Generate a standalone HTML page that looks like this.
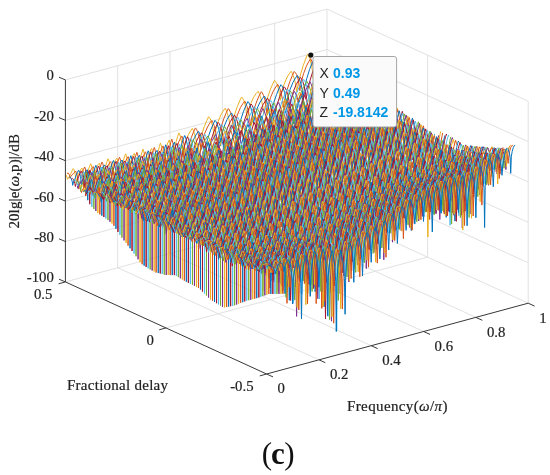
<!DOCTYPE html>
<html><head><meta charset="utf-8"><style>
html,body{margin:0;padding:0;background:#fff;width:550px;height:475px;overflow:hidden}
svg{display:block;filter:blur(0.35px)}
</style></head><body>
<svg width="550" height="475" viewBox="0 0 550 475">
<rect width="550" height="475" fill="#fff"/>
<path d="M65.4 79.9L327.0 9.1M65.4 120.3L327.0 49.5M65.4 160.7L327.0 89.9M65.4 201.1L327.0 130.3M65.4 241.5L327.0 170.7M65.4 281.9L327.0 211.1M117.7 267.7L117.7 65.7M170.0 253.6L170.0 51.6M222.4 239.4L222.4 37.4M274.7 225.3L274.7 23.3M327.0 211.1L327.0 9.1M327.0 9.1L528.2 101.2M327.0 49.5L528.2 141.6M327.0 89.9L528.2 182.0M327.0 130.3L528.2 222.4M327.0 170.7L528.2 262.8M427.6 257.1L427.6 55.1M528.2 303.2L528.2 101.2M117.7 267.7L318.9 359.8M170.0 253.6L371.2 345.7M222.4 239.4L423.6 331.5M274.7 225.3L475.9 317.4M327.0 211.1L528.2 303.2M166.0 327.9L427.6 257.1" stroke="#dedede" stroke-width="0.9" fill="none"/>
<g transform="scale(0.1)" fill="none" stroke-width="10" stroke-linejoin="round">
<path stroke="#EDB120" d="M654 1747l3-3 8 16 6 17 4 16 8-10 11-19 15-31 13-27 10-20 6 7 6 16 8 34 6 41 4 44 8-37 12-38 15-39 12-22 11-11 5 17 6 28 8 46 6 48 4 59 8-63 12-56 15-58 12-39 11-26 5 11 7 22 7 40 6 46 4 66 9-69 11-48 15-40 13-22 10-11 5 17 7 28 8 46 6 48 4 48 8-52 11-56 15-58 13-39 10-26 6 11 6 23 8 42 6 49 4 51 8-53 11-50 15-43 13-23 10-12 6 19 6 30 8 51 6 54 4 58 8-61 12-61 15-64 12-42 11-28 5 13 6 26 8 48 6 55 4 59 8-60 12-57 15-48 12-27 11-14 5 20 7 34 7 56 6 61 4 73 9-76 11-68 15-68 13-46 10-30 5 15 7 29 8 53 6 62 4 68 8-69 11-64 15-53 13-30 10-16 6 22 6 37 8 61 6 68 4 77 8-80 11-75 15-77 13-53 10-34 6 15 6 29 8 54 6 64 4 106 8-112 12-72 15-60 12-34 11-20 5 21 7 36 7 58 7 67 4 74 9-83 13-80 17-78 16-52 13-35 7 15 9 28 11 53 8 63 6 84 12-92 17-72 24-62 21-37 18-24 10 19 11 31 15 54 11 63 8 73 15-88 22-85 28-86 24-59 19-40 11 12 12 24 14 48 12 59 8 87 15-101 22-77 28-69 24-41 19-26 10 18 13 32 14 53 11 62 8 76 16-90 21-83 29-84 24-58 19-39 10 12 13 25 14 49 11 61 8 81 15-91 22-73 28-62 24-37 20-22 10 19 12 31 15 53 11 61 8 68 15-82 22-82 28-82 24-57 20-39 10 11 12 23 15 45 11 57 8 65 15-80 22-76 28-68 24-41 20-26 10 16 12 29 15 47 11 55 8 61 15-83 22-89 28-93 24-65 19-45 10 7 13 31 14 56 12 64 7 80 8-59M837 1760V1921M838 1760V1921"/>
<path stroke="#D95319" d="M674 1737l3-8 6 2 8 12 6 15 4 25 8-19 12-15 15-17 12-12 11-7 5 14 7 24 7 41 6 45 4 54 8-49 12-49 15-59 12-39 11-25 5 10 7 22 7 40 6 46 5 51 8-54 11-47 15-41 13-21 10-11 5 17 7 28 8 46 6 48 4 51 8-55 11-56 15-58 13-40 10-25 6 11 6 21 8 41 6 46 4 50 8-53 11-48 15-40 13-22 10-11 6 18 6 29 8 48 6 51 4 55 8-58 12-58 15-61 12-41 11-27 5 12 7 25 7 45 6 53 4 53 8-55 12-54 15-45 12-25 11-14 5 20 7 33 7 53 6 58 5 80 8-83 11-65 15-66 13-45 10-29 5 15 7 27 8 51 6 59 4 77 8-78 11-61 15-51 13-28 10-16 6 22 6 36 8 58 6 65 4 69 8-72 11-72 15-71 13-47 10-31 6 16 6 31 8 55 6 66 4 88 8-90 12-68 15-60 12-34 11-20 5 22 7 35 7 59 6 67 4 104 8-111 12-79 15-78 12-52 11-34 5 15 7 29 8 53 6 64 5 74 9-80 13-72 18-60 16-34 14-20 7 21 9 36 11 58 8 65 6 79 12-87 18-81 24-79 22-55 18-39 10 13 12 25 14 49 12 60 7 70 16-82 21-77 29-67 24-40 19-25 10 18 13 31 14 54 11 61 8 80 15-95 22-84 28-85 24-59 20-40 10 12 12 25 15 48 11 59 8 88 15-100 22-75 28-67 24-39 20-25 10 19 12 32 15 55 11 62 8 76 15-87 22-80 28-80 24-55 20-37 10 12 12 25 15 47 11 59 8 78 15-91 22-74 28-64 24-39 19-26 10 17 13 30 14 51 12 58 7 75 16-91 21-84 29-85 24-60 19-40 10 10 13 19 14 42 11 53 8 68 15-89 22-80 28-75 24-46 20-31 10 24 12 38 15 61 11 66 4 42M857 1700V1961M858 1700V1961"/>
<path stroke="#0072BD" d="M694 1773l4-5 5 5 7 9 7 17 6 19 4 35 8-33 12-26 15-39 13-32 10-21 5 7 7 19 7 37 6 44 5 48 8-41 11-46 15-41 13-21 10-11 5 17 7 28 8 46 6 48 4 66 8-70 11-56 15-58 13-39 10-26 6 11 6 22 8 40 6 46 4 90 8-93 11-48 15-40 13-21 10-11 6 17 6 28 8 46 6 48 4 47 8-51 12-55 15-58 12-40 11-26 5 11 7 23 7 43 6 49 4 73 8-74 12-51 15-43 13-23 10-13 5 19 7 31 7 51 6 55 5 61 8-64 11-62 15-63 13-43 10-28 5 13 7 26 8 48 6 57 4 63 8-65 11-58 15-48 13-26 10-15 6 21 6 34 8 56 6 62 4 66 8-69 11-69 15-69 13-46 10-30 6 16 6 29 8 53 6 63 4 100 8-101 12-65 15-53 12-30 11-16 5 22 7 38 7 61 6 68 4 75 8-78 12-78 15-78 13-52 10-34 5 16 7 29 7 54 6 65 5 87 8-93 11-71 15-60 13-33 10-20 6 22 6 35 9 59 6 66 5 78 9-86 13-79 19-76 16-52 14-34 7 15 9 29 11 52 9 64 6 96 13-103 18-72 25-61 22-38 18-24 10 19 12 32 15 55 11 63 8 80 15-94 22-83 28-84 24-57 20-40 10 12 12 25 15 49 11 59 8 110 15-123 22-76 28-66 24-40 20-25 10 18 12 31 15 54 11 61 8 69 15-83 22-83 28-84 24-58 19-38 11 13 12 26 14 49 12 60 7 69 16-79 21-72 29-62 24-36 19-24 10 18 13 31 14 53 11 60 8 84 15-97 22-82 29-83 23-57 20-40 10 10 12 23 15 45 11 57 8 67 15-82 22-76 28-68 24-41 20-27 10 15 12 26 15 47 11 55 8 89 15-110 22-89 28-91 24-65 20-34 10 17 12 31 15 55 3 47M877 1714V2002M878 1714V2002"/>
<path stroke="#A2142F" d="M714 1787l10-2 5 4 7 9 7 18 6 20 5 29 8-29 11-30 15-43 13-32 10-22 5 9 7 19 8 39 6 46 4 51 8-48 11-47 15-41 13-21 10-11 6 17 6 28 8 46 6 48 4 79 8-83 12-56 14-58 13-39 11-26 5 11 6 22 8 40 6 46 4 46 8-48 12-48 15-41 12-21 11-11 5 17 7 28 7 46 6 48 4 57 8-60 12-55 15-59 13-40 10-26 5 12 7 23 7 43 6 50 5 57 8-59 11-51 15-43 13-23 10-13 5 19 7 31 8 51 6 56 4 55 8-58 11-63 15-63 13-43 10-29 6 14 6 26 8 49 6 57 4 60 8-62 12-58 14-49 13-26 11-15 5 21 6 34 8 57 6 62 4 66 8-69 12-69 15-69 12-46 11-30 5 15 7 30 7 53 6 63 4 72 8-73 12-65 15-54 13-29 10-17 5 23 7 37 7 61 6 69 5 77 8-81 11-79 15-77 13-52 10-34 5 16 7 30 8 54 6 64 4 76 8-81 11-71 15-59 13-33 10-20 6 22 7 36 8 58 7 67 5 77 9-85 14-78 19-77 16-51 14-34 8 15 9 29 12 53 9 64 6 72 12-79 19-72 25-61 23-38 19-23 10 19 12 32 15 55 11 64 8 93 15-106 22-82 28-83 24-57 19-39 11 12 12 25 14 49 12 60 7 77 16-90 21-75 29-66 24-40 19-24 10 18 13 31 14 53 11 62 8 83 16-97 21-83 29-84 24-58 19-37 10 13 12 26 15 50 11 59 8 87 15-97 22-72 28-62 24-37 20-24 10 18 12 31 15 53 11 60 8 66 15-80 22-81 28-83 24-58 20-41 10 11 12 23 15 45 11 56 8 72 15-87 22-75 28-68 24-41 20-30 10 15 12 26 14 47 12 56 8 70 15-92 22-87 28-92 24-61 19-27 10 17 13 30 7 60M897 1706V2042M898 1706V2042"/>
<path stroke="#4DBEEE" d="M734 1803l6 2 10-6 5 4 7 9 8 18 6 21 4 19 8-20 11-34 15-46 13-31 10-22 6 9 6 20 8 40 6 48 4 81 8-82 12-48 15-40 12-21 11-11 5 17 6 28 8 46 6 48 4 47 8-51 12-55 15-59 12-39 11-25 5 10 7 22 7 41 6 46 4 54 8-57 12-48 15-40 13-22 10-11 5 17 7 29 7 46 6 48 5 77 8-80 11-56 15-58 13-40 10-26 5 12 7 23 8 43 6 50 4 54 8-55 11-52 15-43 13-24 10-12 6 19 6 31 8 52 6 55 4 61 8-63 12-63 15-64 12-43 11-29 5 14 6 27 8 48 6 57 4 76 8-77 12-59 15-48 12-27 11-15 5 21 7 35 7 56 6 63 4 67 8-70 12-69 15-70 13-46 10-30 5 16 7 29 7 54 6 63 5 77 8-78 11-65 15-54 13-30 10-17 5 24 7 37 8 61 6 69 4 79 8-85 11-78 15-77 13-51 10-34 6 16 6 29 8 54 6 65 4 87 8-92 12-70 15-59 12-33 11-20 6 22 7 36 8 59 7 66 5 83 9-90 15-77 19-76 17-51 14-34 8 15 9 29 12 53 9 64 6 79 13-85 19-72 26-62 23-37 19-23 10 20 13 33 14 55 12 63 7 79 16-90 21-82 29-82 24-57 19-38 10 12 13 26 14 49 11 60 8 67 15-79 22-75 28-65 24-40 20-25 10 19 12 31 15 53 11 61 8 88 15-102 22-83 28-83 24-57 20-36 10 13 12 25 15 50 11 59 8 72 15-82 22-71 28-63 24-38 20-24 10 18 12 31 15 53 11 60 8 93 15-107 22-81 28-83 24-59 19-41 10 10 13 23 14 45 12 57 7 74 16-89 21-76 29-67 24-43 19-30 10 14 13 27 14 47 11 55 8 86 15-107 22-87 28-91 24-51 20-28 10 17 8 58M918 1720V2069M919 1720V2069"/>
<path stroke="#77AC30" d="M755 1823l11-3 10-8 6 4 6 9 8 19 6 22 4 49 8-52 12-37 15-45 12-32 11-24 5 11 6 22 8 42 6 46 4 55 8-58 12-47 15-40 12-23 11-12 5 18 7 30 7 46 6 47 4 48 8-52 12-55 15-58 13-40 10-27 5 12 7 23 8 41 5 45 5 47 8-50 11-47 15-40 13-23 10-12 5 18 7 30 8 46 6 48 4 50 8-53 11-55 15-59 13-41 10-27 6 13 6 25 8 43 6 50 4 49 8-51 12-50 15-44 12-25 11-15 5 21 6 33 8 52 6 55 4 74 8-77 12-61 15-65 12-45 11-30 5 16 7 28 7 49 6 57 4 99 8-101 12-57 15-50 13-28 10-17 5 23 7 37 8 57 5 62 5 64 8-67 11-68 15-70 13-49 10-32 5 18 7 31 8 55 6 63 4 112 8-114 11-64 15-55 13-31 10-19 6 25 6 40 8 62 6 66 4 82 8-88 12-77 15-77 12-53 11-35 5 18 6 31 8 55 6 64 4 78 8-83 12-69 15-59 13-35 11-21 5 24 8 38 8 59 7 65 5 86 10-92 14-76 20-76 17-52 15-36 8 18 10 31 11 53 10 63 6 109 13-115 20-70 26-63 23-38 20-25 10 22 12 35 15 57 11 62 8 78 15-89 22-79 28-82 24-58 20-41 10 15 12 28 15 49 11 59 8 69 15-80 22-72 28-67 24-41 20-27 10 21 12 33 15 53 11 60 8 71 15-85 22-81 28-85 24-56 19-39 10 15 13 27 14 50 12 58 7 75 16-85 21-70 29-63 24-41 19-26 10 20 13 33 14 53 11 58 8 77 15-90 22-80 29-85 23-61 20-42 10 12 12 25 15 45 11 55 8 61 15-76 22-74 28-68 24-46 20-32 10 16 12 29 15 47 11 54 8 61 15-81 22-86 28-89 24-46 20-31 6 54M938 1738V2090M939 1738V2090"/>
<path stroke="#7E2F8E" d="M775 1861l3 23 7-29 12-15 14-21 13-18 10-15 5 9 7 16 8 29 6 36 5 38 8-31 11-38 14-48 13-41 10-29 6 15 6 24 8 41 7 43 4 43 8-46 11-45 15-41 12-24 10-15 6 21 7 32 8 46 6 46 4 44 8-48 11-53 15-58 12-42 10-30 6 15 7 25 8 40 6 44 4 49 8-52 11-45 15-42 12-24 11-15 5 21 7 33 8 48 6 48 5 59 7-62 12-54 14-60 13-44 10-30 5 16 7 27 8 46 6 48 5 49 8-50 11-50 14-46 13-28 10-18 6 24 6 37 8 54 7 54 4 54 8-56 11-61 15-66 12-48 10-33 6 19 7 31 8 51 6 56 4 95 8-97 11-57 15-51 12-32 10-21 6 27 7 41 8 59 6 61 4 67 8-69 11-68 15-72 12-51 11-36 5 22 7 34 8 56 6 62 5 76 7-78 12-63 14-56 13-37 10-25 5 29 7 41 8 62 6 63 5 72 8-78 11-74 14-78 13-55 10-39 6 21 6 35 8 55 7 61 4 68 8-73 12-67 16-61 14-38 12-24 7 28 8 41 10 61 8 63 6 90 10-96 16-74 21-78 18-55 16-40 9 21 11 32 13 54 10 58 8 64 13-73 21-69 26-64 22-41 18-28 10 26 13 38 14 58 11 60 8 64 14-76 21-77 26-83 22-60 18-43 10 18 13 30 14 50 11 56 8 63 14-75 21-70 26-67 22-43 18-30 10 24 13 36 14 55 11 58 8 73 14-87 21-77 26-80 22-59 18-41 11 18 12 30 14 50 12 55 7 68 15-77 20-69 26-65 22-42 19-29 10 24 12 36 14 54 12 56 7 74 15-86 20-78 26-85 22-62 19-45 10 16 12 26 14 46 12 53 7 65 15-80 20-70 26-69 22-49 19-34 10 21 12 31 14 49 12 52 8 54 14-73 20-82 26-82 22-49 19-34 3 49M958 1859V2110M959 1859V2110"/>
<path stroke="#EDB120" d="M795 1870l12-7 9-13 6 4 7 9 9 17 6 19 5 17 8-23 10-38 15-44 12-34 10-27 5 14 8 26 8 43 7 41 4 55 8-58 11-43 14-42 12-26 10-18 6 24 7 34 8 47 7 44 4 42 8-46 11-50 14-59 12-43 10-32 6 17 7 26 8 41 7 41 4 50 8-53 11-43 14-42 12-26 10-18 6 24 7 34 9 47 6 45 5 49 7-52 11-50 15-59 12-45 9-32 6 18 7 28 9 44 6 46 5 44 8-45 10-47 15-46 12-29 10-21 5 27 8 39 8 53 7 52 4 58 8-61 11-57 14-65 12-49 10-36 6 22 7 32 8 51 7 51 4 52 8-53 11-53 14-52 12-34 10-23 6 30 7 43 8 59 7 58 4 74 8-76 11-64 14-71 12-53 10-39 6 24 7 37 9 56 6 58 5 86 7-88 11-59 15-57 12-38 9-26 6 33 7 46 9 64 6 62 5 71 8-78 10-71 15-78 12-58 10-42 5 24 8 37 8 56 7 59 4 58 8-63 11-64 14-62 12-41 10-28 7 32 8 44 9 62 7 60 5 59 9-65 14-71 17-77 16-58 13-43 8 24 10 36 12 55 9 57 7 65 11-71 17-65 22-63 20-43 16-31 10 30 13 42 14 59 11 58 8 66 13-76 19-73 24-81 21-60 17-46 10 21 12 33 14 51 11 54 8 60 13-71 19-67 24-66 21-45 17-32 10 28 12 40 15 56 11 56 7 67 14-80 18-74 25-83 20-63 17-46 10 21 12 31 15 51 11 53 8 74 13-83 19-65 24-64 21-44 17-30 10 28 12 40 14 57 11 55 8 57 13-69 19-73 24-82 21-61 17-45 10 20 12 31 14 49 12 51 7 63 13-76 19-68 25-68 20-47 17-33 10 26 12 37 15 53 11 53 8 53 13-68 19-77 24-88 21-66 16-50 10 16 13 27 14 44 11 48 8 58 13-76 19-66 24-52 21-34 2-19M978 1766V2131M979 1766V2131"/>
<path stroke="#D95319" d="M815 1911l0 14 8-24 10-16 14-23 12-21 10-20 6 9 7 15 9 25 7 31 4 37 8-30 11-33 13-46 12-42 10-33 6 18 7 28 9 41 7 39 5 39 7-42 11-42 14-42 11-28 10-20 6 26 7 36 9 48 7 42 5 42 7-46 11-48 14-58 12-46 9-33 6 19 8 27 8 41 7 40 5 35 7-38 11-42 14-43 12-28 9-20 6 27 8 37 9 49 6 44 5 55 8-57 10-50 14-60 12-47 10-35 6 21 7 31 9 45 7 45 4 57 8-58 11-47 13-47 12-33 10-23 6 30 7 42 9 56 7 50 5 51 7-53 11-56 14-66 11-52 10-39 6 24 7 36 9 52 7 51 5 59 7-61 11-52 14-54 12-37 9-28 6 35 8 46 8 62 7 57 5 50 7-53 11-62 14-73 12-56 9-42 6 27 8 40 9 58 6 56 5 57 8-58 10-59 14-59 12-41 10-32 6 36 7 47 9 64 7 59 4 76 8-82 11-69 13-78 12-60 10-46 6 28 7 39 9 57 7 55 5 60 7-65 11-61 15-63 13-44 11-32 7 35 8 48 11 63 8 58 6 60 9-67 13-68 19-79 15-61 14-46 8 27 11 38 13 55 10 54 7 70 11-77 17-64 23-65 19-46 15-33 10 33 12 45 14 61 11 55 8 89 12-98 18-70 22-82 19-64 16-49 10 25 12 35 14 52 11 51 8 73 12-83 17-64 23-67 19-48 15-35 10 32 12 43 14 58 11 53 8 62 12-74 18-71 22-82 19-64 16-48 10 23 12 36 14 51 11 51 8 50 12-60 17-62 23-64 19-46 15-34 10 32 12 43 14 58 11 52 8 58 12-69 18-69 22-81 19-63 16-47 10 23 12 34 14 50 11 48 8 50 12-63 17-65 23-67 19-49 15-35 10 29 12 40 15 54 11 51 7 80 12-94 18-72 22-86 19-68 16-52 10 20 12 30 14 44 11 46 8 52 12-68 17-67 23-60 19-37 15-26 5 54M998 1873V2144M999 1873V2144"/>
<path stroke="#0072BD" d="M835 1918l8-12 9-1 7 6 5 29 7-38 11-25 13-33 12-29 9-21 6 20 8 31 9 43 7 42 5 49 7-42 11-42 13-58 12-44 9-34 6 19 8 27 9 40 7 39 5 35 8-37 10-42 13-43 12-29 9-20 7 27 7 36 10 48 7 43 4 53 8-57 10-49 14-57 11-45 9-34 7 19 8 27 9 41 7 39 5 52 7-54 10-42 14-43 11-29 10-20 6 28 8 37 9 51 7 46 5 60 7-63 11-50 13-61 12-47 9-36 6 21 8 31 9 47 7 46 5 52 7-54 11-47 13-49 12-34 9-24 6 32 8 42 9 57 7 52 5 66 8-68 10-57 13-67 12-52 9-40 7 25 7 36 10 53 7 52 4 56 8-58 10-53 14-55 11-39 9-28 7 35 8 48 9 63 7 57 5 59 7-61 10-63 14-73 11-57 10-43 6 29 8 40 9 58 7 57 5 55 7-57 11-60 13-63 12-44 9-32 6 36 8 48 9 64 7 59 5 67 7-73 11-68 13-78 12-60 9-45 6 27 8 39 10 56 7 55 5 73 8-78 11-62 15-63 13-44 11-32 8 36 9 47 11 63 9 57 6 71 10-77 13-69 18-78 16-61 13-46 9 26 11 37 14 54 10 53 7 54 12-61 16-63 20-65 18-45 14-33 10 34 12 45 14 61 11 55 7 51 11-60 16-70 21-82 18-63 14-48 10 25 12 34 14 52 10 51 8 79 11-89 16-64 21-66 17-47 15-34 9 32 12 43 14 58 11 54 8 59 11-70 16-70 21-81 17-62 14-48 10 24 12 35 14 51 11 50 7 59 12-68 16-62 20-64 18-45 14-33 10 32 12 43 14 58 11 53 7 58 11-68 16-69 21-79 18-61 14-47 10 24 12 34 14 49 10 50 8 54 11-66 16-64 21-67 17-48 15-35 9 30 12 41 14 54 11 51 8 46 11-59 16-70 21-82 17-66 15-50 9 20 12 29 14 45 11 45 8 62 11-76 16-66 20-68 18-49 14-26 10 35 12 47 14 61 1 23M1018 1809V2157M1019 1809V2157"/>
<path stroke="#A2142F" d="M855 1949l8-11 13-24 11-22 9-20 7 5 8 10 10 19 7 20 5 33 7-34 10-30 13-43 12-38 9-32 6 18 8 27 10 40 7 39 5 84 7-87 10-42 14-43 11-28 9-21 6 28 8 36 10 48 7 42 5 35 8-38 10-48 13-58 11-44 9-33 7 18 8 27 9 40 8 39 5 48 7-50 10-43 13-43 11-29 9-20 7 27 8 37 9 50 8 44 5 39 7-41 10-49 13-59 11-46 9-35 7 21 8 30 10 44 7 45 5 44 7-46 10-46 13-48 12-33 9-23 6 31 8 42 10 56 7 50 5 51 7-53 10-55 14-65 11-51 9-39 6 24 8 35 10 51 7 50 5 51 8-52 10-53 13-53 11-38 9-27 7 34 8 47 9 62 8 57 5 71 7-73 10-62 13-72 11-55 9-42 7 27 8 39 9 57 8 55 5 62 7-63 10-59 13-59 11-41 9-31 7 37 8 48 10 64 7 59 5 64 7-70 10-68 13-77 12-59 9-45 6 27 8 38 10 56 7 55 5 55 7-60 11-61 13-63 12-44 9-32 7 36 9 47 11 64 8 58 6 61 8-68 12-68 15-77 14-60 11-46 8 27 11 37 12 54 10 54 6 88 10-95 13-62 19-64 15-45 13-33 10 35 11 46 14 61 11 56 7 74 10-82 15-68 19-78 16-61 13-45 10 24 11 35 14 51 11 51 7 52 10-61 15-63 19-66 16-47 13-33 10 32 11 44 14 59 11 54 7 54 10-64 15-69 19-80 16-61 13-47 10 23 11 34 14 51 11 50 7 68 10-77 15-63 19-65 16-45 13-33 10 33 11 44 14 58 11 54 7 51 10-60 15-68 19-78 16-60 13-46 10 23 11 34 14 50 11 50 7 52 10-60 15-61 19-64 16-44 13-33 10 33 11 43 14 56 11 52 7 53 10-66 15-69 19-80 16-62 13-48 10 22 11 31 14 47 11 48 7 50 10-62 15-62 19-67 16-49 13-35 10 29 11 39 14 52 11 49 7 47 10-61 15-70 19-82 16-64 13-43 10 27 11 37 14 55 9 53M1038 1858V2170M1039 1858V2170"/>
<path stroke="#4DBEEE" d="M875 1939l4-2 11-17 9-15 6 3 9 7 10 16 7 17 6 39 7-49 9-39 13-38 11-35 9-29 7 16 8 27 10 41 8 39 5 39 7-42 10-42 12-43 11-29 9-20 7 27 8 36 10 49 8 42 5 47 7-50 10-48 13-57 10-44 9-33 7 18 8 26 10 40 8 39 5 36 7-39 10-42 13-43 11-29 8-21 7 28 9 36 10 49 7 44 5 63 7-65 10-48 13-58 11-45 9-35 6 20 9 29 10 44 7 43 6 69 7-70 9-46 13-47 11-33 9-23 7 31 8 41 10 56 8 50 5 62 7-64 10-55 12-64 11-50 9-38 7 23 8 34 10 50 8 50 5 53 7-54 10-53 13-53 10-38 9-27 7 35 8 46 10 62 8 56 5 56 7-58 10-61 13-70 11-55 8-42 7 27 9 38 10 56 7 55 5 77 7-79 10-58 13-59 11-42 9-30 6 38 9 50 10 65 7 59 6 56 7-62 9-68 13-76 11-60 9-45 7 27 8 39 10 55 8 55 5 53 7-58 10-62 12-63 11-44 9-32 8 36 8 48 11 63 8 59 6 52 7-58 11-68 14-76 13-60 10-45 8 26 10 38 12 54 9 54 6 81 9-88 12-61 16-64 14-44 12-33 9 35 11 46 13 62 10 57 8 87 9-95 13-67 18-78 14-59 12-46 10 26 11 36 13 52 11 53 7 51 9-60 14-63 17-65 15-46 12-33 9 33 11 44 14 60 10 54 7 52 9-61 14-69 17-78 15-61 12-46 9 24 11 34 14 50 10 51 7 48 10-57 13-62 17-65 15-45 12-33 9 32 12 44 13 59 10 54 8 62 9-71 13-67 18-77 14-59 12-45 10 23 11 34 13 50 11 50 7 57 9-65 14-61 17-63 15-44 12-32 9 33 11 43 14 59 10 53 7 77 9-86 14-66 17-76 15-59 12-46 9 22 11 31 14 47 10 48 7 48 10-58 13-63 17-64 15-46 12-34 9 31 12 41 13 56 10 51 8 48 9-60 13-69 18-81 14-62 12-48 10 20 11 30 13 45 11 45 7 50 9-62 13-63 18-67 14-40 12-26 10 36 11 47 10 55M1058 1818V2184M1059 1818V2184"/>
<path stroke="#77AC30" d="M895 1936l9-9 9-13 7 3 8 8 11 15 7 17 6 27 7-35 9-36 13-43 10-33 9-28 7 15 8 25 11 43 8 39 5 36 7-39 9-42 13-44 10-29 9-20 7 27 9 37 10 49 8 42 5 68 7-71 10-48 12-56 11-44 8-33 7 18 9 26 10 39 8 39 6 39 6-42 10-42 12-44 11-29 8-21 7 28 9 37 10 49 8 43 6 49 6-51 10-48 12-57 11-45 9-34 7 19 8 29 11 43 7 44 6 45 7-47 9-46 13-47 10-33 9-23 7 30 8 42 11 56 8 50 5 48 7-50 9-54 13-64 10-50 9-37 7 22 9 34 10 50 8 49 5 63 7-64 10-53 12-53 11-38 8-27 7 34 9 47 10 62 8 56 6 61 6-63 10-60 12-70 11-55 8-41 7 26 9 38 10 55 8 55 6 83 6-85 10-58 12-60 11-42 9-30 7 38 8 50 11 66 7 59 6 54 7-60 9-67 13-76 10-59 9-45 7 27 8 38 11 55 8 54 5 66 7-71 9-62 13-63 10-44 9-32 7 36 9 48 11 64 8 58 6 59 7-65 10-67 14-76 11-58 10-45 8 26 10 37 11 54 9 54 7 52 7-58 12-62 14-63 13-45 10-32 9 35 11 47 12 63 10 56 7 55 9-61 12-68 16-76 13-59 11-44 9 25 11 36 13 52 10 53 7 65 8-72 12-61 16-64 13-46 11-33 9 33 11 45 13 60 10 55 7 62 9-70 12-68 16-77 13-60 11-46 9 24 11 34 13 50 10 51 7 52 8-60 12-62 16-64 13-45 11-33 9 33 11 45 13 59 10 54 7 57 9-65 12-67 16-77 13-58 11-45 9 24 11 33 13 51 10 50 7 60 8-68 12-60 16-63 13-44 11-32 9 33 11 45 13 59 10 53 7 52 9-60 12-65 16-75 13-58 11-45 9 23 11 34 13 49 10 50 7 84 8-92 12-61 16-64 13-45 11-33 9 31 11 42 13 56 10 52 7 46 9-57 12-66 15-77 14-60 11-45 9 21 11 32 13 45 10 46 7 48 8-59 12-63 16-65 13-47 11-33 9 29 11 40 13 54 10 50 7 56 9-68 12-68 15-67 14-52 11-39 9 26 4 26M1079 1813V2201M1080 1813V2201"/>
<path stroke="#7E2F8E" d="M916 1942l6-7 12-18 10-16 9-14 7 7 9 13 10 22 9 24 5 30 7-30 9-29 12-42 10-37 9-30 7 17 9 26 11 39 8 38 6 42 6-45 9-42 12-44 11-29 8-21 7 28 9 37 11 49 8 42 6 83 6-86 9-48 13-56 10-43 8-33 7 18 9 25 11 40 8 38 6 47 6-50 10-42 12-44 10-30 8-21 8 28 9 38 10 50 8 45 6 72 7-74 9-49 12-57 10-45 9-35 7 20 9 29 10 43 9 44 5 53 7-55 9-46 12-49 10-33 9-24 7 31 9 43 11 56 8 51 6 49 6-50 9-56 12-64 11-49 8-38 7 23 9 33 11 50 8 51 6 47 6-49 9-53 13-55 10-39 8-27 7 35 9 47 11 63 8 58 6 83 6-85 10-62 12-71 10-54 8-42 8 26 9 38 10 55 8 56 6 60 7-63 9-58 12-61 10-42 9-31 7 38 9 48 10 65 9 59 5 62 7-68 9-67 12-76 10-58 9-44 7 26 9 37 11 54 8 55 6 55 6-61 9-61 12-63 11-45 8-32 8 36 9 48 11 64 9 58 6 54 7-59 10-67 12-75 11-58 10-44 8 25 9 37 12 53 9 54 7 57 7-63 10-62 14-63 12-44 9-32 9 35 10 48 13 62 9 57 7 59 8-65 11-66 14-76 12-58 10-44 8 25 11 36 12 52 10 53 7 54 7-60 11-62 15-64 12-45 9-33 9 34 11 46 12 60 10 56 6 50 8-58 11-67 14-76 12-59 10-45 9 24 10 34 13 50 9 51 7 61 8-69 11-61 14-64 12-44 10-33 9 34 10 45 13 60 9 54 7 52 8-60 11-66 14-75 12-58 10-44 8 23 11 34 12 50 10 50 7 70 7-77 11-60 14-62 12-44 10-31 9 33 11 45 12 60 10 54 6 49 8-57 11-65 14-74 12-57 10-43 9 23 10 33 13 49 9 50 7 60 8-67 11-60 14-61 12-43 10-32 8 32 11 43 12 57 10 52 7 48 7-57 11-66 15-76 12-58 9-44 9 21 11 31 12 47 10 48 7 68 7-77 11-61 14-63 12-46 10-33 9 31 10 41 13 54 10 51 6 44 8-56 11-66 14-76 12-60 10-45 9 20 10 30 13 46 9 52 7 51 8-53 11-54 14-54 1-11M1099 1881V2218M1100 1881V2218"/>
<path stroke="#EDB120" d="M936 1931l2-2 8-9 8 4 9 10 11 17 9 18 6 27 6-31 9-31 12-44 9-31 9-27 7 14 9 23 11 41 9 41 6 38 6-41 9-42 12-44 10-30 8-21 7 28 10 38 11 49 8 42 6 51 6-54 9-48 12-55 10-43 8-33 8 18 9 25 11 39 8 38 6 35 6-38 9-43 12-44 10-30 8-20 8 28 9 37 11 49 8 44 6 41 7-43 9-48 11-56 10-44 8-33 8 18 9 28 11 42 9 43 6 52 6-54 9-46 12-47 9-34 9-23 7 31 9 42 11 56 9 50 6 43 6-45 9-54 12-62 10-49 8-37 7 22 10 32 11 49 8 49 6 51 6-52 9-53 12-54 10-38 8-27 8 35 9 46 11 63 8 57 6 52 6-54 9-61 12-69 10-53 8-42 8 26 9 37 11 54 8 55 6 54 7-57 9-58 11-60 10-43 8-30 8 37 9 51 11 66 9 60 6 59 6-64 9-67 12-76 9-58 9-44 7 26 9 37 11 54 9 54 6 90 6-95 9-62 12-63 10-45 8-32 7 36 10 49 11 64 8 58 6 53 7-59 9-66 12-75 10-57 9-44 7 26 10 36 12 53 8 54 7 56 6-62 10-61 12-63 10-44 9-32 8 36 10 48 12 63 9 58 6 57 7-63 10-66 13-75 10-57 9-43 9 25 10 35 12 53 9 52 6 54 7-59 10-61 13-62 10-44 9-32 9 36 10 46 12 62 9 55 6 76 7-83 10-66 13-75 10-58 9-44 8 23 11 34 12 51 9 51 6 55 7-62 10-61 13-63 10-45 9-32 8 34 11 46 11 60 10 56 6 57 7-65 10-65 13-75 10-57 9-44 8 23 11 34 11 50 10 50 6 55 7-62 10-60 12-62 11-44 9-31 8 34 10 45 12 61 10 54 6 54 7-60 10-65 12-73 11-57 9-43 8 23 10 34 12 50 10 50 6 54 7-61 10-59 12-62 11-43 9-31 8 34 10 45 12 60 10 54 6 48 7-55 10-64 12-72 11-56 9-43 8 22 10 31 12 48 9 48 7 51 7-60 10-60 12-62 11-44 9-32 8 32 10 44 12 57 9 52 7 52 7-61 10-64 12-74 11-57 9-44 8 21 10 29 12 46 9 46 7 45 7-55 10-60 12-64 11-44 9-33 8 31 10 42 12 55 9 50 7 52 7-62 9-61 13-67 11-50 9-39 8 25 6 25M1119 1816V2235M1120 1816V2235"/>
<path stroke="#D95319" d="M956 1929l7-7 8-9 8 6 10 12 11 21 9 21 6 19 6-21 9-31 11-39 10-32 8-27 7 13 10 25 11 41 9 38 6 70 6-73 9-42 11-44 10-30 8-21 8 28 9 37 11 49 9 43 6 43 6-46 9-47 11-55 10-43 8-32 8 17 9 25 12 38 8 38 7 35 6-38 8-43 12-44 9-30 8-21 8 28 10 38 11 49 9 44 6 38 6-39 9-48 11-56 9-44 8-33 8 18 10 28 11 42 9 43 6 43 6-45 9-46 11-49 10-33 8-24 7 31 10 43 11 56 9 51 6 52 6-54 9-54 11-63 10-48 8-37 8 22 9 32 11 49 9 49 6 83 6-85 9-53 11-54 10-39 8-28 8 36 9 47 12 63 8 57 7 76 6-78 8-60 12-69 9-54 8-41 8 25 10 37 11 54 9 54 6 65 6-67 9-59 11-61 9-42 8-31 8 37 10 51 11 67 9 59 6 54 6-60 9-67 11-75 10-57 8-44 7 26 10 36 11 54 9 53 6 59 6-64 9-62 11-63 10-45 8-32 8 36 9 49 11 64 9 58 6 62 6-67 9-66 11-74 10-57 8-43 8 25 9 36 12 53 8 53 7 58 6-63 8-61 12-63 9-44 8-32 8 36 10 49 11 63 9 58 6 65 6-70 9-66 11-73 9-57 8-42 8 24 10 36 11 52 9 53 6 56 6-61 9-61 11-62 10-43 8-32 7 36 10 48 11 63 9 56 6 73 6-80 9-65 11-74 10-57 8-43 8 23 9 34 11 51 9 51 6 58 6-65 9-60 11-63 10-44 8-32 8 35 9 46 12 61 8 56 7 56 6-63 8-65 12-73 9-57 8-42 8 23 10 33 11 50 9 51 6 64 6-71 9-60 11-62 9-44 8-31 8 34 10 46 11 61 9 55 6 54 6-60 9-64 11-72 10-56 8-42 7 23 10 34 11 49 9 51 6 85 6-92 9-59 11-61 10-43 8-30 8 34 9 46 11 60 9 55 6 50 6-56 9-64 11-72 10-55 8-42 8 23 9 33 12 49 8 50 7 48 6-54 8-59 12-60 9-43 8-32 8 33 10 44 11 58 9 53 6 55 6-63 9-64 11-72 9-56 8-43 8 22 10 31 11 47 9 48 6 59 6-67 9-59 11-61 10-43 8-32 7 31 10 43 11 56 9 52 6 49 6-59 9-64 11-73 10-57 8-43 8 20 9 30 11 45 9 46 6 48 6-57 9-59 11-58 10-38 8-26 8 36 9 48 11 58M1139 1837V2258M1140 1837V2258"/>
<path stroke="#0072BD" d="M976 1937l0 0 10 9 11 15 9 17 6 39 6-39 9-24 11-36 10-33 8-28 8 11 9 20 12 35 8 40 6 37 6-29 9-42 12-44 9-30 8-21 8 28 9 38 12 49 8 43 7 36 6-39 8-48 12-55 9-43 8-32 8 17 10 25 11 38 9 39 6 61 6-64 9-43 11-45 10-30 7-21 8 28 10 38 11 49 9 44 6 57 6-61 9-47 11-55 10-43 8-33 7 18 10 27 11 41 9 42 6 45 6-46 9-46 11-47 10-34 8-23 8 31 9 42 12 56 8 49 6 45 6-46 9-54 12-62 9-48 8-36 8 21 9 32 12 48 8 49 7 55 6-57 8-52 12-54 9-38 8-27 8 34 10 47 11 62 9 57 6 63 6-65 9-60 11-68 10-53 7-41 8 26 10 36 11 53 9 54 6 55 6-58 9-58 11-60 10-43 8-30 7 37 10 50 11 67 9 60 6 68 6-71 9-66 11-75 10-58 8-43 8 25 9 36 12 54 8 54 6 59 6-65 9-62 12-63 9-45 8-32 8 36 9 49 12 64 8 58 7 80 6-85 8-66 12-75 9-57 8-43 8 25 10 36 11 53 9 54 6 55 6-61 9-61 11-62 10-45 7-31 8 36 10 48 11 64 9 58 6 51 6-57 9-65 11-74 10-56 8-43 7 25 10 35 11 53 9 52 6 52 6-57 9-60 11-63 10-43 8-32 8 36 9 48 12 63 8 57 6 54 6-59 9-66 12-74 9-57 8-43 8 24 9 34 12 50 8 52 7 56 6-63 8-61 12-62 9-45 8-31 8 34 10 47 11 61 9 56 6 55 6-62 9-65 11-73 10-57 7-43 8 23 10 34 11 50 9 51 6 54 6-61 9-60 11-62 10-44 8-31 7 34 10 46 11 61 9 55 6 51 6-58 9-64 11-72 10-56 8-42 8 23 9 34 12 49 8 51 6 48 6-55 9-59 12-61 9-43 8-30 8 34 9 46 12 60 8 55 7 51 6-58 8-63 12-72 9-55 8-42 8 23 10 33 11 49 9 50 6 57 6-63 9-59 11-60 10-43 7-30 8 34 10 44 11 58 9 53 6 49 6-57 9-63 11-73 10-56 8-42 7 21 10 31 11 47 9 48 6 51 6-58 9-59 11-61 10-44 8-31 8 33 9 43 12 57 8 51 6 49 6-58 9-64 12-73 9-57 8-43 8 21 9 29 12 46 8 46 7 47 6-56 8-59 12-62 9-44 8-31 8 36 10 48 11 63 9 56 6 57 6-59 1-9M1159 1894V2288M1160 1894V2288"/>
<path stroke="#A2142F" d="M996 1931l3 3 10 10 11 18 9 19 6 19 6-17 9-23 11-35 10-33 7-26 8 11 10 20 11 37 9 40 6 45 6-38 9-43 11-44 10-30 8-21 7 28 10 38 11 49 9 43 6 49 6-52 9-48 11-55 10-43 8-32 8 17 9 25 12 38 8 39 6 46 7-49 8-43 12-45 9-30 8-21 8 28 9 38 12 49 9 43 6 38 6-41 8-47 12-55 9-43 8-33 8 18 10 27 11 41 9 42 6 44 6-45 9-46 11-48 10-33 7-24 8 32 10 42 11 55 9 51 6 49 6-51 9-54 11-62 10-48 8-37 7 22 10 32 11 48 9 49 6 65 6-67 9-52 11-55 10-38 8-27 8 35 9 47 12 62 8 56 6 61 7-62 8-60 12-69 9-53 8-40 8 25 9 36 12 54 9 54 6 68 6-71 8-59 12-60 9-43 8-30 8 37 10 50 11 66 9 61 6 67 6-70 9-67 11-75 10-58 7-43 8 25 10 36 11 54 9 54 6 79 6-85 9-62 11-63 10-45 8-32 7 36 10 49 11 64 9 58 6 59 6-65 9-66 11-74 10-57 8-43 8 25 9 36 12 53 8 53 6 58 7-63 8-61 12-63 9-44 8-32 8 36 9 49 12 63 9 58 6 52 6-58 8-65 12-73 9-57 8-43 8 25 10 36 11 52 9 53 6 51 6-57 9-60 11-62 10-44 7-31 8 35 10 48 11 63 9 57 6 51 6-56 9-66 11-74 10-57 8-43 7 23 10 35 11 50 9 51 6 50 6-56 9-61 11-62 10-45 8-31 8 34 9 47 12 61 8 55 6 63 7-69 8-65 12-74 9-56 8-43 8 23 9 34 12 50 9 51 6 49 6-56 8-60 12-62 9-44 8-31 8 34 10 46 11 61 9 54 6 54 6-60 9-64 11-72 10-56 7-42 8 23 10 34 11 49 9 51 6 55 6-62 9-59 11-61 10-42 8-31 7 34 10 46 11 60 9 55 6 51 6-58 9-63 11-72 10-55 8-42 8 23 9 33 12 49 8 50 6 47 7-53 8-59 12-60 9-43 8-30 8 34 9 44 12 58 9 53 6 52 6-60 8-63 12-73 9-56 8-42 8 21 10 32 11 47 9 48 6 60 6-68 9-59 11-61 10-43 7-31 8 33 10 43 11 56 9 52 6 51 6-60 9-64 11-73 10-56 8-43 7 20 10 30 11 45 9 46 6 50 6-59 9-59 11-61 10-44 8-29 8 36 9 48 12 62 8 56 6 59 5-52M1179 1894V2319M1180 1894V2319"/>
<path stroke="#4DBEEE" d="M1016 1922l5-3 8 8 10 14 11 23 9 23 6 32 6-28 9-25 11-36 10-31 8-26 8 13 9 22 11 39 9 43 6 58 6-60 9-43 11-44 10-30 8-21 8 28 9 38 12 49 8 43 6 36 7-39 8-48 12-55 9-43 8-32 8 17 10 25 11 38 9 39 6 39 6-43 8-43 12-44 9-30 8-22 8 29 10 38 11 49 9 43 6 43 6-44 9-48 11-56 10-43 7-34 8 18 10 28 11 42 9 43 6 45 6-47 9-46 11-49 10-33 8-24 8 31 9 43 11 56 9 50 6 57 6-58 9-54 11-63 10-48 8-37 8 22 9 32 12 48 8 50 6 60 7-62 8-53 12-55 9-38 8-28 8 35 10 48 11 62 9 57 6 66 6-67 8-61 12-69 9-53 8-41 8 25 10 36 11 54 9 54 6 99 6-102 9-59 11-60 10-43 7-31 8 37 10 51 11 66 9 61 6 53 6-59 9-67 11-75 10-57 8-44 8 26 9 36 11 53 9 54 6 56 6-62 9-61 11-64 10-45 8-32 8 36 9 49 12 64 8 58 6 53 7-58 8-66 12-75 9-56 8-44 8 25 10 36 11 53 9 54 6 57 6-63 8-61 12-63 9-44 8-32 8 37 10 48 11 63 9 58 6 86 6-92 9-65 11-73 10-57 7-43 8 25 10 36 11 52 9 52 6 57 6-62 9-60 11-63 10-43 8-32 8 36 9 48 11 63 9 57 6 52 6-59 9-65 11-74 10-57 8-43 8 23 9 34 12 51 8 51 6 50 7-57 8-60 12-63 9-44 8-32 8 35 10 46 11 62 9 55 6 64 6-71 8-64 12-74 9-56 8-43 8 23 10 34 11 50 9 50 6 57 6-63 9-60 11-62 10-44 7-31 8 34 10 46 11 61 9 55 6 72 6-79 9-64 11-72 10-55 8-42 8 23 9 33 11 50 9 50 6 74 6-81 9-58 11-61 10-43 8-31 8 34 9 46 12 60 8 55 6 49 7-56 8-63 12-71 9-55 8-42 8 23 10 32 11 49 9 50 6 48 6-54 8-59 12-60 9-42 8-31 8 33 10 44 11 58 9 53 6 80 6-88 9-63 11-72 10-56 7-42 8 21 10 31 11 47 9 48 6 45 6-52 9-59 11-61 10-43 8-31 8 32 9 43 11 57 9 51 6 50 6-59 9-64 11-73 10-56 8-42 8 20 9 30 12 45 8 46 6 52 7-61 8-59 12-61 9-40 8-27 8 36 10 48 11 62 9 55 0 6M1199 1862V2349M1200 1862V2349"/>
<path stroke="#77AC30" d="M1036 1940l3 4 11 18 9 19 6 29 6-23 9-18 11-29 10-27 8-24 7 9 10 18 11 34 9 38 6 58 6-51 9-35 11-44 10-30 8-21 8 28 9 38 12 49 8 43 6 35 7-39 8-47 12-55 9-43 8-32 8 17 9 25 12 38 9 38 6 39 6-42 8-43 12-44 9-31 8-21 8 29 10 37 11 50 9 43 6 38 6-41 9-48 11-55 10-43 7-33 8 18 10 27 11 41 9 42 6 41 6-43 9-45 11-48 10-33 8-23 7 31 10 41 11 56 9 50 6 46 6-48 9-53 11-62 10-48 8-37 8 22 9 32 12 47 8 49 6 45 7-47 8-52 12-54 9-38 8-27 8 35 9 46 12 62 9 57 6 51 6-53 8-60 12-68 9-53 8-41 8 26 10 36 11 53 9 54 6 62 6-65 9-59 11-60 10-43 7-30 8 37 10 50 11 66 9 60 6 55 6-58 9-65 11-75 10-58 8-44 7 26 10 36 11 54 9 53 6 70 6-75 9-62 11-64 10-45 8-32 8 37 9 48 12 64 8 58 6 84 7-89 8-66 12-75 9-57 8-43 8 25 9 36 12 53 9 53 6 56 6-61 8-61 12-63 9-44 8-32 8 36 10 48 11 64 9 57 6 55 6-60 9-65 11-74 10-56 7-43 8 24 10 36 11 52 9 53 6 74 6-80 9-60 11-62 10-44 8-31 7 35 10 48 11 63 9 57 6 54 6-60 9-64 11-74 10-57 8-43 8 23 9 34 12 51 8 51 6 59 7-66 8-60 12-63 9-44 8-32 8 35 9 46 12 62 9 55 6 53 6-59 8-65 12-74 9-56 8-43 8 23 10 34 11 50 9 50 6 59 6-65 9-60 11-62 10-44 7-31 8 34 10 46 11 61 9 55 6 71 6-78 9-64 11-72 10-56 8-42 7 23 10 34 11 49 9 50 6 74 6-80 9-59 11-61 10-43 8-30 8 34 9 45 12 61 8 54 6 65 7-71 8-63 12-72 9-55 8-42 8 23 9 33 12 49 9 49 6 60 6-66 8-58 12-60 9-43 8-30 8 34 10 45 11 58 9 53 6 56 6-64 9-63 11-72 10-56 7-42 8 21 10 32 11 47 9 48 6 48 6-56 9-58 11-61 10-43 8-31 7 33 10 43 11 58 9 51 6 49 6-58 9-64 11-72 10-56 8-43 8 20 9 30 12 46 8 46 6 48 7-57 8-59 12-61 9-43 8-31 8 32 9 47 12 63 9 55 6 52 6-54 8-58 0-1M1219 1957V2377M1220 1957V2377"/>
<path stroke="#7E2F8E" d="M1056 1920l7 7 9 16 11 24 9 23 6 40 6-32 9-20 11-30 10-29 8-25 8 12 9 21 12 37 8 41 7 41 6-37 8-43 12-44 9-30 8-21 8 28 10 38 11 49 9 43 6 63 6-66 9-48 11-55 9-43 8-32 8 16 10 26 11 38 9 39 6 36 6-40 9-43 11-44 10-31 8-21 7 28 10 38 11 50 9 43 6 43 6-45 9-48 11-55 10-44 8-33 8 18 9 27 11 42 9 42 6 56 6-57 9-46 11-48 10-34 8-24 8 32 9 42 12 56 8 50 7 58 6-59 8-54 12-63 9-48 8-37 8 22 10 32 11 48 9 49 6 49 6-50 9-53 11-55 9-38 8-28 8 35 10 47 11 63 9 57 6 59 6-61 9-60 11-69 10-53 8-41 7 25 10 36 11 54 9 54 6 66 6-69 9-59 11-61 10-43 8-31 8 37 9 50 11 67 9 60 6 61 6-65 9-67 11-75 10-58 8-43 8 25 9 36 12 54 8 53 7 66 6-71 8-62 12-64 9-45 8-32 8 37 10 48 11 64 9 58 6 53 6-59 9-66 11-74 9-57 8-43 8 25 10 36 11 53 9 53 6 52 6-58 9-60 11-63 10-45 8-31 7 36 10 48 11 63 9 58 6 52 6-58 9-65 11-73 10-57 8-43 8 25 9 35 11 53 9 52 6 51 6-56 9-61 11-62 10-44 8-31 8 36 9 47 12 63 8 57 7 64 6-70 8-65 12-74 9-57 8-43 8 23 10 34 11 51 9 51 6 77 6-84 9-60 11-62 9-45 8-31 8 34 10 47 11 61 9 55 6 64 6-70 9-65 11-73 10-57 8-42 7 23 10 33 11 50 9 51 6 49 6-56 9-60 11-62 10-43 8-31 8 34 9 45 11 61 9 55 6 52 6-58 9-64 11-72 10-56 8-42 8 23 9 33 12 50 8 50 7 64 6-70 8-59 12-61 9-43 8-30 8 34 10 45 11 60 9 55 6 58 6-64 9-64 11-71 9-55 8-42 8 23 10 33 11 49 9 49 6 47 6-53 9-59 11-60 10-42 8-30 7 33 10 44 11 58 9 53 6 55 6-62 9-64 11-72 10-55 8-42 8 21 9 32 11 47 9 47 6 62 6-69 9-58 11-61 10-43 8-30 8 32 9 43 12 57 8 51 7 46 6-55 8-63 12-73 9-56 8-42 8 20 10 30 11 45 9 47 6 51 6-60 9-58 11-61 9-44 8-27 8 36 10 47 11 62 9 55 6 52 2-20M1240 1909V2404M1241 1909V2404"/>
<path stroke="#EDB120" d="M1077 1942l6 10 12 21 8 21 6 20 7-12 8-17 12-29 9-26 8-23 8 9 9 19 12 36 9 39 6 50 6-43 8-39 12-44 9-30 8-21 8 28 10 38 11 49 9 43 6 40 6-44 9-47 11-55 10-43 7-33 8 17 10 26 11 38 9 38 6 39 6-42 9-43 11-44 10-31 8-21 7 28 10 38 11 50 9 43 6 37 6-40 9-48 11-55 10-43 8-34 8 18 9 27 12 42 8 42 6 42 7-44 8-45 12-48 9-33 8-24 8 31 9 42 12 56 9 50 6 43 6-45 8-53 12-62 9-49 8-37 8 22 10 32 11 48 9 49 6 50 6-52 9-52 11-54 10-39 7-27 8 35 10 47 11 62 9 57 6 54 6-56 9-60 11-69 10-53 8-41 7 26 10 36 11 53 9 54 6 51 6-54 9-59 11-61 10-43 8-30 8 37 9 49 12 66 8 60 6 66 7-69 8-66 12-75 9-57 8-44 8 25 9 36 12 54 9 53 6 55 6-60 8-62 12-64 9-45 8-32 8 37 10 48 11 64 9 58 6 52 6-58 9-66 11-74 10-57 7-43 8 25 10 36 11 53 9 53 6 70 6-76 9-61 11-63 10-44 8-32 7 36 10 49 11 63 9 57 6 62 6-67 9-65 11-74 10-56 8-43 8 24 9 36 12 52 8 52 6 75 7-80 8-60 12-63 9-43 8-32 8 36 9 48 12 62 9 57 6 69 6-74 8-65 12-74 9-57 8-43 8 23 10 34 11 51 9 51 6 54 6-61 9-60 11-62 10-45 7-31 8 34 10 47 11 61 9 55 6 50 6-56 9-65 11-73 10-56 8-43 7 23 10 33 11 50 9 51 6 79 6-86 9-60 11-61 10-44 8-31 8 34 9 46 12 60 8 55 6 50 7-57 8-63 12-72 9-56 8-42 8 23 9 33 12 50 9 50 6 47 6-54 8-58 12-61 9-43 8-30 8 34 10 45 11 60 9 55 6 60 6-67 9-63 11-71 10-55 7-42 8 23 10 33 11 48 9 50 6 48 6-55 9-58 11-60 10-42 8-30 7 33 10 45 11 58 9 53 6 61 6-68 9-64 11-71 10-56 8-42 8 22 9 31 12 47 8 48 6 52 7-60 8-58 12-60 9-43 8-31 8 33 9 43 12 57 9 52 6 53 6-62 8-63 12-73 9-55 8-43 8 21 10 30 11 45 9 46 6 66 6-74 9-59 11-61 10-43 7-31 8 35 10 47 11 62 9 55 6 64 6-66 5-32M1260 1957V2430M1261 1957V2430"/>
<path stroke="#D95319" d="M1097 1961l0 0 11 20 9 19 6 23 6-15 9-16 11-26 10-26 8-22 7 9 10 18 11 33 9 37 6 63 6-55 9-35 11-43 10-30 8-21 8 28 9 38 12 49 8 43 6 53 7-56 8-48 12-55 9-43 8-32 8 17 9 25 12 38 9 39 6 37 6-40 8-44 12-44 9-31 8-21 8 28 10 38 11 50 9 43 6 38 6-41 9-48 11-55 10-43 7-33 8 17 10 27 11 42 9 42 6 43 6-45 9-46 11-47 10-33 8-24 7 31 10 42 11 56 9 49 6 51 6-52 9-54 11-62 10-48 8-37 8 22 9 32 12 48 8 48 6 46 7-47 8-53 12-54 9-38 8-27 8 34 9 47 12 63 9 56 6 56 6-58 8-60 12-68 9-53 8-41 8 25 10 37 11 53 9 54 6 57 6-60 9-59 11-61 10-43 7-31 8 37 10 50 11 66 9 59 6 61 6-64 9-65 11-75 10-57 8-44 7 25 10 36 11 54 9 54 6 54 6-60 9-62 11-64 10-45 8-32 8 37 9 48 12 64 8 58 6 53 7-59 8-66 12-74 9-57 8-43 8 25 9 35 12 53 9 53 6 75 6-80 8-61 12-63 9-44 8-32 8 36 10 48 11 64 9 57 6 66 6-72 9-65 11-73 10-57 7-43 8 25 10 35 11 52 9 53 6 59 6-65 9-60 11-62 10-44 8-32 7 36 10 48 11 62 9 57 6 66 6-71 9-65 11-74 10-56 8-43 8 23 9 34 12 51 8 51 6 53 7-60 8-60 12-63 9-44 8-31 8 34 9 46 12 62 9 55 6 50 6-57 8-64 12-73 9-57 8-42 8 23 10 33 11 50 9 50 6 61 6-67 9-60 11-62 10-43 7-31 8 34 10 46 11 60 9 55 6 50 6-57 9-64 11-72 10-55 8-42 7 23 10 33 11 49 9 50 6 51 6-57 9-59 11-60 10-43 8-31 8 34 9 46 12 60 8 54 6 55 7-61 8-63 12-72 9-54 8-42 8 22 9 33 12 49 9 49 6 104 6-110 8-58 12-60 9-42 8-31 8 34 10 45 11 58 9 53 6 50 6-57 9-63 11-72 10-55 7-42 8 21 10 32 11 47 9 47 6 53 6-60 9-58 11-60 10-43 8-30 7 32 10 44 11 57 9 52 6 67 6-76 9-63 11-72 10-56 8-42 8 20 9 30 12 46 8 46 6 57 7-66 8-58 12-60 9-43 8-31 8 31 9 47 12 62 9 54 6 52 6-54 8-58 3-15M1280 1997V2457M1281 1997V2457"/>
<path stroke="#0072BD" d="M1117 1978l6 10 9 18 6 17 6-9 8-14 12-25 9-25 8-21 8 8 10 17 11 32 9 35 6 45 6-37 9-33 11-39 10-31 7-21 8 28 10 38 11 49 9 43 6 36 6-39 9-48 11-55 10-43 8-32 7 17 10 25 11 38 9 39 6 39 6-42 9-44 11-44 10-31 8-21 8 28 9 38 12 50 8 43 6 37 7-40 8-48 12-56 9-43 8-33 8 18 9 27 12 41 9 42 6 43 6-45 8-45 12-48 9-33 8-23 8 31 10 41 11 56 9 50 6 46 6-48 9-54 11-61 10-48 7-37 8 22 10 31 11 48 9 48 6 48 6-49 9-52 11-54 10-38 8-28 7 35 10 47 11 62 9 56 6 50 6-52 9-60 11-68 10-53 8-40 8 25 9 37 12 53 8 54 6 63 7-67 8-59 12-61 9-42 8-31 8 37 9 49 12 66 9 59 6 72 6-75 8-65 12-74 9-58 8-43 8 25 10 36 11 53 9 54 6 78 6-84 9-61 11-64 10-45 7-32 8 36 10 49 11 64 9 58 6 55 6-61 9-66 11-75 10-57 8-43 7 25 10 36 11 53 9 53 6 66 6-72 9-61 11-63 10-44 8-32 8 36 9 48 12 64 8 57 6 54 7-60 8-65 12-73 9-57 8-43 8 25 9 35 12 52 9 53 6 51 6-57 8-60 12-63 9-43 8-32 8 36 10 47 11 63 9 57 6 71 6-77 9-64 11-73 10-57 7-43 8 23 10 34 11 51 9 51 6 64 6-71 9-60 11-63 10-44 8-31 7 34 10 47 11 61 9 55 6 64 6-70 9-65 11-73 10-56 8-43 8 23 9 33 12 50 8 51 6 53 7-60 8-60 12-61 9-44 8-31 8 34 9 46 12 60 9 55 6 60 6-67 8-64 12-72 9-55 8-42 8 23 10 33 11 50 9 49 6 64 6-70 9-59 11-60 10-43 7-30 8 34 10 45 11 60 9 54 6 63 6-69 9-63 11-71 10-55 8-42 7 23 10 32 11 49 9 49 6 52 6-58 9-58 11-60 10-42 8-30 8 33 9 45 12 59 8 53 6 48 7-55 8-63 12-72 9-55 8-42 8 21 9 32 12 47 9 48 6 55 6-63 8-58 12-60 9-42 8-31 8 33 10 43 11 58 9 52 6 46 6-55 9-63 11-72 10-55 7-42 8 20 10 30 11 45 9 47 6 48 6-57 9-58 11-60 10-43 8-31 7 32 10 44 11 61 9 55 6 50 6-53 9-58 8-46M1300 2033V2483M1301 2033V2483"/>
<path stroke="#A2142F" d="M1137 1967l9 14 11 22 9 22 6 37 6-29 9-18 11-29 10-28 8-23 8 10 9 20 12 35 8 40 6 37 7-30 8-41 12-44 9-30 8-21 8 28 10 38 11 49 9 43 6 35 6-38 8-48 12-55 9-43 8-33 8 17 10 25 11 39 9 38 6 42 6-45 9-43 11-45 10-30 7-21 8 28 10 38 11 50 9 43 6 41 6-44 9-48 11-55 10-44 8-33 8 18 9 27 11 42 9 42 6 46 6-48 9-46 11-48 10-33 8-24 8 31 9 42 12 57 8 50 6 51 7-53 8-54 12-62 9-49 8-37 8 22 10 32 11 49 9 49 6 57 6-59 8-53 12-54 9-39 8-28 8 35 10 48 11 62 9 57 6 58 6-60 9-60 11-69 10-53 7-41 8 25 10 36 11 54 9 54 6 51 6-55 9-59 11-61 10-44 8-31 8 37 9 50 11 66 9 59 6 70 6-73 9-67 11-75 10-57 8-44 8 25 9 37 12 53 8 53 6 74 7-79 8-62 12-64 9-45 8-32 8 36 10 49 11 64 9 58 6 67 6-73 8-66 12-74 9-57 8-44 8 25 10 36 11 53 9 53 6 73 6-79 9-61 11-63 10-44 7-32 8 36 10 48 11 64 9 57 6 59 6-65 9-65 11-74 10-56 8-43 8 25 9 35 11 52 9 52 6 50 6-55 9-61 11-62 10-44 8-31 8 36 9 47 12 63 8 56 6 56 7-61 8-65 12-74 9-57 8-43 8 24 10 34 11 50 9 51 6 51 6-58 8-60 12-62 9-44 8-32 8 35 10 46 11 61 9 55 6 66 6-72 9-65 11-73 10-56 7-42 8 23 10 33 11 50 9 50 6 52 6-59 9-59 11-62 10-43 8-31 8 34 9 46 11 60 9 54 6 60 6-66 9-64 11-71 10-56 8-42 8 23 9 33 12 49 8 50 6 48 7-54 8-59 12-60 9-43 8-30 8 34 10 45 11 60 9 54 6 56 6-62 8-63 12-71 9-55 8-42 8 23 10 32 11 49 9 49 6 51 6-57 9-58 11-60 10-42 7-30 8 33 10 45 11 58 9 53 6 55 6-63 9-62 11-72 10-55 8-42 8 22 9 31 11 47 9 48 6 48 6-55 9-58 11-60 10-43 8-30 8 33 9 43 12 57 8 51 6 50 7-58 8-63 12-72 9-55 8-42 8 20 10 30 11 46 9 46 6 57 6-65 8-58 12-60 9-43 8-30 8 35 10 46 11 62 9 54 6 51 6-53 2-15M1320 1975V2510M1321 1975V2510"/>
<path stroke="#4DBEEE" d="M1157 2012l3 6 6 13 6-5 9-11 11-22 10-22 8-19 8 6 9 14 12 29 8 33 7 40 6-33 8-30 12-35 9-27 8-21 8 28 10 37 11 49 9 43 6 49 6-52 9-47 11-56 9-43 8-32 8 17 10 25 11 38 9 39 6 55 6-58 9-43 11-45 10-31 8-21 7 28 10 38 11 50 9 43 6 53 6-56 9-48 11-56 10-43 8-33 8 18 9 26 11 41 9 42 6 38 6-40 9-45 11-47 10-33 8-24 8 31 9 42 12 55 8 49 7 43 6-45 8-53 12-61 9-48 8-36 8 21 10 31 11 48 9 48 6 45 6-47 9-52 11-53 9-38 8-27 8 34 10 47 11 61 9 56 6 85 6-86 9-60 11-68 10-53 8-40 7 25 10 36 11 54 9 55 6 53 6-57 9-59 11-61 10-43 8-31 8 37 9 49 11 65 9 60 6 56 6-60 9-65 11-73 10-57 8-44 8 26 9 36 12 53 8 54 7 58 6-64 8-62 12-64 9-45 8-32 8 36 10 49 11 64 9 58 6 68 6-74 9-66 11-75 9-57 8-43 8 25 10 36 11 52 9 53 6 60 6-65 9-61 11-63 10-45 8-31 7 36 10 48 11 63 9 57 6 56 6-61 9-66 11-73 10-57 8-43 8 25 9 35 11 52 9 53 6 53 6-59 9-60 11-63 10-43 8-32 8 36 9 47 12 63 8 57 7 52 6-58 8-65 12-73 9-56 8-43 8 24 10 34 11 50 9 51 6 52 6-58 9-61 11-62 9-44 8-32 8 35 10 46 11 61 9 56 6 56 6-63 9-64 11-74 10-56 8-42 7 23 10 33 11 50 9 50 6 49 6-55 9-60 11-61 10-44 8-31 8 34 9 46 11 60 9 55 6 52 6-59 9-64 11-72 10-55 8-42 8 23 9 33 12 49 8 50 7 50 6-56 8-59 12-61 9-42 8-31 8 34 10 46 11 60 9 54 6 58 6-65 9-62 11-72 9-55 8-41 8 22 10 33 11 49 9 49 6 46 6-53 9-58 11-59 10-43 8-30 7 34 10 45 11 59 9 53 6 56 6-63 9-63 11-71 10-55 8-42 8 22 9 31 11 47 9 48 6 52 6-59 9-58 11-60 10-42 8-31 8 33 9 44 12 57 8 52 7 63 6-70 8-63 12-72 9-55 8-42 8 21 10 30 11 45 9 47 6 56 6-65 9-57 11-61 9-42 8-31 8 32 10 42 11 58 9 54 6 70 6-72 9-59 11-65 8-44M1340 2129V2536M1341 2129V2536"/>
<path stroke="#77AC30" d="M1177 2021l4 7 7 17 6-9 8-11 12-22 9-22 8-20 8 6 10 15 11 29 9 33 6 35 6-28 9-30 11-35 9-28 8-21 8 28 10 38 11 49 9 43 6 48 6-52 9-47 11-56 10-42 8-33 7 17 10 25 11 39 9 38 6 39 6-42 9-43 11-45 10-31 8-21 8 28 9 38 11 50 9 44 6 39 6-43 9-48 11-56 10-43 8-33 8 18 9 26 12 41 8 42 7 39 6-41 8-45 12-47 9-33 8-24 8 31 10 42 11 55 9 49 6 43 6-44 9-54 11-61 9-48 8-37 8 22 10 31 11 48 9 48 6 57 6-59 9-51 11-54 10-38 8-28 7 35 10 47 11 62 9 56 6 60 6-62 9-60 11-68 10-53 8-40 8 25 9 36 11 54 9 54 6 90 6-93 9-60 11-61 10-43 8-31 8 37 9 49 12 66 8 59 7 59 6-63 8-65 12-73 9-57 8-44 8 25 10 36 11 54 9 53 6 77 6-83 9-61 11-64 9-45 8-32 8 36 10 48 11 64 9 58 6 65 6-71 9-66 11-74 10-57 8-44 7 25 10 36 11 53 9 53 6 56 6-62 9-61 11-63 10-44 8-32 8 36 9 48 11 63 9 57 6 52 6-57 9-66 11-73 10-57 8-43 8 25 9 35 12 52 8 52 7 53 6-58 8-61 12-62 9-44 8-31 8 36 10 47 11 63 9 56 6 65 6-71 9-64 11-73 9-56 8-43 8 23 10 34 11 51 9 51 6 52 6-59 9-60 11-62 10-44 8-32 7 35 10 46 11 61 9 55 6 56 6-62 9-65 11-73 10-56 8-43 8 24 9 33 11 50 9 50 6 52 6-59 9-59 11-62 10-43 8-31 8 34 9 46 12 60 8 54 7 52 6-58 8-64 12-72 9-55 8-42 8 22 10 34 11 49 9 50 6 49 6-56 9-58 11-61 9-42 8-31 8 34 10 45 11 60 9 54 6 50 6-56 9-63 11-71 10-55 8-41 7 22 10 33 11 48 9 49 6 65 6-71 9-58 11-60 10-42 8-30 8 34 9 45 11 59 9 53 6 50 6-57 9-63 11-71 10-55 8-42 8 22 9 31 12 47 8 48 7 46 6-53 8-58 12-60 9-42 8-30 8 33 10 43 11 58 9 52 6 45 6-53 9-62 11-72 9-55 8-42 8 21 10 30 11 45 9 47 6 49 6-57 9-58 11-60 10-42 8-31 7 32 10 42 11 58 9 55 6 58 6-61 9-58 11-66 7-38M1360 2129V2563M1361 2129V2563"/>
<path stroke="#7E2F8E" d="M1197 2028l6 11 6 22 7-14 8-12 12-22 9-23 8-20 8 7 9 15 12 29 8 34 7 36 6-29 8-31 12-35 9-29 8-21 8 28 10 38 11 49 9 43 6 88 6-91 9-48 11-55 10-43 7-33 8 17 10 25 11 39 9 38 6 69 6-72 9-43 11-45 10-31 8-21 7 28 10 38 11 50 9 44 6 37 6-41 9-48 11-56 10-43 8-33 8 18 9 26 12 41 8 42 6 42 7-44 8-45 12-47 9-33 8-24 8 31 9 42 12 55 8 50 7 43 6-45 8-53 12-62 9-48 8-37 8 22 10 31 11 48 9 48 6 47 6-49 9-52 11-54 10-38 7-27 8 35 10 46 11 62 9 57 6 71 6-73 9-60 11-68 10-53 8-41 7 25 10 37 11 54 9 54 6 51 6-55 9-59 11-61 10-44 8-31 8 37 9 49 12 65 8 60 6 61 7-65 8-65 12-74 9-57 8-44 8 26 9 36 12 53 8 54 7 58 6-64 8-62 12-64 9-45 8-32 8 36 10 48 11 64 9 58 6 57 6-63 9-66 11-74 10-57 7-44 8 25 10 36 11 53 9 53 6 55 6-61 9-61 11-63 10-44 8-32 7 36 10 48 11 63 9 57 6 57 6-63 9-65 11-73 10-57 8-43 8 25 9 35 12 52 8 52 6 51 7-57 8-60 12-62 9-44 8-31 8 35 9 47 12 63 8 56 7 59 6-64 8-65 12-73 9-56 8-43 8 24 10 33 11 51 9 51 6 55 6-62 9-60 11-62 10-44 7-32 8 35 10 46 11 61 9 55 6 52 6-58 9-65 11-72 10-57 8-42 7 23 10 33 11 50 9 50 6 51 6-57 9-60 11-61 10-44 8-31 8 34 9 46 12 60 8 55 6 49 7-56 8-63 12-73 9-55 8-42 8 23 9 33 12 49 8 50 7 49 6-55 8-59 12-60 9-43 8-30 8 34 10 45 11 60 9 54 6 48 6-55 9-62 11-71 10-55 7-42 8 23 10 32 11 49 9 49 6 67 6-74 9-57 11-60 10-42 8-30 7 33 10 45 11 59 9 53 6 51 6-58 9-63 11-71 10-54 8-42 8 21 9 32 12 47 8 48 6 64 7-71 8-58 12-60 9-42 8-30 8 33 9 43 12 58 8 52 7 48 6-55 8-63 12-71 9-55 8-42 8 21 10 30 11 45 9 47 6 59 6-67 9-58 11-60 10-42 7-30 8 32 10 42 11 59 9 54 6 58 6-61 9-58 11-66 5-29M1380 2142V2593M1381 2142V2593"/>
<path stroke="#EDB120" d="M1217 2034l1 1 8 16 7 41 6-33 8-13 12-23 9-24 8-20 8 7 10 16 11 30 9 34 6 33 6-25 9-32 11-37 10-29 7-21 8 28 10 37 11 50 9 43 6 57 6-61 9-47 11-56 10-43 8-32 7 17 10 25 11 39 9 38 6 38 6-41 9-43 11-45 10-31 8-21 8 28 9 38 12 50 8 43 6 40 6-43 9-48 12-56 9-43 8-33 8 17 9 27 12 41 8 42 7 43 6-45 8-45 12-48 9-33 8-23 8 30 10 42 11 56 9 50 6 43 6-45 9-54 11-62 10-48 7-37 8 22 10 32 11 48 9 48 6 54 6-56 9-52 11-54 10-38 8-28 7 35 10 47 11 62 9 57 6 54 6-56 9-60 11-69 10-53 8-41 8 26 9 36 12 55 8 53 6 66 6-70 9-59 12-62 9-43 8-31 8 37 9 49 12 65 8 59 7 54 6-58 8-65 12-74 9-57 8-44 8 25 10 36 11 54 9 53 6 57 6-63 9-62 11-63 10-45 7-33 8 37 10 48 11 64 9 58 6 55 6-61 9-66 11-75 10-57 8-43 7 25 10 35 11 53 9 53 6 51 6-57 9-61 11-63 10-44 8-32 8 36 9 48 12 63 8 57 6 58 6-63 9-66 12-73 9-57 8-43 8 25 9 35 12 52 8 52 7 53 6-59 8-60 12-62 9-44 8-32 8 36 10 47 11 63 9 56 6 51 6-57 9-64 11-73 10-56 7-43 8 23 10 34 11 50 9 51 6 62 6-68 9-60 11-63 10-43 8-32 7 35 10 46 11 61 9 55 6 63 6-70 9-64 11-73 10-56 8-42 8 23 9 33 12 50 8 50 6 68 6-75 9-59 12-62 9-43 8-31 8 34 9 46 12 60 8 54 7 52 6-58 8-64 12-72 9-55 8-42 8 23 10 33 11 49 9 50 6 50 6-57 9-58 11-60 10-43 7-30 8 34 10 45 11 60 9 53 6 58 6-64 9-63 11-71 10-54 8-42 7 23 10 32 11 48 9 49 6 58 6-64 9-58 11-59 10-42 8-30 8 33 9 45 12 59 8 53 6 46 6-53 9-63 12-71 9-54 8-42 8 22 9 31 12 47 8 48 7 47 6-54 8-58 12-59 9-42 8-30 8 32 10 44 11 58 9 52 6 47 6-55 9-62 11-71 10-55 7-42 8 21 10 30 11 45 9 47 6 52 6-60 9-57 11-60 10-42 8-30 7 31 10 43 11 59 9 54 6 52 6-55 9-58 11-66 3-12M1400 2111V2623M1401 2111V2623"/>
<path stroke="#D95319" d="M1237 2054l1 1 7 18 6-10 8-11 12-20 9-22 8-19 8 6 10 14 11 28 9 32 6 31 6-24 9-29 11-35 10-26 7-21 8 28 10 37 11 49 9 43 6 59 6-62 9-48 11-55 10-43 8-32 7 16 10 26 11 38 9 39 6 43 6-46 9-44 11-45 10-30 8-22 8 29 9 38 12 50 8 43 6 43 6-46 9-48 12-57 9-43 8-33 8 18 9 26 12 41 8 42 7 48 6-50 8-45 12-47 9-33 8-24 8 31 10 41 11 56 9 49 6 42 6-44 9-53 11-61 10-48 7-37 8 21 10 32 11 48 9 48 6 58 6-60 9-52 11-54 10-38 8-27 7 34 10 47 11 62 9 56 6 68 6-70 9-60 11-68 10-53 8-40 8 25 9 36 12 55 8 54 6 85 6-89 9-59 12-62 9-43 8-32 8 37 9 49 12 65 8 59 7 71 6-75 8-65 12-74 9-56 8-44 8 25 10 36 11 54 9 53 6 52 6-58 9-62 11-63 10-45 7-33 8 37 10 48 11 64 9 58 6 62 6-68 9-66 11-75 10-57 8-43 7 24 10 36 11 52 9 53 6 54 6-59 9-61 11-63 10-45 8-31 8 35 9 48 12 63 8 58 6 55 6-61 9-65 12-74 9-57 8-42 8 24 9 35 12 52 8 52 7 62 6-68 8-60 12-62 9-44 8-31 8 35 10 47 11 63 9 56 6 54 6-60 9-64 11-73 10-56 7-43 8 24 10 33 11 51 9 51 6 57 6-64 9-60 11-62 10-44 8-31 7 34 10 46 11 61 9 55 6 52 6-58 9-64 11-73 10-56 8-43 8 23 9 34 12 49 8 50 6 79 6-85 9-60 12-61 9-43 8-31 8 34 9 45 12 61 8 54 7 69 6-75 8-64 12-72 9-55 8-42 8 22 10 34 11 49 9 49 6 59 6-65 9-58 11-61 10-42 7-31 8 34 10 45 11 60 9 54 6 61 6-67 9-63 11-71 10-55 8-41 7 22 10 32 11 49 9 49 6 48 6-55 9-57 11-60 10-42 8-30 8 34 9 44 12 59 8 53 6 54 6-61 9-62 12-71 9-54 8-42 8 22 9 31 12 47 8 48 7 61 6-68 8-57 12-60 9-41 8-30 8 32 10 44 11 58 9 51 6 53 6-60 9-62 11-71 10-54 7-42 8 21 10 30 11 45 9 47 6 52 6-60 9-57 11-60 10-41 8-30 7 31 10 43 11 56 9 54 6 69 6-72 9-58 11-66 10-51 1-3M1421 2167V2643M1422 2167V2643"/>
<path stroke="#0072BD" d="M1258 2070l1 6 6-7 9-9 11-19 9-20 8-19 8 5 10 13 11 26 9 31 6 32 6-25 9-27 11-33 10-26 8-20 7 28 10 37 11 50 9 43 6 69 6-73 9-47 11-56 10-43 8-32 8 17 9 25 12 38 8 39 6 38 6-41 9-44 12-44 9-31 8-22 8 29 9 38 12 50 8 43 7 49 6-52 8-48 12-56 9-44 8-33 8 18 10 26 11 41 9 41 6 38 6-40 9-45 11-47 9-33 8-23 8 31 10 41 11 55 9 50 6 49 6-51 9-53 11-62 10-48 8-36 7 21 10 32 11 47 9 48 6 47 6-49 9-52 11-53 10-38 8-28 8 35 9 46 12 62 8 56 6 50 6-51 9-60 12-68 9-53 8-41 8 25 9 37 12 54 8 55 7 67 6-71 8-59 12-62 9-43 8-32 8 37 10 49 11 65 9 59 6 66 6-70 9-66 11-73 9-57 8-43 8 25 10 36 11 53 9 54 6 68 6-74 9-62 11-64 10-45 8-32 7 36 10 49 11 63 9 58 6 104 6-110 9-66 11-74 10-57 8-44 8 25 9 36 12 52 8 53 6 54 6-60 9-61 12-63 9-44 8-32 8 36 9 48 12 63 8 57 7 52 6-58 8-65 12-74 9-56 8-43 8 24 10 35 11 52 9 52 6 92 6-98 9-60 11-62 9-44 8-31 8 35 10 47 11 63 9 56 6 100 6-106 9-64 11-73 10-56 8-43 7 24 10 34 11 50 9 51 6 63 6-70 9-60 11-62 10-44 8-31 8 35 9 46 12 61 8 55 6 51 6-58 9-64 12-73 9-56 8-42 8 23 9 33 12 50 8 50 7 58 6-65 8-59 12-61 9-44 8-31 8 34 10 46 11 60 9 55 6 66 6-73 9-64 11-72 9-55 8-42 8 23 10 33 11 49 9 50 6 52 6-59 9-58 11-60 10-43 8-30 7 33 10 46 11 59 9 54 6 55 6-61 9-63 11-71 10-54 8-42 8 22 9 33 12 48 8 49 6 61 6-67 9-58 12-60 9-41 8-30 8 33 9 45 12 59 8 53 7 48 6-55 8-62 12-71 9-54 8-42 8 22 10 31 11 47 9 48 6 48 6-55 9-57 11-59 9-42 8-30 8 33 10 43 11 58 9 52 6 71 6-78 9-62 11-70 10-55 8-41 7 20 10 30 11 46 9 46 6 65 6-72 9-57 11-60 10-41 8-30 8 31 9 43 12 56 8 52 6 46 6-49 9-58 12-66 9-51 7-33M1441 2124V2657M1442 2124V2657"/>
<path stroke="#A2142F" d="M1278 2070l3 7 6 19 7-12 8-11 12-22 9-22 8-20 8 7 10 14 11 29 9 33 6 31 6-24 8-30 12-35 9-28 8-21 8 28 10 38 11 49 9 43 6 42 6-45 9-48 11-56 10-43 7-32 8 17 10 25 11 39 9 38 6 50 6-53 9-43 11-45 10-31 8-22 8 29 9 38 11 50 9 43 6 60 6-63 9-48 11-56 10-44 8-33 8 18 9 27 12 41 8 41 6 44 7-45 8-46 12-47 9-34 8-23 8 31 10 41 11 56 9 50 6 59 6-61 8-54 12-61 9-49 8-36 8 21 10 32 11 48 9 48 6 45 6-47 9-52 11-54 10-38 7-28 8 35 10 47 11 62 9 56 6 61 6-62 9-61 11-68 10-53 8-41 8 25 9 37 11 55 9 54 6 79 6-83 9-60 11-62 10-44 8-31 8 36 9 50 12 65 8 58 6 59 7-63 8-65 12-74 9-57 8-44 8 25 10 36 11 53 9 54 6 71 6-77 8-62 12-64 9-45 8-32 8 36 10 49 11 63 9 58 6 61 6-67 9-66 11-74 10-58 7-43 8 25 10 35 11 53 9 53 6 55 6-61 9-61 11-63 10-44 8-32 8 36 9 47 11 63 9 57 6 53 6-58 9-66 11-73 10-57 8-43 8 25 9 35 12 51 8 52 6 89 7-94 8-61 12-62 9-44 8-31 8 35 10 48 11 62 9 56 6 50 6-56 8-64 12-73 9-56 8-43 8 24 10 33 11 51 9 50 6 51 6-57 9-60 11-62 10-44 7-31 8 34 10 46 11 61 9 55 6 52 6-58 9-64 11-73 10-56 8-42 8 23 9 33 11 49 9 50 6 52 6-58 9-59 11-62 10-43 8-31 8 34 9 46 12 60 8 54 6 48 7-54 8-64 12-72 9-55 8-42 8 23 10 33 11 49 9 49 6 59 6-65 8-58 12-60 9-43 8-30 8 34 10 45 11 59 9 54 6 50 6-56 9-63 11-71 10-54 7-42 8 23 10 32 11 48 9 49 6 48 6-54 9-58 11-60 10-41 8-30 8 33 9 45 11 58 9 53 6 57 6-63 9-63 11-70 10-54 8-42 8 22 9 31 12 47 8 48 6 56 7-63 8-57 12-59 9-42 8-29 8 32 10 44 11 58 9 51 6 48 6-55 8-62 12-70 9-54 8-42 8 21 10 30 11 46 9 46 6 50 6-57 9-57 11-59 10-42 7-30 8 32 10 42 11 58 9 53 6 58 6-61 9-58 11-66 8-41M1461 2178V2670M1462 2178V2670"/>
<path stroke="#4DBEEE" d="M1298 2091l0 7 6-10 9-9 11-19 10-20 7-18 8 5 10 12 11 26 9 31 6 35 6-28 9-27 11-33 10-26 8-20 8 28 9 38 11 49 9 43 6 44 6-47 9-48 11-55 10-43 8-33 8 17 9 25 12 39 8 38 6 39 7-42 8-43 12-45 9-31 8-21 8 28 10 38 11 50 9 44 6 52 6-56 9-48 11-56 9-44 8-33 8 18 10 26 11 41 9 41 6 65 6-67 9-45 11-47 10-33 7-23 8 30 10 42 11 55 9 50 6 47 6-49 9-53 11-62 10-48 8-37 8 22 9 31 11 48 9 48 6 46 6-48 9-52 11-54 10-38 8-27 8 35 9 46 12 62 8 56 6 64 7-66 8-60 12-68 9-53 8-40 8 25 10 36 11 55 9 54 6 62 6-65 9-60 11-62 9-43 8-32 8 37 10 49 11 65 9 59 6 73 6-78 9-65 11-74 10-57 7-43 8 25 10 36 11 53 9 54 6 54 6-60 9-62 11-64 10-45 8-32 8 36 9 48 11 64 9 58 6 59 6-65 9-66 11-75 10-57 8-43 8 24 9 36 12 52 8 53 6 77 7-83 8-61 12-63 9-44 8-32 8 36 10 47 11 64 9 57 6 59 6-65 9-66 11-73 9-57 8-43 8 25 10 35 11 51 9 52 6 61 6-66 9-61 11-62 10-44 7-31 8 35 10 47 11 63 9 56 6 87 6-93 9-64 11-73 10-56 8-43 8 24 9 34 11 50 9 51 6 52 6-59 9-60 11-62 10-43 8-32 8 35 9 46 12 61 8 55 6 57 7-64 8-64 12-73 9-56 8-42 8 23 10 33 11 50 9 50 6 54 6-61 9-59 11-61 9-43 8-31 8 34 10 45 11 60 9 55 6 48 6-55 9-63 11-72 10-55 7-42 8 22 10 33 11 49 9 50 6 66 6-73 9-58 11-60 10-42 8-31 8 34 9 45 11 60 9 53 6 56 6-62 9-63 11-70 10-55 8-41 8 22 9 32 12 48 8 49 6 56 7-62 8-58 12-59 9-42 8-30 8 33 10 45 11 59 9 53 6 86 6-93 9-62 11-70 9-55 8-41 8 22 10 31 11 47 9 48 6 56 6-63 9-57 11-59 10-41 7-30 8 33 10 43 11 58 9 52 6 65 6-72 9-61 11-71 10-54 8-41 8 21 9 30 11 45 9 47 6 45 6-53 9-56 11-59 10-42 8-29 8 31 9 43 12 56 8 52 6 63 7-67 8-58 12-66 9-51 8-38M1481 2138V2684M1482 2138V2684"/>
<path stroke="#77AC30" d="M1318 2099l2 29 6-29 8-10 12-19 9-21 8-18 8 5 10 13 11 26 9 31 6 38 6-30 9-28 11-33 10-26 7-20 8 28 10 37 11 49 9 43 6 38 6-41 9-48 11-55 10-43 8-33 7 17 10 25 11 39 9 39 6 55 6-59 9-43 11-45 10-31 8-21 8 28 9 38 12 50 8 44 6 41 6-45 9-48 12-56 9-44 8-33 8 18 9 26 12 41 8 42 7 40 6-42 8-46 12-47 9-33 8-23 8 30 10 42 11 55 9 50 6 48 6-50 9-53 11-62 10-48 7-37 8 22 10 31 11 48 9 48 6 46 6-48 9-52 11-54 10-38 8-27 7 34 10 47 11 62 9 56 6 53 6-55 9-60 11-68 10-53 8-41 8 25 9 37 12 55 8 55 6 52 6-56 9-60 12-62 9-44 8-32 8 37 9 49 12 65 8 59 7 63 6-68 8-66 12-73 9-57 8-44 8 26 10 36 11 53 9 53 6 61 6-67 9-62 11-64 10-45 7-32 8 36 10 48 11 64 9 58 6 64 6-70 9-66 11-75 10-57 8-43 7 24 10 36 11 52 9 53 6 62 6-68 9-61 11-63 10-44 8-32 8 36 9 47 12 63 8 57 6 55 6-60 9-66 12-73 9-57 8-43 8 25 9 34 12 52 8 52 7 58 6-64 8-60 12-62 9-44 8-31 8 35 10 47 11 62 9 56 6 51 6-56 9-65 11-73 10-56 7-42 8 23 10 34 11 50 9 51 6 61 6-67 9-60 11-62 10-44 8-31 7 34 10 46 11 61 9 55 6 52 6-58 9-65 11-72 10-56 8-43 8 23 9 34 12 49 8 50 6 49 6-55 9-59 12-62 9-43 8-31 8 34 9 46 12 60 8 54 7 53 6-59 8-64 12-72 9-55 8-42 8 23 10 33 11 49 9 49 6 51 6-57 9-58 11-61 10-42 7-30 8 34 10 45 11 59 9 54 6 55 6-62 9-62 11-71 10-54 8-42 7 23 10 32 11 48 9 48 6 61 6-67 9-57 11-60 10-41 8-30 8 33 9 44 12 59 8 53 6 55 6-61 9-62 12-71 9-54 8-41 8 22 9 31 12 47 8 48 7 52 6-59 8-57 12-59 9-41 8-30 8 33 10 44 11 57 9 52 6 76 6-82 9-62 11-70 10-54 7-41 8 20 10 31 11 45 9 47 6 46 6-53 9-57 11-59 10-41 8-30 7 32 10 43 11 56 9 52 6 67 6-71 9-58 11-66 10-51 6-30M1501 2156V2694M1502 2156V2694"/>
<path stroke="#7E2F8E" d="M1338 2064l0 0 9-3 11-6 10-6 8-6 8 15 9 24 12 35 8 34 6 34 6-27 9-30 12-43 9-36 8-31 8 17 9 25 12 38 8 39 7 50 6-54 8-43 12-44 9-31 8-21 8 28 10 38 11 49 9 44 6 45 6-49 9-48 11-56 10-43 7-33 8 17 10 26 11 39 9 39 6 37 6-40 9-44 11-46 10-31 8-21 7 28 10 39 11 52 9 46 6 42 6-44 9-50 11-58 10-45 8-35 8 19 9 29 12 44 8 45 6 49 6-51 9-48 12-51 9-35 8-26 8 33 9 44 12 58 8 53 7 50 6-52 8-56 12-65 9-51 8-38 8 23 10 34 11 51 9 51 6 60 6-61 9-56 11-57 10-40 7-30 8 37 10 49 11 65 9 59 6 57 6-58 9-65 11-74 10-56 8-43 7 25 10 37 11 53 9 55 6 58 6-63 9-61 11-63 10-44 8-32 8 37 9 48 12 64 8 58 6 53 6-59 9-66 12-75 9-58 8-43 8 25 9 35 12 53 8 53 7 51 6-57 8-61 12-64 9-45 8-32 8 36 10 48 11 63 9 58 6 53 6-59 9-66 11-74 10-57 7-43 8 25 10 35 11 52 9 52 6 51 6-57 9-60 11-63 10-44 8-32 7 36 10 47 11 63 9 56 6 63 6-68 9-65 11-74 10-56 8-43 8 24 9 35 12 51 8 52 6 53 6-59 9-60 12-62 9-43 8-31 8 34 9 47 12 61 8 56 7 55 6-62 8-65 12-73 9-56 8-42 8 23 10 34 11 49 9 51 6 63 6-70 9-59 11-62 10-43 7-31 8 34 10 46 11 60 9 55 6 50 6-57 9-63 11-73 10-55 8-42 7 22 10 33 11 49 9 50 6 70 6-76 9-59 11-61 10-43 8-30 8 34 9 45 12 60 8 54 6 66 6-73 9-62 12-72 9-54 8-42 8 23 9 32 12 49 8 48 7 64 6-70 8-58 12-59 9-42 8-30 8 33 10 45 11 59 9 53 6 60 6-66 9-62 11-71 10-54 7-41 8 22 10 32 11 48 9 48 6 46 6-53 9-57 11-59 10-42 8-29 7 33 10 44 11 58 9 52 6 53 6-60 9-61 11-70 10-54 8-40 8 21 9 31 12 47 8 47 6 53 6-60 9-56 12-59 9-41 8-30 8 32 9 43 12 56 8 51 7 67 6-74 8-61 12-69 9-54 8-41 8 21 10 30 11 45 9 46 6 44 6-49 9-53 11-55 10-38 7-27 6 25M1521 2091V2705M1522 2091V2705"/>
<path stroke="#EDB120" d="M1358 2118l2 11 6-11 9-9 11-20 10-20 8-19 7 5 10 13 11 27 9 31 6 43 6-36 9-28 11-33 10-26 8-20 8 28 9 37 12 50 8 43 6 45 6-49 9-48 12-55 9-43 8-33 8 17 9 25 12 39 8 39 7 36 6-40 8-43 12-45 9-31 8-22 8 29 10 38 11 50 9 44 6 40 6-44 9-48 11-57 10-43 7-33 8 17 10 27 11 41 9 41 6 38 6-39 9-46 11-47 10-33 8-24 7 31 10 42 11 55 9 50 6 54 6-56 9-54 11-61 10-49 8-36 8 21 9 32 12 48 8 48 6 45 6-47 9-52 12-54 9-39 8-27 8 35 9 46 12 63 8 56 7 57 6-59 8-60 12-69 9-53 8-41 8 26 10 36 11 55 9 55 6 56 6-60 9-60 11-63 10-44 7-31 8 36 10 49 11 65 9 59 6 59 6-64 9-66 11-74 10-57 8-43 7 25 10 36 11 53 9 53 6 71 6-77 9-62 11-64 10-45 8-32 8 36 9 48 12 64 8 58 6 56 6-62 9-66 12-75 9-57 8-44 8 25 9 36 12 52 8 52 7 57 6-62 8-61 12-63 9-45 8-32 8 36 10 48 11 63 9 56 6 61 6-66 9-66 11-73 10-57 7-43 8 24 10 35 11 52 9 52 6 60 6-66 9-61 11-62 10-43 8-32 7 35 10 47 11 63 9 56 6 68 6-74 9-65 11-73 10-55 8-43 8 23 9 34 12 50 8 51 6 51 6-57 9-60 12-62 9-44 8-31 8 34 9 46 12 61 8 55 7 74 6-80 8-64 12-73 9-56 8-42 8 23 10 33 11 50 9 50 6 50 6-57 9-59 11-61 10-43 7-31 8 34 10 45 11 60 9 55 6 49 6-56 9-63 11-72 10-55 8-42 7 23 10 33 11 48 9 50 6 51 6-58 9-58 11-60 10-42 8-30 8 33 9 45 12 60 8 53 6 93 6-99 9-62 12-71 9-55 8-41 8 22 9 32 12 48 8 49 7 51 6-57 8-58 12-59 9-42 8-29 8 33 10 44 11 59 9 52 6 62 6-68 9-62 11-70 10-54 7-41 8 22 10 31 11 47 9 48 6 49 6-55 9-57 11-59 10-41 8-29 7 32 10 44 11 58 9 51 6 60 6-66 9-61 11-70 10-54 8-41 8 21 9 30 12 46 8 46 6 54 6-61 9-56 12-58 9-41 8-29 8 31 9 43 12 56 8 52 7 71 6-75 8-58 12-66 9-51 6-30M1541 2176V2715M1542 2176V2715"/>
<path stroke="#D95319" d="M1378 2081l6-2 11-5 10-5 8-6 7 15 10 23 11 34 9 33 6 40 6-33 9-29 11-41 10-37 8-30 8 17 9 25 12 38 8 39 6 50 6-54 9-43 12-44 9-31 8-21 8 28 9 38 12 49 8 44 7 45 6-49 8-48 12-56 9-43 8-33 8 17 10 26 11 39 9 39 6 52 6-55 9-44 11-46 10-31 7-22 8 29 10 39 11 51 9 46 6 52 6-54 9-49 11-58 10-46 8-34 7 19 10 29 11 44 9 44 6 62 6-63 9-49 11-50 10-36 8-25 8 32 9 44 12 59 8 53 6 48 6-50 9-57 12-65 9-50 8-39 8 23 9 34 12 51 8 52 7 50 6-52 8-55 12-58 9-40 8-30 8 37 10 49 11 65 9 60 6 61 6-63 9-65 11-73 10-57 7-43 8 25 10 37 11 53 9 54 6 55 6-60 9-61 11-63 10-44 8-32 7 37 10 48 11 64 9 58 6 72 6-78 9-66 11-75 10-58 8-43 8 24 9 36 12 53 8 53 6 63 6-69 9-62 12-63 9-45 8-32 8 36 9 47 12 64 8 57 7 56 6-62 8-66 12-74 9-56 8-44 8 25 10 35 11 52 9 52 6 63 6-69 9-61 11-62 10-44 7-32 8 36 10 47 11 62 9 57 6 54 6-60 9-65 11-73 10-56 8-43 7 24 10 34 11 51 9 52 6 53 6-59 9-60 11-62 10-43 8-31 8 35 9 46 12 61 8 56 6 59 6-66 9-64 12-73 9-56 8-43 8 23 9 34 12 50 8 50 7 64 6-71 8-59 12-62 9-43 8-31 8 34 10 46 11 60 9 55 6 56 6-62 9-64 11-72 10-56 7-42 8 23 10 33 11 49 9 49 6 49 6-55 9-59 11-60 10-43 8-31 7 34 10 45 11 60 9 54 6 61 6-67 9-63 11-71 10-55 8-41 8 22 9 33 12 48 8 49 6 48 6-55 9-57 12-60 9-42 8-30 8 34 9 44 12 59 8 53 7 65 6-71 8-62 12-70 9-54 8-41 8 21 10 32 11 48 9 48 6 47 6-53 9-57 11-59 10-42 7-29 8 33 10 44 11 58 9 52 6 63 6-69 9-62 11-69 10-54 8-40 7 21 10 31 11 47 9 47 6 49 6-55 9-56 11-59 10-41 8-30 8 32 9 43 12 57 8 51 6 50 6-57 9-61 12-69 9-53 8-41 8 21 9 30 12 45 8 46 7 51 6-56 8-54 12-55 9-38 8-27 8 33 2 7M1561 2097V2725M1562 2097V2725"/>
<path stroke="#0072BD" d="M1398 2090l6-1 11-5 10-6 8-5 7 15 10 23 11 34 9 32 6 35 6-27 9-30 11-41 10-36 8-30 8 17 9 25 12 38 8 38 6 53 6-56 9-43 12-45 9-30 8-22 8 29 9 37 12 50 8 43 7 38 6-41 8-48 12-56 9-44 8-33 8 18 10 25 11 39 9 39 6 61 6-64 9-44 11-45 10-32 7-21 8 28 10 39 11 52 9 46 6 46 6-48 9-50 11-58 10-45 8-35 7 19 10 29 11 44 9 45 6 47 6-49 9-48 11-51 10-36 8-25 8 33 9 44 12 58 8 53 6 52 6-54 9-57 12-65 9-50 8-39 8 24 9 34 12 51 8 51 7 49 6-51 8-55 12-58 9-40 8-30 8 37 10 49 11 65 9 60 6 55 6-57 9-65 11-73 10-57 7-43 8 25 10 36 11 54 9 54 6 56 6-61 9-61 11-63 10-45 8-32 7 37 10 48 11 64 9 58 6 82 6-88 9-66 11-75 10-58 8-43 8 24 9 36 12 53 8 53 6 74 6-80 9-62 12-63 9-45 8-32 8 36 9 47 12 64 8 57 7 109 6-115 8-66 12-74 9-57 8-43 8 25 10 35 11 51 9 53 6 50 6-56 9-61 11-63 10-44 7-31 8 35 10 47 11 63 9 56 6 52 6-58 9-65 11-73 10-56 8-43 7 24 10 35 11 51 9 51 6 50 6-56 9-60 11-62 10-43 8-31 8 35 9 46 12 61 8 56 6 90 6-97 9-64 12-73 9-56 8-43 8 24 9 33 12 50 8 50 7 58 6-64 8-60 12-61 9-43 8-31 8 34 10 45 11 61 9 54 6 55 6-61 9-64 11-72 10-55 7-42 8 22 10 33 11 49 9 50 6 48 6-55 9-58 11-61 10-43 8-30 7 34 10 45 11 60 9 53 6 72 6-78 9-62 11-72 10-54 8-42 8 23 9 32 12 48 8 49 6 48 6-54 9-58 12-59 9-42 8-30 8 33 9 45 12 59 8 53 7 60 6-67 8-62 12-70 9-54 8-41 8 22 10 32 11 47 9 48 6 55 6-61 9-57 11-59 10-41 7-30 8 33 10 44 11 58 9 53 6 80 6-87 9-61 11-69 10-54 8-40 7 21 10 31 11 47 9 47 6 47 6-53 9-56 11-58 10-42 8-29 8 32 9 43 12 57 8 51 6 48 6-55 9-60 12-70 9-53 8-40 8 20 9 31 12 45 8 46 7 47 6-53 8-53 12-55 9-38 8-28 8 34 2 7M1582 2107V2730M1583 2107V2730"/>
<path stroke="#A2142F" d="M1419 2100l5-1 12-5 9-6 8-6 8 15 9 23 12 35 9 32 6 34 6-26 8-30 12-41 9-36 8-30 8 16 10 25 11 39 9 38 6 41 6-44 9-44 11-44 10-31 7-21 8 28 10 38 11 49 9 44 6 35 6-38 9-49 11-56 10-43 8-33 7 17 10 26 11 39 9 39 6 58 6-61 9-44 11-46 10-31 8-22 8 29 9 38 12 52 8 46 6 52 7-54 8-50 12-58 9-45 8-35 8 19 9 29 12 45 9 44 6 56 6-58 8-48 12-51 9-35 8-26 8 33 10 44 11 58 9 53 6 69 6-71 9-56 11-65 10-51 7-39 8 24 10 34 11 51 9 51 6 69 6-71 9-55 11-58 10-40 8-30 7 37 10 49 11 66 9 59 6 62 6-64 9-65 11-73 10-57 8-43 8 25 9 36 12 54 8 53 6 77 7-82 8-61 12-63 9-45 8-32 8 37 9 48 12 64 9 58 6 59 6-65 8-66 12-75 9-58 8-43 8 24 10 36 11 52 9 53 6 72 6-78 9-61 11-64 10-44 7-33 8 36 10 48 11 63 9 58 6 51 6-57 9-66 11-74 10-57 8-43 7 24 10 35 11 52 9 52 6 50 6-56 9-61 11-62 10-44 8-32 8 36 9 47 12 62 8 57 6 51 7-57 8-65 12-74 9-56 8-42 8 23 9 35 12 51 9 51 6 68 6-74 8-60 12-61 9-44 8-31 8 35 10 46 11 61 9 56 6 62 6-69 9-64 11-73 10-56 7-43 8 24 10 33 11 50 9 50 6 48 6-54 9-60 11-61 10-43 8-31 7 34 10 46 11 60 9 54 6 53 6-59 9-64 11-72 10-55 8-42 8 23 9 33 12 48 8 50 6 63 7-70 8-58 12-61 9-42 8-31 8 34 9 45 12 60 9 54 6 53 6-60 8-62 12-71 9-55 8-41 8 22 10 32 11 48 9 49 6 63 6-69 9-58 11-59 10-42 7-30 8 33 10 45 11 59 9 53 6 48 6-55 9-61 11-71 10-54 8-41 7 22 10 32 11 47 9 48 6 45 6-51 9-57 11-59 10-41 8-29 8 33 9 44 12 58 8 52 6 49 7-55 8-61 12-69 9-54 8-40 8 21 9 31 12 47 9 47 6 45 6-51 8-56 12-58 9-41 8-29 8 32 10 43 11 57 9 51 6 55 6-62 9-61 11-68 10-54 7-40 8 21 10 30 11 45 9 46 6 59 6-64 9-54 11-55 10-38 8-27 7 33 2 6M1602 2117V2735M1603 2117V2735"/>
<path stroke="#4DBEEE" d="M1439 2104l6-1 9-4 8-4 8 13 9 21 12 31 9 30 6 27 6-19 8-27 12-38 9-34 8-29 8 15 10 26 11 39 9 39 6 35 6-39 9-43 11-45 10-30 7-22 8 29 10 37 11 50 9 43 6 37 6-40 9-48 11-56 10-44 8-33 7 18 10 25 11 39 9 39 6 36 6-39 9-44 11-45 10-32 8-21 8 28 9 39 12 51 8 45 6 51 7-53 8-49 12-58 9-45 8-34 8 19 9 28 12 44 9 44 6 43 6-44 8-49 12-50 9-35 8-25 8 32 10 44 11 58 9 52 6 48 6-49 9-57 11-65 10-50 7-38 8 23 10 34 11 50 9 51 6 52 6-53 9-56 11-57 10-40 8-29 7 36 10 49 11 65 9 59 6 55 6-57 9-63 11-73 10-57 8-43 8 25 9 37 12 53 8 54 6 58 7-63 8-62 12-63 9-45 8-32 8 37 9 49 12 64 9 58 6 71 6-77 8-67 12-75 9-57 8-44 8 25 10 35 11 53 9 53 6 65 6-71 9-62 11-63 10-45 7-32 8 36 10 47 11 64 9 57 6 67 6-73 9-66 11-74 10-57 8-43 7 24 10 35 11 52 9 52 6 62 6-68 9-61 11-62 10-44 8-32 8 35 9 48 12 62 8 56 6 51 7-57 8-65 12-73 9-56 8-43 8 24 9 35 12 50 9 52 6 104 6-110 8-60 12-62 9-43 8-32 8 35 10 47 11 61 9 56 6 54 6-61 9-64 11-73 10-56 7-43 8 24 10 33 11 50 9 50 6 63 6-69 9-60 11-61 10-43 8-31 7 34 10 46 11 60 9 54 6 50 6-56 9-64 11-72 10-55 8-42 8 23 9 33 12 49 8 49 6 55 7-61 8-59 12-60 9-43 8-31 8 34 9 45 12 60 9 54 6 51 6-58 8-62 12-71 9-55 8-41 8 22 10 32 11 49 9 48 6 55 6-61 9-58 11-59 10-42 7-30 8 33 10 45 11 59 9 53 6 54 6-61 9-62 11-70 10-54 8-41 7 22 10 32 11 47 9 48 6 45 6-51 9-57 11-59 10-41 8-29 8 33 9 44 12 58 8 52 6 52 7-58 8-61 12-69 9-53 8-41 8 22 9 31 12 47 9 47 6 49 6-55 8-56 12-58 9-41 8-29 8 32 10 43 11 57 9 51 6 52 6-58 9-61 11-68 10-53 7-40 8 20 10 30 11 46 9 46 6 49 6-56 9-54 11-55 10-39 8-27 7 33 10 45 3 13M1622 2088V2740M1623 2088V2740"/>
<path stroke="#77AC30" d="M1459 2116l10-3 10-5 8-4 8 13 9 22 11 33 9 31 6 36 6-29 9-28 11-39 10-35 8-29 8 15 9 26 12 39 8 38 7 57 6-60 8-44 12-44 9-31 8-21 8 28 10 38 11 49 9 44 6 41 6-45 9-48 11-56 9-43 8-33 8 17 10 25 11 40 9 39 6 43 6-47 9-44 11-45 10-32 8-21 7 28 10 39 11 51 9 46 6 56 6-58 9-49 11-58 10-46 8-34 8 19 9 29 11 44 9 44 6 44 6-46 9-48 11-51 10-35 8-26 8 33 9 44 12 58 8 53 7 48 6-50 8-56 12-65 9-51 8-39 8 24 10 34 11 51 9 51 6 50 6-52 9-55 11-58 9-40 8-30 8 37 10 49 11 65 9 60 6 55 6-57 9-64 11-74 10-57 8-43 7 25 10 36 11 54 9 54 6 58 6-64 9-61 11-64 10-44 8-32 8 36 9 49 11 64 9 58 6 74 6-80 9-67 11-75 10-57 8-44 8 25 9 35 12 53 8 53 7 59 6-66 8-61 12-64 9-44 8-32 8 35 10 48 11 63 9 57 6 73 6-79 9-65 11-75 9-56 8-44 8 25 10 35 11 51 9 53 6 76 6-83 9-60 11-63 10-44 8-32 7 36 10 47 11 62 9 57 6 62 6-68 9-65 11-74 10-56 8-43 8 24 9 35 11 50 9 52 6 69 6-75 9-60 11-62 10-43 8-32 8 35 9 47 12 61 8 55 7 93 6-99 8-65 12-72 9-56 8-43 8 23 10 34 11 50 9 50 6 57 6-64 9-59 11-61 9-43 8-31 8 34 10 45 11 61 9 54 6 71 6-77 9-64 11-72 10-55 8-42 7 23 10 33 11 48 9 50 6 49 6-56 9-58 11-60 10-43 8-30 8 33 9 45 11 60 9 54 6 48 6-55 9-62 11-71 10-55 8-41 8 22 9 32 12 48 8 49 7 48 6-54 8-58 12-59 9-42 8-30 8 33 10 45 11 59 9 52 6 65 6-71 9-62 11-70 9-54 8-40 8 21 10 32 11 47 9 48 6 46 6-52 9-57 11-58 10-41 8-30 7 33 10 44 11 58 9 52 6 46 6-52 9-60 11-69 10-53 8-41 8 22 9 31 11 46 9 48 6 48 6-55 9-55 11-58 10-40 8-29 8 32 9 43 12 57 8 51 7 56 6-63 8-60 12-69 9-52 8-40 8 20 10 31 11 45 9 46 6 46 6-53 9-53 11-55 9-39 8-27 8 33 8 36M1642 2113V2746M1643 2113V2746"/>
<path stroke="#7E2F8E" d="M1479 2123l4-1 9-3 8-4 8 13 9 20 12 31 9 29 6 28 6-20 8-27 12-37 9-34 8-28 8 15 10 25 11 40 9 39 6 47 6-51 9-43 11-45 10-30 7-22 8 28 10 38 11 50 9 43 6 52 6-55 9-48 11-57 10-43 8-33 7 17 10 26 11 39 9 39 6 53 6-56 9-44 11-46 10-31 8-22 8 29 9 38 12 51 8 46 6 60 7-62 8-50 12-58 9-45 8-34 8 19 9 29 12 43 9 45 6 51 6-53 8-48 12-51 9-35 8-25 8 32 10 44 11 58 9 53 6 60 6-62 9-57 11-65 10-50 7-38 8 23 10 33 11 51 9 51 6 52 6-53 9-56 11-57 10-40 8-30 7 37 10 49 11 65 9 59 6 55 6-57 9-63 11-73 10-57 8-43 8 25 9 36 12 54 8 53 6 59 7-64 8-62 12-63 9-45 8-32 8 36 9 49 12 64 9 58 6 68 6-74 8-66 12-75 9-58 8-44 8 25 10 36 11 52 9 53 6 79 6-85 9-62 11-63 10-45 7-32 8 36 10 47 11 63 9 58 6 67 6-74 9-65 11-74 10-57 8-44 7 25 10 35 11 51 9 53 6 52 6-59 9-60 11-63 10-44 8-32 8 36 9 47 12 62 8 56 6 57 7-63 8-65 12-73 9-56 8-43 8 24 9 34 12 51 9 51 6 64 6-70 8-60 12-61 9-44 8-31 8 35 10 46 11 62 9 55 6 66 6-73 9-64 11-73 10-56 7-42 8 23 10 34 11 49 9 50 6 51 6-57 9-59 11-61 10-44 8-30 7 34 10 45 11 61 9 54 6 56 6-62 9-64 11-72 10-55 8-42 8 23 9 32 12 49 8 50 6 64 7-71 8-58 12-61 9-42 8-30 8 33 9 45 12 60 9 53 6 63 6-69 8-62 12-71 9-55 8-41 8 22 10 32 11 48 9 49 6 73 6-79 9-58 11-59 10-42 7-30 8 33 10 45 11 58 9 53 6 54 6-60 9-62 11-70 10-54 8-41 7 22 10 32 11 47 9 48 6 78 6-85 9-56 11-59 10-41 8-29 8 33 9 44 12 58 8 52 6 56 7-62 8-60 12-69 9-53 8-40 8 21 9 31 12 47 9 47 6 52 6-58 8-56 12-57 9-40 8-29 8 32 10 43 11 57 9 51 6 55 6-61 9-60 11-69 10-53 7-39 8 20 10 30 11 46 9 46 6 43 6-49 9-55 11-55 10-39 8-27 7 33 10 44 5 25M1662 2101V2750M1663 2101V2750"/>
<path stroke="#EDB120" d="M1499 2138l5-1 11-4 9-6 8-5 8 14 10 23 11 34 9 32 6 29 6-21 9-30 11-41 10-36 7-30 8 17 10 25 11 38 9 39 6 49 6-52 9-44 11-45 10-30 8-22 8 28 9 38 11 50 9 44 6 49 6-53 9-48 11-56 10-44 8-33 8 17 9 26 12 39 8 39 6 49 7-52 8-44 12-46 9-31 8-22 8 28 10 39 11 52 9 46 6 50 6-52 9-50 11-58 9-46 8-34 8 19 10 29 11 44 9 45 6 42 6-44 9-48 11-51 10-36 7-26 8 33 10 44 11 59 9 53 6 56 6-58 9-57 11-65 10-51 8-39 8 24 9 34 11 51 9 52 6 50 6-52 9-56 11-58 10-41 8-29 8 37 9 49 12 66 8 60 6 60 7-62 8-65 12-75 9-57 8-44 8 25 10 37 11 53 9 54 6 60 6-66 9-62 11-63 9-45 8-32 8 36 10 49 11 63 9 58 6 53 6-59 9-66 11-75 10-58 7-44 8 25 10 36 11 52 9 53 6 67 6-73 9-62 11-63 10-45 8-32 8 35 9 48 11 63 9 57 6 54 6-60 9-66 11-74 10-56 8-44 8 25 9 34 12 52 8 52 6 54 7-60 8-61 12-62 9-44 8-32 8 35 10 47 11 62 9 57 6 56 6-62 9-65 11-73 9-57 8-42 8 23 10 35 11 50 9 51 6 50 6-56 9-59 11-62 10-44 7-31 8 35 10 46 11 61 9 56 6 50 6-57 9-64 11-73 10-56 8-42 8 23 9 34 11 49 9 50 6 51 6-57 9-59 11-61 10-43 8-31 8 34 9 45 12 60 8 55 6 50 7-57 8-63 12-72 9-55 8-42 8 23 10 33 11 48 9 50 6 56 6-63 9-58 11-60 9-43 8-30 8 33 10 45 11 60 9 53 6 78 6-84 9-62 11-71 10-55 7-41 8 22 10 32 11 48 9 49 6 48 6-54 9-58 11-59 10-42 8-30 8 34 9 44 11 59 9 52 6 56 6-62 9-62 11-70 10-53 8-41 8 21 9 32 12 47 8 48 6 57 7-64 8-56 12-58 9-41 8-29 8 33 10 44 11 58 9 52 6 56 6-62 9-60 11-69 9-53 8-40 8 21 10 31 11 47 9 47 6 45 6-51 9-55 11-58 10-40 7-29 8 32 10 43 11 57 9 51 6 71 6-77 9-60 11-68 10-52 8-40 8 21 9 30 11 45 9 46 6 44 6-50 9-53 11-55 10-38 8-28 8 33 2 11M1682 2151V2750M1683 2151V2750"/>
<path stroke="#D95319" d="M1519 2141l6-2 8-2 8 11 10 19 11 29 9 27 6 35 6-27 9-25 11-35 10-33 7-26 8 13 10 24 11 42 9 39 6 57 6-61 9-43 11-45 10-30 8-22 8 28 9 38 11 50 9 43 6 39 6-42 9-48 11-57 10-43 8-33 8 17 9 26 12 39 8 39 6 49 7-52 8-44 12-46 9-31 8-22 8 28 10 39 11 50 9 46 6 38 6-40 8-49 12-58 9-45 8-35 8 19 10 29 11 44 9 44 6 54 6-56 9-48 11-50 10-36 7-25 8 32 10 44 11 58 9 52 6 50 6-51 9-57 11-64 10-51 8-38 8 23 9 34 11 50 9 51 6 50 6-52 9-55 11-57 10-40 8-29 8 36 9 49 12 65 8 59 6 55 7-57 8-63 12-72 9-57 8-43 8 25 10 36 11 53 9 54 6 73 6-79 8-61 12-64 9-45 8-32 8 36 10 49 11 64 9 58 6 87 6-93 9-67 11-75 10-57 7-44 8 25 10 35 11 53 9 52 6 75 6-81 9-61 11-64 10-45 8-32 8 36 9 48 11 63 9 57 6 58 6-64 9-66 11-74 10-57 8-44 8 25 9 35 12 51 8 52 6 61 7-67 8-61 12-62 9-44 8-32 8 35 10 47 11 62 9 57 6 60 6-66 8-65 12-74 9-56 8-43 8 24 10 34 11 51 9 51 6 53 6-59 9-60 11-61 10-44 7-31 8 35 10 46 11 61 9 56 6 57 6-64 9-64 11-73 10-56 8-42 8 23 9 34 11 49 9 50 6 48 6-54 9-59 11-61 10-43 8-31 8 34 9 45 12 61 8 54 6 53 7-59 8-64 12-71 9-56 8-42 8 23 10 33 11 49 9 49 6 59 6-66 8-58 12-60 9-43 8-30 8 34 10 45 11 59 9 54 6 61 6-68 9-62 11-71 10-54 7-42 8 22 10 33 11 48 9 48 6 47 6-53 9-58 11-59 10-42 8-29 8 33 9 44 11 59 9 52 6 55 6-61 9-62 11-70 10-53 8-41 8 21 9 32 12 47 8 48 6 54 7-61 8-56 12-59 9-40 8-29 8 33 10 44 11 58 9 52 6 46 6-52 8-60 12-69 9-53 8-40 8 21 10 32 11 46 9 47 6 46 6-52 9-55 11-57 10-40 7-29 8 33 10 43 11 57 9 51 6 45 6-51 9-60 11-68 10-53 8-39 8 20 9 31 11 45 9 46 6 57 6-63 9-54 11-56 10-39 8-27 8 33 9 43 12 58 0 4M1702 2101V2751M1703 2101V2751"/>
<path stroke="#0072BD" d="M1539 2150l4-1 8-2 8 12 9 18 11 28 9 26 6 39 6-31 9-24 11-35 10-32 8-26 8 13 9 24 12 41 8 40 6 40 7-43 8-43 12-45 9-31 8-21 8 28 10 38 11 49 9 44 6 45 6-49 9-48 11-56 9-44 8-33 8 17 10 26 11 39 9 39 6 79 6-82 9-44 11-46 10-31 7-22 8 29 10 38 11 51 9 45 6 43 6-45 9-49 11-58 10-45 8-35 8 19 9 29 11 43 9 45 6 53 6-55 9-48 11-51 10-35 8-25 8 32 9 44 12 58 8 52 6 63 7-65 8-56 12-65 9-50 8-38 8 23 10 33 11 51 9 51 6 48 6-50 9-55 11-57 9-40 8-30 8 37 10 48 11 65 9 60 6 93 6-95 9-63 11-72 10-56 7-44 8 25 10 36 11 54 9 53 6 53 6-59 9-61 11-64 10-45 8-33 8 37 9 48 11 65 9 58 6 54 6-61 9-66 11-75 10-58 8-44 8 25 9 36 12 52 8 53 6 52 7-58 8-62 12-64 9-44 8-33 8 36 10 48 11 63 9 57 6 71 6-77 9-66 11-74 9-57 8-43 8 24 10 35 11 51 9 52 6 62 6-68 9-61 11-62 10-44 7-32 8 35 10 47 11 62 9 57 6 62 6-69 9-65 11-73 10-56 8-43 8 24 9 34 11 51 9 51 6 49 6-55 9-60 11-62 10-43 8-32 8 35 9 47 12 61 8 55 6 53 7-59 8-64 12-73 9-56 8-42 8 23 10 33 11 50 9 50 6 89 6-95 9-60 11-61 9-43 8-31 8 35 10 45 11 60 9 55 6 62 6-69 9-63 11-72 10-55 7-42 8 23 10 33 11 48 9 50 6 48 6-55 9-58 11-60 10-43 8-30 8 34 9 44 11 60 9 53 6 50 6-56 9-62 11-71 10-55 8-41 8 22 9 32 12 48 8 49 6 46 7-53 8-57 12-59 9-42 8-30 8 33 10 45 11 58 9 53 6 51 6-57 9-62 11-70 9-54 8-40 8 21 10 32 11 47 9 47 6 48 6-54 9-56 11-59 10-41 7-29 8 33 10 44 11 59 9 52 6 48 6-54 9-60 11-69 10-53 8-40 8 22 9 31 11 47 9 47 6 52 6-58 9-55 11-57 10-40 8-29 8 32 9 44 12 57 8 51 6 53 7-59 8-60 12-68 9-52 8-40 8 21 10 31 11 45 9 46 6 56 6-62 9-54 11-57 9-38 8-27 8 32 10 44 11 57 3 19M1722 2104V2751M1723 2104V2751"/>
<path stroke="#A2142F" d="M1559 2162l5-1 10-3 8-4 8 13 9 20 12 31 8 30 6 25 6-18 9-27 12-38 9-33 8-29 8 15 9 26 12 39 8 39 7 34 6-38 8-43 12-45 9-31 8-21 8 28 10 38 11 50 9 43 6 38 6-41 9-49 11-56 10-44 7-33 8 18 10 25 11 40 9 39 6 38 6-41 9-45 11-45 10-32 8-22 7 29 10 38 11 52 9 45 6 60 6-62 9-49 11-58 10-46 8-34 8 19 9 29 12 44 8 44 6 45 6-47 9-48 12-51 9-35 8-26 8 33 9 44 12 58 8 53 7 47 6-49 8-57 12-65 9-51 8-38 8 23 10 34 11 51 9 52 6 67 6-69 9-56 11-57 10-41 7-30 8 37 10 49 11 65 9 60 6 55 6-57 9-63 11-74 10-57 8-44 7 25 10 36 11 53 9 54 6 56 6-62 9-62 11-64 10-45 8-32 8 36 9 48 12 64 8 58 6 76 6-82 9-67 12-75 9-57 8-44 8 25 9 35 12 52 8 53 7 55 6-61 8-62 12-63 9-45 8-32 8 36 10 47 11 63 9 57 6 52 6-58 9-66 11-74 10-57 7-43 8 24 10 35 11 51 9 52 6 50 6-56 9-61 11-62 10-44 8-32 7 35 10 47 11 62 9 56 6 54 6-60 9-65 11-73 10-56 8-43 8 24 9 34 12 51 8 51 6 54 6-61 9-59 12-62 9-44 8-31 8 35 9 46 12 61 8 55 7 54 6-60 8-64 12-73 9-55 8-43 8 23 10 34 11 49 9 50 6 48 6-54 9-59 11-61 10-43 7-31 8 34 10 46 11 60 9 54 6 50 6-56 9-63 11-72 10-55 8-42 7 23 10 32 11 49 9 49 6 65 6-71 9-58 11-61 10-42 8-30 8 33 9 45 12 60 8 53 6 60 6-66 9-63 12-70 9-55 8-41 8 22 9 32 12 48 8 48 7 48 6-54 8-57 12-59 9-42 8-30 8 33 10 45 11 58 9 53 6 61 6-68 9-61 11-70 10-54 7-40 8 21 10 32 11 46 9 48 6 66 6-72 9-57 11-58 10-40 8-29 7 33 10 44 11 58 9 52 6 46 6-52 9-60 11-68 10-53 8-40 8 22 9 31 12 47 8 46 6 47 6-52 9-55 12-57 9-40 8-28 8 32 9 43 12 57 8 51 7 49 6-55 8-59 12-68 9-52 8-39 8 20 10 31 11 45 9 46 6 98 6-104 9-54 11-55 10-38 7-28 8 33 10 43 4 18M1743 2143V2751M1744 2143V2751"/>
<path stroke="#4DBEEE" d="M1580 2170l3-1 8 10 10 17 11 25 9 25 6 30 6-23 9-21 11-33 10-30 8-26 7 12 10 22 11 39 9 43 6 58 6-59 9-43 11-45 10-31 8-21 8 28 9 38 11 50 9 43 6 37 6-40 9-49 11-56 10-44 8-33 8 18 9 25 12 39 8 40 7 37 6-41 8-44 12-46 9-31 8-22 8 29 10 38 11 51 9 44 6 45 6-47 9-49 11-57 9-45 8-35 8 19 10 28 11 44 9 44 6 59 6-61 9-48 11-50 10-35 8-25 7 32 10 43 11 58 9 52 6 52 6-54 9-56 11-64 10-50 8-39 8 23 9 34 11 50 9 51 6 96 6-98 9-55 11-57 10-40 8-29 8 36 9 49 12 64 8 59 7 61 6-62 8-64 12-71 9-55 8-43 8 25 10 36 11 53 9 54 6 52 6-58 9-62 11-64 9-46 8-32 8 36 10 49 11 64 9 58 6 52 6-58 9-67 11-75 10-58 8-44 7 25 10 35 11 53 9 53 6 56 6-63 9-61 11-64 10-45 8-32 8 36 9 47 11 63 9 57 6 67 6-73 9-66 11-74 10-57 8-43 8 24 9 35 12 51 8 52 7 72 6-78 8-61 12-62 9-44 8-32 8 35 10 47 11 62 9 56 6 55 6-61 9-65 11-73 9-56 8-43 8 23 10 35 11 50 9 51 6 52 6-58 9-60 11-62 10-43 8-31 7 34 10 47 11 61 9 55 6 54 6-60 9-64 11-73 10-56 8-42 8 23 9 34 11 49 9 50 6 52 6-58 9-59 11-61 10-43 8-31 8 34 9 46 12 60 8 54 7 49 6-55 8-64 12-71 9-55 8-42 8 22 10 33 11 49 9 49 6 59 6-65 9-59 11-60 9-42 8-30 8 33 10 45 11 59 9 54 6 69 6-75 9-63 11-71 10-54 8-41 7 22 10 32 11 48 9 48 6 47 6-53 9-57 11-60 10-41 8-30 8 33 9 44 11 59 9 52 6 54 6-60 9-61 11-70 10-54 8-41 8 22 9 31 12 47 8 48 7 45 6-52 8-56 12-58 9-41 8-29 8 33 10 44 11 58 9 52 6 48 6-54 9-60 11-68 9-52 8-40 8 21 10 31 11 47 9 47 6 63 6-69 9-55 11-56 10-40 8-28 7 32 10 43 11 57 9 52 6 48 6-54 9-60 11-67 10-52 8-39 8 20 9 31 11 45 9 46 6 49 6-54 9-55 11-56 10-39 8-27 8 33 9 43 12 57 8 51 3 15M1763 2136V2759M1764 2136V2759"/>
<path stroke="#77AC30" d="M1600 2179l5-1 8 11 9 16 11 26 9 25 6 88 6-80 9-22 11-33 10-31 8-25 8 12 9 22 12 39 8 44 6 42 7-45 8-43 12-45 9-30 8-22 8 28 10 38 11 50 9 43 6 39 6-42 9-49 11-56 9-44 8-33 8 18 10 25 11 40 9 39 6 48 6-52 9-44 11-46 10-31 7-22 8 29 10 38 11 51 9 44 6 48 6-50 9-49 11-57 10-45 8-35 8 19 9 29 11 43 9 44 6 73 6-75 9-48 11-50 10-35 8-25 8 32 9 43 12 58 8 53 6 50 7-52 8-57 12-64 9-51 8-38 8 23 10 34 11 50 9 51 6 58 6-60 9-55 11-57 9-40 8-30 8 37 10 48 11 65 9 60 6 72 6-74 9-64 11-71 10-56 7-43 8 25 10 36 11 53 9 54 6 64 6-70 9-62 11-64 10-46 8-32 8 36 9 48 11 64 9 58 6 60 6-66 9-67 11-75 10-57 8-44 8 24 9 36 12 52 8 53 6 80 7-86 8-62 12-63 9-45 8-33 8 36 10 48 11 63 9 57 6 79 6-86 9-65 11-75 9-57 8-43 8 24 10 35 11 52 9 51 6 52 6-58 9-61 11-62 10-44 7-32 8 35 10 47 11 62 9 56 6 50 6-56 9-65 11-73 10-57 8-42 8 23 9 34 11 51 9 51 6 58 6-64 9-60 11-62 10-43 8-32 8 35 9 46 12 61 8 56 6 49 7-56 8-64 12-72 9-56 8-42 8 23 10 33 11 50 9 50 6 67 6-74 9-59 11-61 9-43 8-30 8 34 10 45 11 60 9 55 6 58 6-65 9-63 11-72 10-55 7-41 8 22 10 33 11 48 9 50 6 70 6-77 9-58 11-60 10-42 8-30 8 33 9 45 11 59 9 54 6 57 6-64 9-62 11-71 10-54 8-41 8 22 9 32 12 48 8 48 6 74 7-80 8-58 12-59 9-41 8-30 8 33 10 44 11 59 9 52 6 56 6-62 9-62 11-69 9-54 8-41 8 22 10 31 11 47 9 47 6 60 6-66 9-56 11-59 10-40 7-29 8 33 10 44 11 58 9 52 6 52 6-58 9-60 11-68 10-52 8-40 8 22 9 31 11 47 9 46 6 45 6-50 9-55 11-57 10-39 8-28 8 32 9 43 12 57 8 51 6 51 7-56 8-59 12-68 9-52 8-39 8 21 10 31 11 45 9 46 6 46 6-52 9-54 11-55 9-39 8-28 8 33 10 43 11 57 9 50 1 7M1783 2140V2771M1784 2140V2771"/>
<path stroke="#7E2F8E" d="M1620 2189l1 0 7 10 10 16 11 25 9 23 6 73 6-65 9-21 11-32 10-29 8-25 8 11 9 21 12 39 8 42 6 49 7-48 8-43 12-45 9-31 8-21 8 28 9 38 12 50 9 43 6 43 6-46 8-49 12-56 9-44 8-33 8 17 10 26 11 39 9 40 6 38 6-42 9-44 11-46 10-31 7-23 8 29 10 39 11 50 9 45 6 42 6-45 9-49 11-57 10-45 8-34 7 19 10 28 11 43 9 44 6 44 6-46 9-48 11-50 10-35 8-25 8 32 9 44 12 58 8 52 6 69 7-71 8-56 12-65 9-50 8-39 8 23 9 34 12 50 9 51 6 66 6-68 8-55 12-57 9-40 8-29 8 36 10 49 11 64 9 60 6 84 6-86 9-64 11-71 10-56 7-42 8 25 10 36 11 53 9 54 6 54 6-60 9-62 11-65 10-45 8-33 7 36 10 49 11 64 9 58 6 60 6-67 9-66 11-76 10-57 8-44 8 25 9 35 12 52 8 53 6 65 7-71 8-62 12-63 9-45 8-32 8 35 9 48 12 63 9 57 6 74 6-81 8-66 12-74 9-57 8-43 8 24 10 35 11 51 9 52 6 53 6-59 9-61 11-62 10-45 7-31 8 35 10 47 11 62 9 56 6 58 6-65 9-64 11-74 10-56 8-43 7 24 10 34 11 50 9 51 6 49 6-55 9-60 11-62 10-43 8-31 8 34 9 47 12 61 8 55 6 53 7-59 8-65 12-72 9-56 8-42 8 23 9 33 12 50 9 50 6 58 6-64 8-59 12-61 9-43 8-31 8 34 10 46 11 60 9 54 6 74 6-80 9-64 11-71 10-55 7-42 8 23 10 32 11 49 9 49 6 50 6-56 9-58 11-60 10-43 8-30 7 34 10 44 11 60 9 53 6 55 6-61 9-63 11-70 10-55 8-41 8 22 9 32 12 48 8 48 6 52 7-58 8-57 12-59 9-42 8-29 8 33 9 44 12 58 9 52 6 56 6-62 8-61 12-70 9-54 8-40 8 21 10 32 11 46 9 48 6 52 6-59 9-56 11-58 10-41 7-29 8 33 10 44 11 58 9 52 6 51 6-56 9-60 11-68 10-52 8-40 7 21 10 32 11 46 9 47 6 81 6-86 9-55 11-57 10-39 8-28 8 32 9 44 12 57 8 51 6 45 7-51 8-59 12-67 9-52 8-39 8 21 9 31 12 45 9 46 6 50 6-55 8-54 12-56 9-39 8-27 8 32 10 43 11 57 9 50 5 37M1803 2166V2783M1804 2166V2783"/>
<path stroke="#EDB120" d="M1640 2203l5 6 9 15 12 24 8 23 6 21 6-14 9-20 12-30 9-29 8-25 8 11 9 21 12 37 8 41 7 53 6-48 8-43 12-45 9-31 8-21 8 28 10 38 11 49 9 44 6 37 6-41 9-48 11-56 10-44 7-33 8 17 10 26 11 39 9 39 6 51 6-54 9-45 11-45 10-32 8-22 7 29 10 38 11 51 9 45 6 68 6-72 9-48 11-58 10-44 8-35 8 19 9 28 12 43 8 44 6 68 6-70 9-48 12-49 9-35 8-25 8 32 9 43 12 58 8 52 7 48 6-50 8-56 12-65 9-50 8-38 8 23 10 33 11 50 9 51 6 49 6-51 9-55 11-57 10-40 7-29 8 36 10 49 11 65 9 59 6 59 6-61 9-63 11-72 10-55 8-43 7 26 10 36 11 53 9 54 6 74 6-80 9-63 11-64 10-46 8-32 8 36 9 48 12 64 8 58 6 60 6-66 9-67 12-75 9-58 8-44 8 25 9 35 12 52 8 53 7 59 6-65 8-62 12-63 9-45 8-33 8 36 10 48 11 63 9 57 6 51 6-58 9-66 11-74 10-57 7-43 8 24 10 35 11 51 9 52 6 61 6-67 9-61 11-63 10-44 8-32 7 35 10 47 11 62 9 56 6 52 6-58 9-65 11-73 10-57 8-42 8 23 9 34 12 51 8 51 6 48 6-55 9-59 12-62 9-44 8-31 8 35 9 46 12 61 8 55 7 49 6-55 8-64 12-73 9-56 8-42 8 23 10 34 11 49 9 50 6 81 6-87 9-59 11-61 10-43 7-31 8 34 10 46 11 60 9 54 6 54 6-60 9-63 11-72 10-55 8-42 7 23 10 33 11 48 9 49 6 52 6-58 9-58 11-60 10-42 8-30 8 33 9 45 12 59 8 53 6 67 6-73 9-62 12-71 9-54 8-41 8 22 9 32 12 47 8 49 7 45 6-52 8-57 12-59 9-41 8-30 8 33 10 44 11 58 9 53 6 48 6-55 9-61 11-70 10-53 7-41 8 22 10 31 11 47 9 47 6 48 6-54 9-57 11-58 10-40 8-30 7 33 10 44 11 58 9 53 6 53 6-59 9-60 11-68 10-52 8-39 8 21 9 31 12 47 8 47 6 53 6-58 9-55 12-57 9-39 8-28 8 33 9 43 12 57 8 51 7 49 6-54 8-59 12-67 9-52 8-39 8 21 10 31 11 45 9 46 6 59 6-64 9-54 11-55 10-39 7-28 8 33 10 42 11 57 9 50 6 49 3-32M1823 2192V2795M1824 2192V2795"/>
<path stroke="#D95319" d="M1660 2222l8 11 11 22 9 21 6 24 6-16 9-18 11-29 10-28 8-23 7 10 10 19 11 36 9 39 6 42 6-35 9-40 11-45 10-30 8-22 8 28 9 38 12 50 8 43 6 46 6-49 9-49 11-56 10-44 8-33 8 17 9 26 12 39 8 40 7 35 6-39 8-44 12-46 9-32 8-22 8 29 10 39 11 50 9 45 6 57 6-61 9-49 11-57 9-44 8-34 8 18 10 28 11 43 9 44 6 46 6-48 9-48 11-50 10-34 8-25 7 32 10 43 11 57 9 52 6 61 6-63 9-56 11-64 10-50 8-38 8 23 9 33 12 50 8 51 6 52 6-54 9-55 11-57 10-40 8-29 8 36 9 48 12 65 8 59 7 54 6-56 8-63 12-71 9-56 8-42 8 27 10 36 11 54 9 53 6 55 6-61 9-63 11-64 9-46 8-33 8 37 10 48 11 64 9 57 6 68 6-74 9-67 11-75 10-58 8-43 7 24 10 36 11 52 9 53 6 68 6-75 9-61 11-64 10-45 8-32 8 35 9 48 12 63 8 57 6 58 6-65 9-65 11-75 10-57 8-43 8 24 9 35 12 51 8 52 7 75 6-81 8-61 12-63 9-44 8-32 8 35 10 47 11 62 9 56 6 59 6-65 9-65 11-74 9-56 8-43 8 24 10 34 11 50 9 51 6 68 6-74 9-60 11-62 10-43 8-31 7 34 10 46 11 61 9 55 6 50 6-56 9-64 11-72 10-56 8-42 8 23 9 33 12 50 8 50 6 57 6-64 9-59 11-61 10-42 8-31 8 34 9 45 12 61 8 54 7 55 6-62 8-63 12-71 9-55 8-42 8 23 10 32 11 49 9 49 6 52 6-58 9-58 11-60 9-42 8-31 8 34 10 45 11 59 9 53 6 49 6-55 9-62 11-71 10-54 8-41 7 22 10 31 11 48 9 48 6 49 6-55 9-57 11-59 10-42 8-29 8 33 9 44 12 58 8 52 6 48 6-54 9-61 11-70 10-53 8-41 8 21 9 32 12 46 8 48 7 49 6-56 8-56 12-58 9-41 8-29 8 33 10 44 11 58 9 52 6 67 6-73 9-59 11-68 9-52 8-40 8 22 10 31 11 47 9 47 6 53 6-59 9-54 11-56 10-40 8-28 7 33 10 43 11 57 9 52 6 46 6-52 9-59 11-66 10-52 8-39 8 21 9 31 12 46 8 46 6 45 6-51 9-53 11-56 10-38 8-28 8 32 9 43 12 56 8 50 7 45 6-50 3-25M1843 2230V2807M1844 2230V2807"/>
<path stroke="#0072BD" d="M1680 2219l3-1 8 10 9 16 11 26 9 24 6 23 6-15 9-22 11-32 10-30 8-26 8 12 9 22 12 39 8 43 6 59 7-59 8-44 12-45 9-31 8-21 8 28 9 38 12 50 9 43 6 37 6-40 8-49 12-56 9-44 8-33 8 17 10 26 11 39 9 40 6 35 6-39 9-44 11-46 10-32 7-22 8 29 10 39 11 50 9 45 6 39 6-41 9-49 11-58 10-45 8-35 8 19 9 29 11 43 9 44 6 44 6-46 9-48 11-50 10-35 8-25 8 32 9 43 12 59 8 52 6 47 7-49 8-56 12-65 9-51 8-38 8 23 9 34 12 50 9 51 6 50 6-52 8-55 12-57 9-41 8-29 8 36 10 49 11 65 9 60 6 56 6-58 9-64 11-71 10-56 7-43 8 25 10 36 11 53 9 54 6 75 6-81 9-63 11-65 10-45 8-33 8 36 9 48 11 64 9 58 6 58 6-64 9-67 11-75 10-58 8-44 8 25 9 35 12 53 8 52 6 67 7-73 8-62 12-63 9-45 8-32 8 35 9 48 12 63 9 57 6 57 6-64 8-66 12-74 9-57 8-43 8 24 10 35 11 51 9 52 6 66 6-72 9-61 11-63 10-44 7-32 8 35 10 47 11 62 9 56 6 55 6-61 9-65 11-73 10-57 8-42 8 23 9 34 11 50 9 51 6 49 6-55 9-60 11-61 10-44 8-31 8 34 9 47 12 60 8 56 6 66 7-73 8-64 12-72 9-56 8-42 8 23 9 33 12 50 9 50 6 49 6-55 8-59 12-61 9-43 8-31 8 34 10 46 11 60 9 54 6 48 6-54 9-63 11-71 10-55 7-42 8 22 10 33 11 49 9 49 6 82 6-88 9-58 11-60 10-42 8-31 8 34 9 45 11 59 9 53 6 54 6-60 9-62 11-71 10-54 8-41 8 22 9 32 12 48 8 48 6 81 7-87 8-57 12-60 9-41 8-30 8 33 9 45 12 58 9 52 6 63 6-69 8-61 12-70 9-54 8-40 8 21 10 32 11 47 9 47 6 52 6-58 9-57 11-58 10-41 7-29 8 34 10 44 11 58 9 52 6 59 6-64 9-60 11-68 10-52 8-40 8 22 9 31 11 46 9 47 6 57 6-62 9-55 11-56 10-39 8-28 8 32 9 43 12 58 8 51 6 43 7-49 8-59 12-66 9-52 8-39 8 21 9 31 12 45 9 46 6 57 6-63 8-53 12-55 9-39 8-27 8 32 10 42 11 56 9 50 3 24M1863 2189V2818M1864 2189V2818"/>
<path stroke="#A2142F" d="M1700 2241l9 13 11 22 9 21 6 26 6-18 9-19 11-29 10-27 8-24 7 10 10 20 11 36 9 39 6 40 6-32 9-41 11-45 10-31 8-22 8 29 9 37 12 50 8 44 6 39 6-42 9-49 11-57 10-43 8-33 8 17 9 26 12 39 8 40 7 38 6-42 8-44 12-46 9-32 8-22 8 29 10 38 11 51 9 45 6 78 6-81 9-50 11-57 9-45 8-34 8 19 10 28 11 43 9 44 6 40 6-42 9-48 11-49 10-35 8-25 7 32 10 43 11 58 9 51 6 47 6-48 9-56 11-65 10-50 8-38 8 23 9 33 12 50 8 51 6 65 6-67 9-55 11-57 10-40 8-29 8 36 9 49 12 65 8 58 7 59 6-61 8-62 12-72 9-55 8-42 8 26 10 37 11 53 9 54 6 54 6-61 9-62 11-65 9-45 8-33 8 36 10 48 11 64 9 58 6 54 6-60 9-67 11-75 10-58 8-44 7 25 10 35 11 53 9 52 6 53 6-59 9-62 11-63 10-45 8-32 8 35 9 48 12 63 8 57 6 66 6-73 9-66 11-74 10-57 8-43 8 24 9 35 12 51 8 52 7 52 6-58 8-61 12-63 9-44 8-32 8 35 10 47 11 62 9 56 6 51 6-57 9-65 11-73 9-57 8-42 8 23 10 34 11 51 9 51 6 67 6-74 9-60 11-61 10-44 8-31 7 35 10 46 11 61 9 55 6 49 6-55 9-64 11-73 10-55 8-43 8 23 9 34 12 49 8 50 6 48 6-54 9-59 11-61 10-42 8-31 8 34 9 45 12 61 8 54 7 75 6-81 8-63 12-72 9-55 8-41 8 22 10 33 11 49 9 49 6 55 6-61 9-58 11-60 9-43 8-30 8 34 10 45 11 59 9 54 6 66 6-72 9-63 11-70 10-55 8-41 7 22 10 32 11 48 9 49 6 48 6-54 9-58 11-59 10-42 8-29 8 33 9 44 12 59 8 53 6 57 6-64 9-61 11-70 10-54 8-41 8 22 9 32 12 47 8 48 7 50 6-57 8-56 12-59 9-41 8-29 8 33 10 44 11 59 9 52 6 47 6-53 9-60 11-68 9-52 8-40 8 21 10 32 11 47 9 47 6 50 6-56 9-55 11-56 10-40 8-28 7 33 10 43 11 57 9 51 6 78 6-83 9-59 11-67 10-52 8-39 8 21 9 31 12 45 8 46 6 66 6-72 9-53 11-56 10-38 8-27 8 31 9 43 12 56 8 50 7 66 6-72 2-20M1883 2247V2828M1884 2247V2828"/>
<path stroke="#4DBEEE" d="M1720 2251l9 13 11 22 9 21 6 20 6-12 9-18 11-30 10-27 8-24 8 10 9 20 12 36 8 40 6 39 7-32 8-41 12-45 9-31 8-22 8 29 9 38 12 50 9 43 6 38 6-41 8-49 12-56 9-44 8-33 8 17 10 26 11 39 9 40 6 40 6-43 9-45 11-46 10-32 7-22 8 29 10 39 11 51 9 44 6 50 6-53 9-49 11-57 10-45 8-34 7 18 10 29 11 43 9 44 6 44 6-46 9-48 11-50 10-35 8-25 8 32 9 43 12 58 8 52 6 50 7-52 8-56 12-64 9-50 8-39 8 23 9 34 12 50 9 51 6 63 6-65 8-55 12-57 9-40 8-29 8 36 10 49 11 64 9 59 6 59 6-61 9-63 11-71 10-55 7-43 8 27 10 36 11 54 9 53 6 56 6-62 9-62 11-65 10-46 8-32 7 36 10 48 11 64 9 58 6 74 6-81 9-66 11-75 10-58 8-44 8 25 9 35 12 52 8 53 6 62 7-68 8-62 12-63 9-45 8-32 8 35 9 48 12 63 9 57 6 68 6-75 8-66 12-74 9-57 8-43 8 24 10 35 11 51 9 52 6 70 6-76 9-61 11-63 10-44 7-32 8 36 10 46 11 62 9 56 6 51 6-57 9-65 11-73 10-56 8-43 7 23 10 35 11 50 9 51 6 73 6-80 9-59 11-62 10-43 8-32 8 35 9 46 12 61 8 55 6 58 7-64 8-64 12-72 9-56 8-42 8 23 9 33 12 50 9 50 6 49 6-55 8-59 12-61 9-43 8-31 8 34 10 46 11 60 9 55 6 49 6-55 9-64 11-71 10-55 7-42 8 23 10 33 11 49 9 49 6 53 6-59 9-58 11-60 10-42 8-31 7 34 10 45 11 60 9 53 6 90 6-96 9-62 11-71 10-54 8-42 8 23 9 32 12 48 8 49 6 49 7-56 8-57 12-59 9-42 8-30 8 34 9 44 12 59 9 53 6 51 6-57 8-62 12-70 9-54 8-41 8 22 10 32 11 47 9 48 6 47 6-53 9-57 11-58 10-41 7-30 8 33 10 45 11 58 9 53 6 106 6-112 9-60 11-69 10-52 8-40 7 21 10 32 11 47 9 47 6 99 6-105 9-55 11-57 10-39 8-28 8 32 9 43 12 58 8 51 6 44 7-50 8-59 12-67 9-52 8-39 8 21 9 31 12 45 9 46 6 60 6-66 8-53 12-56 9-38 8-28 8 32 10 42 11 56 9 50 6 65 6-71 3-18M1903 2257V2838M1904 2257V2838"/>
<path stroke="#77AC30" d="M1740 2249l2-1 8 10 10 17 11 25 9 24 6 21 6-13 9-21 11-33 9-30 8-25 8 12 10 22 11 39 9 43 6 42 6-42 9-43 11-46 10-31 8-21 7 28 10 38 11 50 9 44 6 55 6-58 9-49 11-57 10-44 8-33 8 17 9 27 11 39 9 40 6 76 6-80 9-44 11-46 10-32 8-22 8 29 9 38 12 51 8 45 7 50 6-52 8-49 12-58 9-45 8-35 8 19 10 29 11 43 9 45 6 46 6-48 9-49 11-50 9-35 8-25 8 32 10 44 11 58 9 52 6 45 6-47 9-56 11-65 10-50 8-39 7 23 10 34 11 51 9 51 6 51 6-53 9-55 11-58 10-40 8-29 8 36 9 49 11 65 9 59 6 66 6-68 9-63 11-72 10-55 8-43 8 25 9 36 12 53 8 54 7 53 6-59 8-63 12-64 9-46 8-33 8 37 10 48 11 63 9 58 6 65 6-71 9-67 11-75 9-57 8-44 8 25 10 35 11 52 9 53 6 62 6-68 9-62 11-64 10-44 8-33 7 36 10 48 11 62 9 57 6 55 6-61 9-66 11-74 10-57 8-43 8 24 9 35 11 51 9 52 6 52 6-58 9-61 11-63 10-44 8-31 8 35 9 46 12 62 8 56 7 54 6-60 8-65 12-73 9-56 8-43 8 24 10 34 11 50 9 51 6 48 6-55 9-59 11-62 9-43 8-31 8 34 10 46 11 61 9 55 6 70 6-76 9-64 11-72 10-56 8-42 7 23 10 34 11 49 9 50 6 86 6-92 9-59 11-61 10-43 8-30 8 34 9 46 11 60 9 54 6 60 6-66 9-63 11-71 10-55 8-42 8 23 9 33 12 49 8 49 7 52 6-58 8-58 12-60 9-42 8-31 8 34 10 45 11 60 9 54 6 53 6-60 9-62 11-71 9-54 8-41 8 22 10 32 11 49 9 48 6 49 6-55 9-57 11-60 10-41 8-30 7 33 10 45 11 59 9 53 6 77 6-83 9-62 11-70 10-54 8-41 8 22 9 32 11 48 9 48 6 51 6-58 9-56 11-59 10-41 8-29 8 33 9 44 12 59 8 52 7 47 6-52 8-61 12-68 9-53 8-40 8 22 10 31 11 47 9 47 6 46 6-52 9-55 11-57 9-39 8-28 8 32 10 43 11 57 9 51 6 66 6-71 9-59 11-67 10-52 8-39 7 21 10 30 11 45 9 46 6 42 6-48 9-53 11-56 10-38 8-27 8 31 9 42 11 56 9 49 5 30M1924 2223V2848M1925 2223V2848"/>
<path stroke="#7E2F8E" d="M1761 2269l0 1 10 14 11 23 9 22 6 21 6-13 9-19 11-30 10-28 8-24 7 10 10 20 11 37 9 41 6 57 6-50 9-42 11-46 10-31 8-22 8 29 9 38 12 50 8 44 6 37 6-40 9-49 12-57 9-44 8-33 8 17 9 26 12 40 8 40 7 40 6-44 8-44 12-46 9-32 8-22 8 29 10 38 11 51 9 45 6 39 6-42 9-49 11-58 10-45 7-34 8 19 10 28 11 44 9 44 6 48 6-50 9-48 11-50 10-35 8-25 7 32 10 43 11 58 9 52 6 59 6-61 9-56 11-64 10-50 8-39 8 23 9 34 12 50 8 51 6 50 6-52 9-55 12-57 9-40 8-29 8 36 9 49 12 65 8 59 7 66 6-68 8-63 12-72 9-55 8-42 8 26 10 36 11 54 9 53 6 57 6-63 9-62 11-65 10-46 7-32 8 36 10 48 11 64 9 58 6 70 6-76 9-67 11-75 10-58 8-44 7 25 10 35 11 53 9 52 6 52 6-58 9-61 11-64 10-45 8-32 8 36 9 47 12 63 8 57 6 69 6-75 9-66 12-74 9-57 8-43 8 24 9 34 12 52 8 52 7 50 6-57 8-60 12-63 9-44 8-32 8 35 10 47 11 62 9 56 6 63 6-69 9-65 11-73 10-56 7-43 8 23 10 34 11 51 9 51 6 61 6-68 9-59 11-62 10-43 8-31 7 34 10 46 11 61 9 55 6 50 6-56 9-64 11-72 10-56 8-42 8 23 9 34 12 49 8 50 6 56 6-62 9-59 12-61 9-42 8-31 8 34 9 46 12 60 8 55 7 52 6-59 8-63 12-71 9-55 8-42 8 23 10 33 11 49 9 50 6 52 6-58 9-59 11-60 10-42 7-30 8 34 10 45 11 60 9 54 6 50 6-56 9-63 11-71 10-54 8-42 7 23 10 32 11 49 9 49 6 60 6-66 9-58 11-59 10-42 8-30 8 33 9 45 12 59 8 54 6 66 6-72 9-62 12-70 9-55 8-40 8 22 9 32 12 47 8 49 7 45 6-51 8-57 12-59 9-41 8-30 8 33 10 45 11 59 9 52 6 46 6-52 9-60 11-69 10-53 7-40 8 22 10 31 11 47 9 47 6 59 6-65 9-55 11-57 10-40 8-28 7 33 10 43 11 57 9 51 6 46 6-52 9-59 11-67 10-52 8-39 8 21 9 30 12 45 8 46 6 62 6-68 9-53 12-56 9-38 8-28 8 32 9 42 12 55 8 50 7 48 6-54 1-8M1944 2271V2858M1945 2271V2858"/>
<path stroke="#EDB120" d="M1781 2284l6 10 11 21 9 22 6 25 6-18 9-18 11-28 10-28 8-23 8 10 9 19 12 36 8 40 6 43 7-35 8-40 12-45 9-32 8-21 8 28 9 38 12 51 9 44 6 36 6-40 8-49 12-56 9-44 8-34 8 18 10 26 11 40 9 39 6 51 6-54 9-45 11-46 10-32 7-22 8 29 10 39 11 51 9 45 6 40 6-43 9-50 11-57 10-45 8-34 7 19 10 28 11 43 9 44 6 62 6-64 9-48 11-50 10-35 8-25 8 32 9 44 12 58 8 52 6 45 7-47 8-56 12-65 9-50 8-38 8 23 9 33 12 51 9 50 6 48 6-50 8-54 12-57 9-40 8-29 8 36 10 48 11 65 9 59 6 62 6-64 9-63 11-71 10-55 7-43 8 27 10 37 11 53 9 54 6 59 6-65 9-63 11-64 10-46 8-33 7 37 10 48 11 64 9 58 6 54 6-61 9-66 11-75 10-58 8-44 8 25 9 35 12 53 8 52 6 58 7-64 8-61 12-64 9-45 8-32 8 36 9 47 12 63 9 57 6 62 6-68 8-66 12-74 9-57 8-43 8 24 10 35 11 51 9 52 6 54 6-61 9-60 11-63 10-44 7-32 8 36 10 46 11 62 9 56 6 51 6-57 9-65 11-73 10-56 8-43 7 24 10 34 11 50 9 51 6 50 6-56 9-60 11-62 10-43 8-31 8 34 9 47 12 60 8 56 6 50 7-57 8-64 12-72 9-55 8-42 8 23 9 33 12 50 9 50 6 96 6-102 8-59 12-61 9-43 8-31 8 35 10 45 11 61 9 54 6 77 6-83 9-63 11-71 10-55 7-42 8 23 10 33 11 49 9 50 6 56 6-62 9-58 11-61 10-42 8-30 7 34 10 45 11 60 9 54 6 50 6-56 9-62 11-71 10-55 8-41 8 22 9 33 12 48 8 50 6 53 7-60 8-57 12-60 9-42 8-29 8 33 9 45 12 59 9 54 6 61 6-67 8-62 12-71 9-54 8-41 8 22 10 33 11 48 9 48 6 82 6-88 9-57 11-59 10-41 7-30 8 33 10 45 11 59 9 53 6 50 6-56 9-61 11-69 10-53 8-40 7 21 10 32 11 47 9 47 6 47 6-53 9-55 11-57 10-40 8-29 8 33 9 43 12 57 8 51 6 100 7-106 8-59 12-67 9-52 8-39 8 21 9 30 12 45 9 46 6 52 6-58 8-54 12-55 9-39 8-27 8 31 10 42 11 56 9 49 6 64 6-70 5-34M1964 2299V2868M1965 2299V2868"/>
<path stroke="#D95319" d="M1801 2292l8 12 11 22 9 22 6 21 6-13 9-19 11-29 10-28 8-23 8 10 9 20 11 36 9 41 6 54 6-47 9-41 11-46 10-31 8-22 8 29 9 38 12 51 8 44 6 41 7-44 8-50 12-56 9-45 8-33 8 18 10 26 11 40 9 40 6 48 6-52 9-45 11-46 9-32 8-22 8 29 10 39 11 51 9 45 6 64 6-67 9-50 11-57 10-45 7-34 8 19 10 28 11 43 9 44 6 56 6-58 9-47 11-50 10-35 8-26 8 33 9 43 11 58 9 52 6 50 6-52 9-56 11-64 10-50 8-39 8 23 9 34 12 50 8 51 6 49 7-51 8-55 12-57 9-40 8-29 8 36 10 49 11 65 9 58 6 59 6-60 9-63 11-72 9-55 8-42 8 27 10 36 11 53 9 54 6 54 6-60 9-63 11-64 10-46 7-32 8 36 10 48 11 64 9 58 6 55 6-61 9-67 11-75 10-58 8-44 8 25 9 35 11 53 9 53 6 65 6-72 9-61 11-64 10-45 8-32 8 36 9 47 12 63 8 57 6 54 7-60 8-66 12-74 9-57 8-43 8 24 10 35 11 51 9 52 6 85 6-91 9-61 11-62 9-45 8-31 8 35 10 47 11 62 9 56 6 56 6-63 9-64 11-74 10-56 7-42 8 23 10 34 11 51 9 50 6 85 6-91 9-60 11-61 10-43 8-31 8 34 9 46 11 61 9 55 6 53 6-59 9-64 11-72 10-56 8-42 8 23 9 34 12 49 8 50 6 52 7-58 8-59 12-60 9-43 8-31 8 34 10 46 11 61 9 54 6 59 6-65 9-63 11-71 9-55 8-42 8 23 10 33 11 49 9 50 6 54 6-60 9-58 11-60 10-43 7-30 8 34 10 46 11 60 9 54 6 51 6-57 9-63 11-71 10-54 8-42 8 23 9 33 11 48 9 50 6 67 6-73 9-58 11-60 10-42 8-30 8 34 9 45 12 60 8 53 6 55 7-61 8-62 12-70 9-54 8-42 8 23 10 32 11 48 9 49 6 60 6-66 9-57 11-59 9-42 8-29 8 33 10 45 11 59 9 53 6 46 6-52 9-61 11-70 10-53 7-40 8 21 10 32 11 47 9 47 6 58 6-64 9-55 11-57 10-40 8-29 8 33 9 43 11 57 9 51 6 50 6-56 9-59 11-68 10-51 8-39 8 20 9 30 12 45 8 46 6 47 7-53 8-54 12-55 9-39 8-27 8 31 10 42 11 55 9 49 6 47 6-53 3-22M1984 2301V2878M1985 2301V2878"/>
<path stroke="#0072BD" d="M1821 2329l0 0 9 17 6 24 6-16 9-14 11-23 10-24 8-21 7 8 10 16 11 31 9 35 6 34 6-26 9-33 11-38 10-30 8-22 8 29 9 38 12 51 8 44 6 42 6-46 9-49 12-57 9-44 8-33 8 18 9 26 12 40 8 39 7 49 6-52 8-45 12-46 9-32 8-22 8 29 10 39 11 51 9 45 6 39 6-42 9-50 11-58 10-44 7-34 8 18 10 28 11 43 9 43 6 44 6-46 9-47 11-49 10-35 8-24 7 31 10 43 11 57 9 52 6 61 6-63 9-55 11-64 10-50 8-38 8 23 9 33 12 50 8 50 6 55 6-57 9-54 12-56 9-40 8-29 8 36 9 48 12 64 8 58 7 63 6-65 8-62 12-70 9-55 8-42 8 27 10 38 11 56 9 54 6 70 6-76 9-63 11-65 10-45 7-33 8 36 10 49 11 64 9 58 6 69 6-76 9-66 11-76 10-57 8-44 7 25 10 35 11 53 9 52 6 56 6-62 9-61 11-64 10-45 8-32 8 35 9 48 12 63 8 57 6 58 6-64 9-66 12-74 9-57 8-43 8 24 9 35 12 51 8 52 7 57 6-63 8-61 12-63 9-44 8-31 8 35 10 47 11 62 9 56 6 56 6-63 9-64 11-74 10-56 7-42 8 23 10 34 11 51 9 51 6 63 6-70 9-59 11-62 10-43 8-32 7 35 10 46 11 61 9 55 6 50 6-56 9-64 11-72 10-56 8-42 8 23 9 34 12 50 8 50 6 50 6-56 9-59 12-61 9-43 8-31 8 34 9 46 12 61 8 54 7 50 6-56 8-63 12-71 9-55 8-42 8 23 10 33 11 50 9 50 6 52 6-58 9-59 11-60 10-42 7-30 8 34 10 45 11 60 9 55 6 50 6-56 9-63 11-71 10-55 8-41 7 23 10 32 11 49 9 50 6 59 6-65 9-58 11-60 10-42 8-30 8 34 9 45 12 60 8 54 6 47 6-53 9-62 12-71 9-54 8-41 8 22 9 33 12 48 8 49 7 54 6-60 8-57 12-60 9-41 8-30 8 34 10 44 11 60 9 53 6 55 6-61 9-62 11-69 10-54 7-41 8 22 10 32 11 48 9 47 6 44 6-50 9-56 11-58 10-40 8-28 7 32 10 44 11 57 9 51 6 63 6-69 9-59 11-68 10-52 8-39 8 20 9 31 12 45 8 45 6 59 6-65 9-54 12-55 9-39 8-27 8 31 9 42 12 55 8 49 7 62 6-68 8-57 12-66 2-13M2004 2408V2895M2005 2408V2895"/>
<path stroke="#A2142F" d="M1841 2334l4 6 8 18 6 20 7-12 8-14 12-25 9-24 8-22 8 8 9 17 12 32 9 37 6 46 6-39 8-33 12-39 9-32 8-22 8 29 10 38 11 51 9 44 6 40 6-43 9-49 11-57 10-44 7-34 8 18 10 26 11 40 9 40 6 39 6-42 9-45 11-47 10-31 8-23 7 29 10 39 11 52 9 45 6 41 6-45 9-49 11-58 10-45 8-34 8 19 9 28 12 43 8 43 6 45 7-47 8-47 12-50 9-34 8-25 8 32 9 43 12 57 9 52 6 54 6-56 8-55 12-64 9-50 8-38 8 23 10 33 11 50 9 50 6 48 6-50 9-54 11-57 10-39 7-29 8 36 10 48 11 64 9 59 6 54 6-56 9-63 11-70 10-55 8-42 7 26 10 39 11 55 9 54 6 71 6-77 9-63 11-64 10-46 8-33 8 36 9 49 12 64 8 58 6 53 7-59 8-67 12-75 9-58 8-44 8 25 9 35 12 53 9 53 6 104 6-111 8-61 12-64 9-45 8-32 8 36 10 48 11 62 9 58 6 51 6-58 9-66 11-74 10-57 7-43 8 24 10 35 11 52 9 51 6 51 6-57 9-60 11-63 10-44 8-32 7 35 10 47 11 62 9 56 6 52 6-58 9-65 11-73 10-56 8-43 8 24 9 34 12 50 8 51 6 53 7-59 8-60 12-61 9-44 8-31 8 35 9 46 12 61 9 55 6 58 6-64 8-64 12-72 9-56 8-42 8 23 10 34 11 49 9 51 6 59 6-66 9-58 11-61 10-43 7-31 8 34 10 46 11 61 9 55 6 49 6-55 9-63 11-72 10-55 8-42 7 23 10 34 11 49 9 50 6 62 6-68 9-58 11-60 10-43 8-30 8 34 9 46 12 60 8 55 6 65 7-71 8-63 12-71 9-55 8-41 8 22 9 33 12 50 9 49 6 61 6-67 8-58 12-60 9-42 8-30 8 34 10 46 11 59 9 55 6 47 6-53 9-63 11-70 10-55 7-41 8 22 10 33 11 49 9 49 6 47 6-53 9-57 11-60 10-42 8-29 7 33 10 45 11 60 9 53 6 55 6-61 9-62 11-70 10-53 8-41 8 22 9 32 12 47 8 48 6 55 7-61 8-56 12-58 9-41 8-28 8 32 9 44 12 57 9 51 6 45 6-51 8-60 12-67 9-52 8-40 8 21 10 30 11 45 9 46 6 43 6-50 9-53 11-56 10-39 7-27 8 31 10 42 11 55 9 49 6 44 6-50 9-57 10-61M2024 2401V2915M2025 2401V2915"/>
<path stroke="#4DBEEE" d="M1861 2349l0 0 9 17 6 17 6-9 9-13 11-24 10-24 8-21 8 8 9 16 12 31 8 36 6 44 7-36 8-33 12-38 9-31 8-22 8 29 9 39 12 50 9 45 6 41 6-45 8-49 12-57 9-44 8-34 8 18 10 27 11 40 9 40 6 36 6-40 9-45 11-46 10-32 7-23 8 30 10 39 11 51 9 45 6 46 6-49 9-50 11-58 10-44 8-34 7 18 10 28 11 43 9 43 6 48 6-50 9-47 11-49 10-35 8-24 8 31 9 43 12 58 8 51 6 45 7-47 8-55 12-64 9-49 8-38 8 22 9 33 12 50 9 50 6 48 6-50 8-54 12-56 9-40 8-28 8 35 10 49 11 64 9 58 6 53 6-55 9-62 11-71 10-54 7-42 8 26 10 38 11 57 9 54 6 65 6-72 9-62 11-65 10-45 8-33 7 36 10 48 11 64 9 58 6 53 6-59 9-67 11-75 10-57 8-44 8 25 9 35 12 53 8 52 6 55 7-61 8-61 12-64 9-45 8-32 8 36 9 47 12 63 9 57 6 61 6-67 8-66 12-74 9-57 8-43 8 24 10 35 11 51 9 52 6 50 6-56 9-61 11-62 10-44 7-32 8 35 10 47 11 62 9 56 6 53 6-59 9-65 11-73 10-56 8-43 7 24 10 34 11 50 9 51 6 58 6-64 9-60 11-61 10-44 8-31 8 35 9 46 12 61 8 55 6 49 7-55 8-64 12-72 9-56 8-42 8 23 9 34 12 50 9 50 6 49 6-55 8-59 12-61 9-43 8-30 8 34 10 45 11 61 9 55 6 59 6-65 9-63 11-72 10-54 7-42 8 23 10 33 11 50 9 50 6 48 6-54 9-58 11-61 10-42 8-30 7 34 10 46 11 60 9 55 6 50 6-56 9-63 11-71 10-55 8-41 8 22 9 34 12 49 8 50 6 47 7-53 8-58 12-60 9-42 8-31 8 35 9 45 12 60 9 54 6 59 6-65 8-62 12-71 9-54 8-42 8 23 10 33 11 49 9 49 6 63 6-69 9-57 11-60 10-42 7-30 8 34 10 45 11 60 9 54 6 64 6-71 9-62 11-70 10-54 8-41 7 23 10 31 11 48 9 48 6 45 6-52 9-56 11-58 10-40 8-29 8 32 9 44 12 57 8 51 6 45 7-51 8-59 12-68 9-52 8-40 8 21 9 30 12 45 9 45 6 48 6-54 8-54 12-55 9-39 8-28 8 32 10 41 11 55 9 49 6 48 6-54 9-57 11-66 2-13M2044 2429V2935M2045 2429V2935"/>
<path stroke="#77AC30" d="M1881 2351l6 10 9 19 6 16 6-8 9-15 11-25 10-25 7-22 8 8 10 18 11 33 9 37 6 38 6-30 9-35 11-40 10-32 8-22 7 29 10 39 11 50 9 45 6 54 6-57 9-50 11-57 10-44 8-34 8 18 9 26 12 41 8 40 6 36 7-40 8-45 12-46 9-32 8-23 8 30 9 39 12 51 9 45 6 43 6-46 8-50 12-58 9-44 8-35 8 19 10 28 11 43 9 44 6 48 6-50 9-47 11-50 10-35 7-24 8 32 10 43 11 57 9 52 6 58 6-60 9-55 11-64 10-50 8-38 7 22 10 34 11 50 9 50 6 53 6-55 9-54 11-57 10-39 8-29 8 36 9 48 12 64 8 59 6 54 7-56 8-62 12-71 9-55 8-42 8 26 9 39 12 55 9 54 6 57 6-64 8-62 12-65 9-45 8-33 8 36 10 49 11 64 9 57 6 69 6-75 9-66 11-76 10-57 7-44 8 25 10 35 11 53 9 53 6 102 6-109 9-61 11-64 10-45 8-32 7 36 10 48 11 63 9 57 6 60 6-67 9-65 11-74 10-57 8-44 8 25 9 34 12 52 8 52 6 72 7-79 8-60 12-63 9-44 8-31 8 35 9 47 12 62 9 56 6 52 6-59 8-64 12-73 9-57 8-42 8 23 10 34 11 51 9 51 6 54 6-61 9-59 11-62 10-43 7-31 8 35 10 46 11 61 9 55 6 49 6-56 9-63 11-72 10-56 8-42 7 23 10 34 11 49 9 50 6 60 6-66 9-58 11-61 10-43 8-31 8 35 9 45 12 61 8 55 6 56 7-62 8-63 12-71 9-55 8-42 8 23 9 34 12 49 9 50 6 60 6-65 8-59 12-60 9-42 8-31 8 34 10 46 11 61 9 54 6 49 6-54 9-63 11-71 10-55 7-42 8 23 10 34 11 49 9 50 6 63 6-69 9-58 11-60 10-42 8-30 7 34 10 45 11 61 9 54 6 73 6-79 9-62 11-71 10-55 8-41 8 22 9 34 12 49 8 49 6 50 7-56 8-57 12-60 9-42 8-30 8 34 9 45 12 60 9 54 6 72 6-79 8-62 12-70 9-54 8-41 8 22 10 32 11 47 9 48 6 51 6-57 9-57 11-58 10-40 7-29 8 32 10 44 11 57 9 51 6 53 6-59 9-60 11-68 10-52 8-39 7 20 10 31 11 44 9 46 6 69 6-76 9-54 11-55 10-39 8-27 8 31 9 42 12 54 8 49 6 72 7-79 8-57 9-48M2064 2410V2955M2065 2410V2955"/>
<path stroke="#7E2F8E" d="M1901 2371l8 14 6 18 6-10 9-13 11-23 10-23 8-21 8 7 9 16 11 31 9 36 6 83 6-75 9-33 11-38 10-30 8-22 8 29 9 39 12 51 8 44 6 41 7-44 8-50 12-57 9-44 8-34 8 18 10 27 11 40 9 40 6 40 6-43 9-45 11-47 9-32 8-22 8 29 10 39 11 52 9 45 6 43 6-46 9-50 11-58 10-45 7-34 8 18 10 28 11 43 9 44 6 43 6-45 9-47 11-50 10-34 8-25 8 32 9 43 11 57 9 52 6 69 6-71 9-55 11-64 10-50 8-38 8 23 9 33 12 50 8 50 6 72 7-74 8-54 12-56 9-40 8-29 8 36 10 48 11 64 9 59 6 72 6-74 9-62 11-71 9-55 8-41 8 26 10 38 11 57 9 54 6 122 6-128 9-63 11-65 10-45 7-33 8 36 10 49 11 64 9 58 6 55 6-61 9-67 11-75 10-58 8-44 8 25 9 36 11 52 9 53 6 57 6-63 9-62 11-63 10-45 8-32 8 35 9 48 12 63 8 57 6 52 7-58 8-66 12-74 9-57 8-43 8 24 10 35 11 51 9 52 6 51 6-57 9-61 11-62 9-44 8-32 8 35 10 47 11 62 9 56 6 52 6-58 9-65 11-73 10-56 7-42 8 23 10 34 11 51 9 50 6 95 6-101 9-59 11-62 10-43 8-31 8 34 9 46 11 61 9 55 6 118 6-124 9-64 11-72 10-55 8-42 8 23 9 34 12 49 8 50 6 80 7-86 8-58 12-61 9-43 8-31 8 35 10 45 11 61 9 55 6 57 6-63 9-63 11-71 9-55 8-42 8 23 10 34 11 49 9 51 6 57 6-63 9-58 11-61 10-42 7-30 8 34 10 46 11 60 9 55 6 76 6-82 9-62 11-72 10-54 8-42 8 23 9 33 11 50 9 50 6 66 6-72 9-58 11-60 10-42 8-31 8 35 9 45 12 61 8 54 6 65 7-70 8-63 12-71 9-55 8-41 8 23 10 33 11 49 9 50 6 49 6-55 9-58 11-60 9-42 8-30 8 34 10 46 11 60 9 54 6 73 6-79 9-63 11-71 10-54 7-41 8 22 10 32 11 48 9 48 6 64 6-71 9-56 11-58 10-41 8-29 8 32 9 44 11 57 9 51 6 51 6-57 9-60 11-68 10-52 8-40 8 21 9 30 12 45 8 45 6 44 7-50 8-54 12-56 9-39 8-27 8 31 10 42 11 54 9 49 6 47 6-54 9-57 11-65 4-21M2085 2459V2975M2086 2459V2975"/>
<path stroke="#EDB120" d="M1922 2395l2 5 6-4 9-10 11-20 10-21 7-19 8 6 10 14 11 28 9 32 6 43 6-35 9-30 11-34 10-27 8-22 8 29 9 39 11 51 9 45 6 41 6-44 9-50 11-57 10-45 8-33 8 18 9 26 12 40 8 41 6 43 7-46 8-46 12-46 9-32 8-23 8 29 10 40 11 51 9 46 6 63 6-67 9-50 11-58 9-45 8-34 8 19 10 28 11 42 9 43 6 39 6-41 9-47 11-48 10-35 7-24 8 31 10 43 11 57 9 51 6 55 6-57 9-55 11-63 10-49 8-38 8 22 9 33 11 50 9 49 6 49 6-50 9-54 11-56 10-39 8-29 8 36 9 48 12 63 8 58 6 68 7-70 8-61 12-70 9-55 8-41 8 26 10 38 11 56 9 56 6 55 6-60 9-62 11-65 9-46 8-32 8 36 10 48 11 64 9 59 6 81 6-88 9-66 11-76 10-57 7-44 8 25 10 35 11 53 9 53 6 68 6-74 9-62 11-64 10-44 8-33 8 36 9 48 11 63 9 57 6 65 6-71 9-66 11-74 10-57 8-43 8 24 9 35 12 51 8 52 6 129 7-135 8-61 12-62 9-44 8-32 8 35 10 47 11 62 9 56 6 55 6-61 9-65 11-73 9-56 8-43 8 24 10 34 11 51 9 50 6 50 6-56 9-59 11-62 10-43 7-31 8 34 10 47 11 61 9 55 6 57 6-64 9-63 11-72 10-56 8-42 8 23 9 34 11 49 9 50 6 65 6-71 9-58 11-61 10-43 8-30 8 34 9 46 12 60 8 55 6 101 7-107 8-63 12-71 9-55 8-42 8 23 10 34 11 50 9 50 6 51 6-57 9-58 11-60 9-43 8-30 8 34 10 46 11 61 9 55 6 61 6-67 9-63 11-71 10-55 7-41 8 23 10 33 11 50 9 50 6 55 6-61 9-58 11-60 10-42 8-31 8 35 9 45 11 61 9 55 6 49 6-55 9-63 11-71 10-55 8-41 8 23 9 33 12 50 8 50 6 52 7-58 8-58 12-60 9-42 8-30 8 34 10 46 11 60 9 55 6 48 6-54 9-63 11-72 9-54 8-41 8 22 10 32 11 48 9 48 6 47 6-53 9-57 11-59 10-41 7-29 8 33 10 43 11 58 9 51 6 45 6-51 9-61 11-68 10-52 8-40 8 21 9 30 11 45 9 45 6 45 6-51 9-54 11-56 10-39 8-28 8 32 9 41 12 55 8 48 6 43 7-49 8-58 12-65 9-50 6-27M2105 2460V2995M2106 2460V2995"/>
<path stroke="#D95319" d="M1942 2404l3 19 6-16 9-10 11-21 10-21 7-19 8 6 10 14 11 28 9 33 6 43 6-35 9-30 11-35 10-27 8-22 8 29 9 39 11 51 9 45 6 46 6-49 9-50 11-57 10-45 8-33 8 18 9 26 12 41 8 40 6 54 7-57 8-45 12-47 9-32 8-23 8 30 9 39 12 52 9 45 6 39 6-42 8-50 12-59 9-44 8-34 8 18 10 28 11 43 9 43 6 43 6-45 9-47 11-49 10-34 7-25 8 32 10 43 11 57 9 51 6 45 6-47 9-55 11-64 10-49 8-38 8 23 9 33 11 49 9 50 6 66 6-68 9-54 11-55 10-40 8-28 8 35 9 48 12 64 8 58 6 53 7-55 8-62 12-70 9-54 8-42 8 26 9 38 12 56 9 57 6 58 6-63 8-63 12-65 9-45 8-33 8 36 10 49 11 64 9 58 6 71 6-77 9-67 11-75 10-58 7-44 8 25 10 36 11 52 9 53 6 54 6-60 9-61 11-64 10-45 8-32 8 36 9 47 11 63 9 58 6 72 6-79 9-65 11-75 10-56 8-44 8 25 9 34 12 52 8 52 6 50 7-56 8-61 12-62 9-45 8-31 8 35 9 47 12 62 9 56 6 56 6-62 8-65 12-73 9-56 8-43 8 24 10 34 11 50 9 51 6 49 6-55 9-59 11-62 10-43 7-31 8 34 10 46 11 61 9 55 6 53 6-59 9-63 11-72 10-56 8-42 8 23 9 34 11 49 9 51 6 57 6-63 9-59 11-61 10-43 8-30 8 34 9 46 12 60 8 55 6 52 7-57 8-63 12-72 9-55 8-41 8 23 9 33 12 50 9 51 6 49 6-55 8-58 12-61 9-42 8-31 8 35 10 46 11 61 9 55 6 49 6-55 9-63 11-71 10-55 7-42 8 24 10 33 11 50 9 50 6 52 6-57 9-59 11-60 10-42 8-31 8 35 9 46 11 61 9 55 6 48 6-54 9-63 11-71 10-55 8-42 8 24 9 33 12 50 8 50 6 61 7-67 8-58 12-60 9-42 8-31 8 35 9 46 12 60 9 55 6 64 6-70 8-63 12-72 9-54 8-42 8 23 10 32 11 48 9 48 6 47 6-54 9-57 11-59 10-41 7-29 8 33 10 44 11 57 9 51 6 62 6-68 9-60 11-69 10-52 8-40 8 21 9 30 11 45 9 45 6 46 6-53 9-54 11-56 10-39 8-27 8 31 9 41 12 55 8 48 6 47 7-53 8-58 12-65 9-50 5-23M2125 2476V3008M2126 2476V3008"/>
<path stroke="#0072BD" d="M1962 2410l0 1 6 25 6-17 9-11 11-21 10-22 8-20 8 7 9 14 12 30 8 34 6 35 7-28 8-30 12-36 9-28 8-22 8 29 9 39 12 51 9 45 6 57 6-60 8-50 12-58 9-44 8-34 8 18 10 27 11 40 9 41 6 46 6-49 9-46 11-47 10-32 7-22 8 29 10 39 11 52 9 46 6 55 6-59 9-50 11-58 10-45 8-34 8 19 9 28 11 43 9 43 6 42 6-44 9-47 11-49 10-35 8-24 8 31 9 43 12 58 8 51 6 53 7-55 8-55 12-64 9-49 8-38 8 23 9 33 12 49 9 50 6 54 6-56 8-54 12-55 9-40 8-28 8 35 10 48 11 64 9 58 6 53 6-55 9-62 11-70 10-54 7-42 8 26 10 38 11 56 9 57 6 64 6-70 9-63 11-64 10-46 8-33 8 37 9 48 11 64 9 58 6 74 6-80 9-67 11-75 10-57 8-44 8 25 9 35 12 53 8 53 6 51 7-58 8-61 12-64 9-44 8-33 8 36 9 48 12 63 9 57 6 59 6-65 8-66 12-74 9-57 8-43 8 24 10 35 11 51 9 52 6 57 6-63 9-60 11-63 10-44 7-31 8 35 10 47 11 62 9 56 6 65 6-72 9-64 11-73 10-56 8-43 8 24 9 34 11 50 9 51 6 67 6-73 9-60 11-61 10-43 8-31 8 34 9 46 12 61 8 55 6 78 7-84 8-64 12-72 9-55 8-42 8 23 9 34 12 49 9 50 6 55 6-61 8-58 12-61 9-43 8-30 8 34 10 46 11 61 9 54 6 91 6-96 9-63 11-72 10-55 7-41 8 23 10 34 11 50 9 50 6 58 6-63 9-59 11-60 10-43 8-30 8 35 9 46 11 61 9 55 6 78 6-84 9-63 11-71 10-55 8-42 8 24 9 33 12 50 8 51 6 48 7-54 8-58 12-61 9-42 8-30 8 34 9 46 12 61 9 55 6 76 6-81 8-63 12-72 9-55 8-41 8 23 10 34 11 50 9 50 6 60 6-66 9-58 11-60 10-43 7-30 8 34 10 47 11 61 9 55 6 53 6-60 9-63 11-72 10-55 8-41 8 22 9 32 11 48 9 49 6 47 6-54 9-57 11-59 10-41 8-30 8 33 9 44 12 57 8 51 6 48 7-54 8-61 12-68 9-53 8-39 8 20 9 30 12 45 9 45 6 48 6-54 8-54 12-56 9-39 8-28 8 31 10 42 11 54 9 48 6 77 6-84 9-57 11-65 10-50 1-7M2145 2519V3020M2146 2519V3020"/>
<path stroke="#A2142F" d="M1982 2384l3-1 8-3 12-8 9-7 8-7 8 16 10 25 11 38 9 36 6 47 6-39 9-33 11-44 10-39 7-32 8 18 10 27 11 40 9 41 6 37 6-41 9-45 11-46 10-33 8-22 8 29 9 40 11 51 9 45 6 54 6-57 9-50 11-58 10-44 8-34 8 18 9 27 12 41 8 41 6 51 7-55 8-45 12-48 9-32 8-23 8 30 10 40 11 54 9 48 6 60 6-62 8-52 12-60 9-46 8-36 8 20 10 31 11 45 9 47 6 58 6-60 9-50 11-53 10-36 7-27 8 34 10 45 11 61 9 54 6 56 6-58 9-58 11-67 10-51 8-40 8 24 9 35 11 53 9 53 6 72 6-74 9-57 11-59 10-41 8-30 8 37 9 50 12 67 8 61 6 66 7-69 8-67 12-76 9-58 8-44 8 25 10 36 11 53 9 54 6 56 6-63 8-62 12-64 9-45 8-32 8 36 10 48 11 63 9 58 6 77 6-83 9-66 11-75 10-57 7-44 8 25 10 35 11 52 9 52 6 52 6-58 9-61 11-63 10-44 8-32 8 35 9 48 11 62 9 57 6 60 6-66 9-66 11-73 10-57 8-43 8 24 9 35 12 51 8 51 6 53 7-59 8-60 12-62 9-44 8-31 8 35 10 47 11 61 9 56 6 96 6-103 8-64 12-72 9-56 8-42 8 23 10 34 11 50 9 50 6 108 6-114 9-59 11-61 10-43 7-31 8 35 10 46 11 60 9 55 6 51 6-57 9-63 11-72 10-55 8-42 8 23 9 33 11 50 9 50 6 55 6-60 9-59 11-60 10-43 8-30 8 35 9 46 12 61 8 55 6 66 7-71 8-64 12-71 9-55 8-42 8 24 10 34 11 50 9 50 6 104 6-109 8-59 12-60 9-43 8-30 8 35 10 46 11 61 9 55 6 54 6-59 9-63 11-72 10-55 7-41 8 23 10 34 11 50 9 50 6 60 6-65 9-59 11-60 10-43 8-30 8 35 9 46 11 61 9 55 6 53 6-58 9-63 11-72 10-55 8-41 8 23 9 34 12 50 8 51 6 64 7-70 8-59 12-61 9-43 8-31 8 34 10 45 11 60 9 53 6 58 6-65 8-62 12-71 9-54 8-40 8 21 10 32 11 46 9 47 6 44 6-51 9-56 11-57 10-41 7-28 8 32 10 42 11 56 9 50 6 44 6-51 9-59 11-67 10-51 8-39 8 20 9 29 11 43 9 43 6 130 6-136 9-53 11-54 10-38 8-27 3 12M2165 2425V3032M2166 2425V3032"/>
<path stroke="#4DBEEE" d="M2002 2394l3-1 8-3 12-8 9-7 8-7 8 16 10 26 11 37 9 36 6 40 6-32 9-33 11-44 9-38 8-32 8 18 10 26 11 41 9 40 6 62 6-65 9-45 11-47 10-32 7-23 8 30 10 39 11 52 9 45 6 43 6-46 9-50 11-58 10-45 8-34 8 18 9 27 11 41 9 41 6 38 6-41 9-46 11-47 10-32 8-23 8 30 9 40 12 53 8 48 6 62 7-64 8-51 12-60 9-47 8-36 8 21 10 30 11 46 9 47 6 67 6-69 9-51 11-52 9-37 8-26 8 34 10 45 11 60 9 55 6 48 6-50 9-58 11-67 10-52 7-39 8 24 10 35 11 53 9 53 6 69 6-71 9-57 11-59 10-41 8-31 8 38 9 50 11 67 9 61 6 69 6-72 9-67 11-76 10-58 8-44 8 25 9 36 12 53 8 54 6 52 7-58 8-63 12-64 9-45 8-32 8 36 10 48 11 63 9 58 6 56 6-62 9-66 11-75 9-57 8-44 8 25 10 35 11 52 9 53 6 51 6-58 9-61 11-63 10-44 7-32 8 36 10 47 11 62 9 57 6 53 6-59 9-65 11-74 10-56 8-43 8 24 9 34 11 51 9 52 6 50 6-57 9-60 11-62 10-43 8-31 8 34 9 47 12 61 8 56 6 88 7-94 8-64 12-73 9-55 8-43 8 24 10 33 11 50 9 51 6 66 6-73 9-59 11-61 9-42 8-31 8 34 10 46 11 61 9 55 6 68 6-74 9-63 11-72 10-55 7-42 8 23 10 33 11 50 9 50 6 57 6-63 9-58 11-60 10-43 8-30 8 34 9 47 11 61 9 55 6 61 6-66 9-63 11-72 10-55 8-41 8 23 9 34 12 50 8 51 6 76 7-82 8-58 12-61 9-42 8-31 8 35 10 46 11 62 9 55 6 54 6-59 9-64 11-71 9-55 8-42 8 24 10 34 11 50 9 51 6 65 6-71 9-58 11-61 10-42 7-31 8 35 10 46 11 62 9 55 6 53 6-58 9-64 11-71 10-55 8-42 8 23 9 34 11 51 9 51 6 52 6-58 9-60 11-61 10-43 8-30 8 34 9 45 12 59 8 53 6 55 7-62 8-62 12-71 9-54 8-40 8 21 10 32 11 46 9 47 6 58 6-65 9-56 11-58 9-40 8-29 8 32 10 43 11 56 9 50 6 52 6-59 9-59 11-67 10-52 7-39 8 20 10 29 11 43 9 43 6 56 6-63 9-52 11-55 10-37 8-27 3 13M2185 2434V3044M2186 2434V3044"/>
<path stroke="#77AC30" d="M2022 2446l2 7 6-7 9-9 11-20 10-21 7-19 8 6 10 13 11 29 9 33 6 47 6-39 9-30 11-35 10-27 8-22 8 30 9 39 11 51 9 46 6 61 6-65 9-50 11-57 10-45 8-34 8 18 9 27 12 41 8 41 6 44 7-47 8-46 12-47 9-32 8-23 8 30 9 39 12 52 9 46 6 67 6-70 8-51 12-58 9-45 8-34 8 18 10 28 11 43 9 44 6 56 6-58 9-47 11-49 10-35 7-25 8 32 10 43 11 58 9 51 6 60 6-62 9-55 11-64 10-49 8-38 8 23 9 33 11 49 9 50 6 68 6-70 9-53 11-56 10-40 8-28 8 36 9 48 12 63 8 58 6 62 7-64 8-61 12-70 9-55 8-41 8 26 9 38 12 56 9 56 6 56 6-60 8-63 12-64 9-46 8-33 8 37 10 48 11 64 9 58 6 59 6-65 9-67 11-75 10-57 7-44 8 25 10 36 11 52 9 53 6 51 6-57 9-62 11-63 10-45 8-32 8 36 9 47 11 63 9 57 6 59 6-65 9-65 11-74 10-57 8-43 8 24 9 35 12 51 8 52 6 56 7-62 8-61 12-62 9-44 8-31 8 35 9 47 12 62 9 56 6 64 6-71 8-64 12-73 9-56 8-43 8 24 10 34 11 50 9 51 6 63 6-69 9-59 11-62 10-43 7-31 8 35 10 46 11 61 9 55 6 49 6-55 9-64 11-72 10-55 8-42 8 23 9 33 11 50 9 50 6 60 6-66 9-58 11-61 10-43 8-30 8 34 9 46 12 61 8 55 6 51 7-57 8-63 12-71 9-55 8-42 8 24 9 34 12 50 9 50 6 52 6-57 8-58 12-61 9-42 8-31 8 35 10 46 11 62 9 55 6 67 6-72 9-63 11-72 10-55 7-42 8 24 10 34 11 50 9 51 6 48 6-53 9-59 11-60 10-43 8-31 8 35 9 47 11 61 9 56 6 56 6-62 9-63 11-72 10-55 8-42 8 24 9 34 12 51 8 51 6 96 7-102 8-58 12-61 9-43 8-30 8 34 9 47 12 62 9 56 6 77 6-84 8-64 12-72 9-56 8-42 8 23 10 32 11 49 9 48 6 46 6-53 9-58 11-59 10-42 7-29 8 33 10 43 11 58 9 51 6 64 6-71 9-60 11-69 10-53 8-40 8 21 9 30 11 44 9 45 6 42 6-49 9-54 11-56 10-39 8-27 8 30 9 41 12 54 8 48 6 44 7-51 8-57 12-65 9-50 6-30M2205 2509V3056M2206 2509V3056"/>
<path stroke="#7E2F8E" d="M2042 2413l2 0 9-4 11-6 10-8 7-7 8 17 10 25 11 37 9 36 6 36 6-28 9-32 11-44 10-39 8-32 7 18 10 27 11 41 9 40 6 39 6-42 9-45 11-47 10-32 8-23 8 30 9 39 12 52 8 46 6 43 7-47 8-50 12-58 9-45 8-34 8 18 9 28 12 41 8 41 7 41 6-45 8-45 12-48 9-32 8-23 8 30 10 40 11 54 9 48 6 49 6-51 9-52 11-60 10-47 7-35 8 20 10 31 11 46 9 46 6 55 6-57 9-50 11-52 10-37 8-26 7 33 10 45 11 61 9 54 6 91 6-93 9-58 11-66 10-52 8-40 8 25 9 35 12 53 8 53 6 58 7-60 8-57 12-59 9-42 8-30 8 38 9 50 12 67 8 61 7 63 6-66 8-67 12-76 9-58 8-44 8 25 10 36 11 53 9 54 6 65 6-71 9-62 11-64 10-46 7-32 8 36 10 48 11 64 9 58 6 56 6-63 9-66 11-74 10-58 8-43 7 24 10 36 11 52 9 52 6 51 6-57 9-61 11-63 10-44 8-32 8 35 9 48 12 62 8 57 6 51 7-57 8-66 12-73 9-56 8-43 8 24 9 34 12 51 8 51 7 64 6-70 8-60 12-62 9-43 8-31 8 35 10 46 11 62 9 55 6 58 6-64 9-64 11-73 10-55 7-42 8 23 10 33 11 50 9 51 6 71 6-77 9-59 11-61 10-43 8-31 7 35 10 46 11 60 9 55 6 53 6-59 9-63 11-72 10-55 8-42 8 23 9 34 12 50 8 50 6 77 7-83 8-58 12-60 9-43 8-30 8 34 9 47 12 61 8 56 7 63 6-69 8-63 12-71 9-55 8-42 8 24 10 34 11 50 9 51 6 51 6-56 9-59 11-61 10-42 7-31 8 35 10 47 11 61 9 56 6 51 6-56 9-64 11-71 10-55 8-42 7 23 10 35 11 50 9 51 6 92 6-97 9-59 11-61 10-42 8-31 8 35 9 47 12 62 8 55 6 55 7-60 8-63 12-72 9-56 8-42 8 24 9 34 12 51 8 52 7 59 6-65 8-60 12-62 9-43 8-31 8 34 10 46 11 59 9 54 6 48 6-55 9-63 11-71 10-54 7-42 8 22 10 32 11 46 9 47 6 57 6-64 9-56 11-58 10-41 8-28 7 31 10 43 11 56 9 49 6 43 6-50 9-59 11-67 10-51 8-39 8 19 9 29 12 43 8 43 6 47 7-54 8-53 12-54 9-38 8-26 4 16M2225 2450V3068M2226 2450V3068"/>
<path stroke="#EDB120" d="M2062 2415l12-4 9-4 8-6 8 15 9 23 12 35 9 33 6 41 6-33 8-30 12-41 9-36 8-31 8 17 10 28 11 41 9 41 6 54 6-57 9-46 11-47 10-32 7-23 8 30 10 39 11 52 9 46 6 40 6-43 9-51 11-58 10-45 8-34 7 19 10 27 11 41 9 41 6 42 6-45 9-46 11-47 10-33 8-23 8 30 9 40 12 53 8 48 6 49 7-51 8-51 12-60 9-46 8-36 8 20 9 31 12 45 9 46 6 54 6-55 8-50 12-52 9-37 8-26 8 33 10 46 11 60 9 54 6 61 6-63 9-58 11-66 10-52 7-39 8 24 10 35 11 52 9 53 6 54 6-56 9-56 11-59 10-41 8-30 7 37 10 50 11 66 9 61 6 62 6-64 9-64 11-76 10-58 8-44 8 25 9 36 12 54 8 53 6 52 7-58 8-62 12-64 9-45 8-33 8 36 9 48 12 64 9 58 6 53 6-59 8-67 12-74 9-58 8-43 8 25 10 35 11 52 9 53 6 63 6-70 9-61 11-63 10-44 7-32 8 36 10 47 11 63 9 56 6 56 6-62 9-65 11-74 10-56 8-43 7 24 10 34 11 51 9 52 6 60 6-66 9-60 11-62 10-44 8-31 8 35 9 46 12 62 8 56 6 62 7-69 8-64 12-72 9-56 8-42 8 23 9 34 12 50 9 50 6 73 6-79 8-59 12-61 9-42 8-31 8 34 10 46 11 61 9 55 6 51 6-57 9-63 11-72 10-55 7-42 8 23 10 34 11 49 9 51 6 69 6-75 9-59 11-60 10-42 8-31 7 35 10 46 11 62 9 55 6 97 6-102 9-63 11-72 10-55 8-41 8 23 9 34 12 51 8 51 6 54 7-59 8-59 12-61 9-42 8-31 8 35 9 47 12 62 9 55 6 56 6-61 8-63 12-72 9-55 8-42 8 24 10 34 11 51 9 51 6 54 6-59 9-59 11-61 10-43 7-30 8 35 10 46 11 62 9 57 6 52 6-58 9-63 11-72 10-56 8-42 7 24 10 34 11 52 9 51 6 88 6-93 9-59 11-63 10-43 8-31 8 34 9 45 12 60 8 54 6 50 7-57 8-63 12-72 9-54 8-41 8 21 9 32 12 47 9 47 6 51 6-58 8-57 12-58 9-41 8-29 8 32 10 43 11 56 9 50 6 53 6-60 9-60 11-67 10-52 7-39 8 20 10 28 11 43 9 44 6 44 6-52 9-52 11-55 10-38 8-26 7 30 8 29M2246 2418V3074M2247 2418V3074"/>
<path stroke="#D95319" d="M2083 2427l3 0 11-5 10-6 8-6 7 16 10 23 11 36 9 34 6 36 6-28 9-30 11-43 10-37 8-30 8 17 9 28 12 41 8 40 6 41 6-44 9-45 11-47 10-33 8-22 8 29 9 40 12 53 8 46 7 42 6-45 8-50 12-59 9-45 8-34 8 19 10 29 11 43 9 42 6 44 6-47 9-48 11-49 9-34 8-24 8 30 10 41 11 53 9 48 6 55 6-57 9-52 11-60 10-47 8-35 7 20 10 30 11 46 9 47 6 47 6-49 9-50 11-52 10-37 8-26 8 33 9 46 12 61 8 55 6 62 6-64 9-58 11-66 10-52 8-40 8 25 9 37 12 55 8 56 7 54 6-55 8-59 12-61 9-43 8-32 8 39 10 52 11 68 9 62 6 65 6-68 9-68 11-78 9-59 8-45 8 26 10 36 11 53 9 54 6 56 6-63 9-62 11-65 10-45 8-33 7 37 10 48 11 63 9 58 6 56 6-62 9-66 11-75 10-57 8-44 8 25 9 35 12 52 8 53 6 82 6-88 9-61 11-63 10-45 8-31 8 35 9 47 12 63 8 57 7 52 6-59 8-65 12-73 9-57 8-42 8 24 10 34 11 51 9 51 6 89 6-95 9-60 11-62 9-43 8-31 8 35 10 46 11 62 9 55 6 55 6-61 9-64 11-72 10-56 8-42 7 23 10 34 11 50 9 50 6 51 6-57 9-59 11-61 10-43 8-30 8 34 9 46 12 61 8 54 6 53 6-58 9-64 11-71 10-55 8-42 8 23 9 33 12 50 8 51 7 62 6-68 8-59 12-60 9-42 8-31 8 35 10 47 11 61 9 56 6 54 6-60 9-63 11-71 9-55 8-42 8 24 10 34 11 51 9 51 6 70 6-75 9-59 11-61 10-42 8-31 7 35 10 47 11 62 9 56 6 50 6-55 9-64 11-72 10-55 8-42 8 24 9 35 12 51 8 52 6 52 6-56 9-60 11-61 10-43 8-31 8 35 9 48 12 64 8 57 7 107 6-112 8-64 12-74 9-56 8-43 8 25 10 35 11 53 9 53 6 54 6-60 9-61 11-64 9-44 8-32 8 35 10 46 11 60 9 54 6 81 6-89 9-64 11-72 10-55 8-41 7 22 10 31 11 47 9 47 6 62 6-69 9-57 11-58 10-41 8-29 8 32 9 42 12 56 8 50 6 59 6-66 9-60 11-67 10-52 8-39 8 20 9 28 12 43 8 43 7 50 6-57 8-53 12-54 9-38 8-26 8 29 4 15M2266 2442V3070M2267 2442V3070"/>
<path stroke="#0072BD" d="M2103 2444l2 0 9-4 11-7 10-8 8-7 8 17 9 25 11 39 9 36 6 58 6-50 9-33 11-45 10-38 8-33 8 19 9 27 12 41 8 41 6 37 7-40 8-46 12-47 9-33 8-22 8 30 10 40 11 53 9 47 6 56 6-57 9-51 11-59 9-46 8-35 8 20 10 30 11 45 9 44 6 45 6-50 9-49 11-51 10-35 7-24 8 30 10 41 11 54 9 48 6 46 6-49 9-52 11-60 10-47 8-36 8 21 9 30 11 46 9 47 6 62 6-63 9-51 11-52 10-37 8-27 8 34 9 46 12 62 8 57 6 53 7-54 8-58 12-68 9-52 8-41 8 27 10 39 11 58 9 59 6 73 6-73 9-62 11-64 9-46 8-33 8 40 10 53 11 70 9 63 6 75 6-80 9-72 11-79 10-60 7-45 8 25 10 36 11 54 9 53 6 63 6-70 9-62 11-65 10-45 8-33 8 37 9 48 11 63 9 58 6 55 6-61 9-66 11-75 10-57 8-43 8 24 9 35 12 52 8 53 6 52 7-58 8-61 12-63 9-44 8-32 8 35 10 48 11 62 9 57 6 50 6-56 9-66 11-73 9-56 8-43 8 24 10 34 11 51 9 52 6 107 6-114 9-59 11-62 10-44 7-31 8 35 10 46 11 62 9 55 6 50 6-56 9-64 11-72 10-56 8-42 8 24 9 33 11 50 9 50 6 65 6-71 9-59 11-60 10-43 8-31 8 35 9 46 12 60 8 55 6 72 7-78 8-63 12-71 9-55 8-42 8 23 10 33 11 50 9 50 6 54 6-59 9-58 11-61 9-42 8-30 8 34 10 47 11 62 9 55 6 59 6-64 9-63 11-72 10-54 7-42 8 23 10 35 11 51 9 51 6 104 6-109 9-59 11-61 10-42 8-31 8 35 9 47 11 62 9 57 6 123 6-128 9-64 11-72 10-55 8-43 8 25 9 35 12 52 8 53 6 58 7-62 8-60 12-62 9-44 8-31 8 36 10 49 11 65 9 60 6 56 6-61 9-66 11-75 9-58 8-43 8 25 10 37 11 54 9 54 6 62 6-68 9-64 11-65 10-45 7-32 8 35 10 46 11 60 9 54 6 56 6-64 9-64 11-73 10-55 8-41 8 21 9 32 11 47 9 47 6 50 6-58 9-57 11-58 10-41 8-29 8 32 9 42 12 56 8 49 6 45 7-52 8-59 12-67 9-52 8-39 8 20 10 28 11 42 9 43 6 58 6-65 9-53 11-54 9-37 8-27 4 13M2286 2486V3066M2287 2486V3066"/>
<path stroke="#A2142F" d="M2123 2450l6-2 12-6 9-6 8-6 8 15 10 25 11 37 9 35 6 33 6-24 9-32 11-44 9-38 8-31 8 18 10 27 11 42 9 41 6 56 6-60 9-45 11-48 10-32 8-23 7 30 10 41 11 53 9 48 6 47 6-48 9-50 11-59 10-47 8-35 8 21 9 31 11 47 9 45 6 72 6-76 9-52 11-53 10-36 8-25 8 31 9 41 12 54 8 47 7 77 6-80 8-52 12-60 9-47 8-36 8 20 10 31 11 46 9 47 6 61 6-63 9-50 11-53 9-36 8-27 8 34 10 47 11 62 9 56 6 72 6-71 9-59 11-67 10-53 8-41 7 28 10 40 11 61 9 61 6 65 6-64 9-63 11-66 10-48 8-34 8 41 9 55 11 72 9 64 6 64 6-69 9-74 11-82 10-61 8-46 8 25 9 37 12 53 8 54 7 61 6-68 8-64 12-64 9-46 8-32 8 36 10 48 11 64 9 57 6 64 6-70 9-66 11-75 9-57 8-43 8 24 10 36 11 52 9 52 6 55 6-61 9-61 11-63 10-44 8-32 7 36 10 47 11 63 9 56 6 54 6-60 9-65 11-73 10-57 8-43 8 24 9 35 11 51 9 51 6 49 6-55 9-60 11-62 10-43 8-31 8 35 9 46 12 62 8 55 7 51 6-57 8-64 12-72 9-56 8-42 8 23 10 34 11 50 9 50 6 57 6-63 9-59 11-61 9-42 8-31 8 34 10 46 11 61 9 55 6 49 6-55 9-63 11-72 10-55 8-42 7 24 10 33 11 50 9 50 6 96 6-101 9-59 11-60 10-42 8-31 8 35 9 47 11 62 9 55 6 79 6-84 9-63 11-71 10-55 8-42 8 24 9 34 12 51 8 51 7 55 6-60 8-59 12-60 9-43 8-31 8 35 10 48 11 62 9 57 6 64 6-69 9-64 11-72 9-55 8-43 8 25 10 35 11 53 9 54 6 87 6-91 9-60 11-62 10-45 8-32 7 38 10 50 11 66 9 61 6 63 6-67 9-68 11-76 10-58 8-45 8 27 9 38 11 55 9 55 6 61 6-67 9-64 11-67 10-47 8-33 8 35 9 47 12 61 8 55 7 83 6-91 8-66 12-73 9-56 8-42 8 22 10 32 11 47 9 47 6 68 6-76 9-57 11-59 9-41 8-29 8 32 10 42 11 56 9 49 6 91 6-98 9-59 11-68 10-51 8-39 7 19 10 28 11 43 9 42 6 63 6-70 9-52 11-55 10-37 8-27 8 30 0 1M2306 2476V3062M2307 2476V3062"/>
<path stroke="#4DBEEE" d="M2143 2455l10-3 10-5 8-5 7 14 10 23 11 35 9 33 6 35 6-26 9-30 11-41 10-37 8-30 8 17 9 29 12 41 8 41 6 49 6-52 9-46 12-47 9-33 8-22 8 30 9 40 12 54 8 48 7 42 6-43 8-50 12-59 9-47 8-35 8 22 10 32 11 49 9 48 6 59 6-63 9-54 11-55 10-37 7-26 8 31 10 41 11 54 9 47 6 42 6-46 9-52 11-61 10-47 8-36 7 21 10 30 11 46 9 47 6 49 6-51 9-50 11-52 10-37 8-26 8 34 9 46 12 62 8 57 6 61 6-61 9-58 12-67 9-53 8-41 8 28 9 42 12 62 8 64 7 77 6-75 8-64 12-67 9-49 8-36 8 43 10 57 11 74 9 66 6 63 6-69 9-75 11-84 10-63 7-48 8 27 10 37 11 53 9 54 6 56 6-64 9-64 11-65 10-46 8-33 7 37 10 48 11 64 9 57 6 60 6-66 9-66 11-75 10-57 8-43 8 24 9 36 12 52 8 52 6 52 6-58 9-61 12-63 9-44 8-32 8 35 9 48 12 62 8 57 7 72 6-78 8-65 12-74 9-56 8-43 8 24 10 35 11 51 9 51 6 50 6-56 9-60 11-62 10-43 7-31 8 35 10 46 11 62 9 55 6 54 6-60 9-64 11-72 10-56 8-42 7 23 10 34 11 50 9 50 6 76 6-82 9-59 11-60 10-43 8-31 8 35 9 45 12 61 8 55 6 54 6-60 9-63 12-71 9-55 8-42 8 23 9 33 12 50 8 51 7 58 6-64 8-59 12-60 9-42 8-31 8 35 10 47 11 62 9 55 6 50 6-55 9-63 11-71 10-55 7-42 8 24 10 34 11 51 9 52 6 74 6-79 9-59 11-61 10-42 8-31 7 35 10 47 11 63 9 57 6 60 6-65 9-64 11-72 10-56 8-42 8 25 9 36 12 53 8 54 6 54 6-57 9-61 12-62 9-45 8-32 8 38 9 51 12 67 8 62 7 59 6-62 8-69 12-77 9-59 8-45 8 27 10 39 11 57 9 57 6 70 6-76 9-65 11-69 10-48 7-34 8 36 10 48 11 62 9 56 6 49 6-58 9-67 11-75 10-56 8-43 7 22 10 32 11 48 9 47 6 52 6-60 9-58 11-59 10-41 8-29 8 32 9 42 12 56 8 49 6 65 6-72 9-60 12-67 9-52 8-39 8 19 9 28 12 43 8 43 7 76 6-84 8-52 12-55 9-37 8-27 8 29 8 33M2326 2456V3058M2327 2456V3058"/>
<path stroke="#77AC30" d="M2163 2465l10-3 10-5 7-5 8 15 10 23 11 34 9 34 6 52 6-44 9-30 11-41 10-36 8-31 8 18 9 28 11 41 9 42 6 41 6-44 9-46 11-48 10-32 8-23 8 30 9 41 12 54 8 48 6 44 7-44 8-50 12-59 9-47 8-36 8 23 10 34 11 50 9 50 6 46 6-51 9-55 11-56 9-39 8-27 8 32 10 41 11 53 9 48 6 42 6-46 9-53 11-61 10-47 7-36 8 20 10 31 11 46 9 46 6 66 6-67 9-50 11-52 10-37 8-26 8 34 9 46 11 62 9 58 6 74 6-73 9-58 11-67 10-53 8-42 8 29 9 43 12 65 8 67 6 82 7-79 8-66 12-69 9-51 8-38 8 45 10 58 11 76 9 68 6 71 6-79 9-76 11-87 9-65 8-48 8 27 10 37 11 54 9 54 6 61 6-70 9-64 11-66 10-46 7-32 8 36 10 48 11 64 9 57 6 57 6-63 9-66 11-75 10-57 8-43 8 24 9 36 11 52 9 52 6 70 6-76 9-61 11-63 10-44 8-32 8 36 9 47 12 63 8 56 6 56 7-62 8-65 12-73 9-57 8-42 8 24 10 34 11 51 9 51 6 53 6-59 9-60 11-61 9-44 8-31 8 35 10 47 11 61 9 55 6 82 6-88 9-64 11-72 10-55 7-42 8 23 10 33 11 50 9 51 6 61 6-67 9-59 11-61 10-43 8-30 8 34 9 46 11 61 9 54 6 60 6-65 9-63 11-72 10-55 8-42 8 23 9 34 12 50 8 50 6 50 7-55 8-59 12-60 9-42 8-31 8 35 10 47 11 62 9 56 6 75 6-81 9-63 11-71 9-55 8-42 8 24 10 35 11 51 9 51 6 81 6-86 9-59 11-60 10-43 7-31 8 36 10 47 11 63 9 57 6 77 6-82 9-64 11-72 10-56 8-42 8 25 9 36 11 54 9 55 6 97 6-100 9-61 11-63 10-45 8-32 8 38 9 52 12 69 8 64 6 58 7-62 8-69 12-78 9-61 8-46 8 28 10 41 11 58 9 59 6 95 6-102 9-67 11-70 9-49 8-35 8 37 10 48 11 63 9 56 6 60 6-70 9-68 11-75 10-57 7-43 8 23 10 32 11 47 9 47 6 47 6-55 9-58 11-59 10-42 8-29 8 32 9 43 11 55 9 50 6 55 6-63 9-59 11-68 10-52 8-39 8 19 9 29 12 42 8 42 6 64 7-71 8-53 12-54 9-38 8-26 8 29 8 34M2346 2466V3053M2347 2466V3053"/>
<path stroke="#7E2F8E" d="M2183 2476l4-1 11-5 10-6 8-5 8 15 9 24 11 36 9 35 6 55 6-47 9-32 11-42 10-38 8-30 8 17 9 27 12 42 8 42 7 52 6-56 8-46 12-48 9-32 8-22 8 30 10 40 11 55 9 50 6 45 6-44 9-51 11-60 9-46 8-36 8 22 10 35 11 51 9 52 6 57 6-63 9-58 11-58 10-38 8-26 7 30 10 41 11 53 9 48 6 67 6-71 9-54 11-61 10-46 8-35 8 20 9 29 11 46 9 48 6 50 6-52 9-51 11-52 10-36 8-25 8 33 9 46 12 63 8 60 7 56 6-54 8-59 12-68 9-53 8-41 8 29 10 44 11 68 9 71 6 81 6-78 9-70 11-72 9-52 8-38 8 44 10 59 11 76 9 70 6 107 6-116 9-81 11-87 10-65 8-47 7 26 10 36 11 53 9 55 6 81 6-90 9-65 11-65 10-45 8-31 8 35 9 47 11 63 9 59 6 69 6-76 9-67 11-74 10-56 8-42 8 23 9 34 12 52 8 53 7 72 6-78 8-62 12-62 9-44 8-31 8 35 10 46 11 62 9 58 6 56 6-63 9-66 11-73 9-55 8-42 8 23 10 33 11 51 9 52 6 61 6-67 9-61 11-62 10-42 8-30 7 33 10 46 11 61 9 56 6 51 6-58 9-64 11-72 10-55 8-41 8 22 9 33 11 49 9 51 6 62 6-69 9-59 11-61 10-41 8-30 8 33 9 45 12 60 8 56 7 73 6-79 8-64 12-71 9-54 8-41 8 22 10 33 11 49 9 52 6 72 6-78 9-59 11-60 9-42 8-29 8 34 10 46 11 61 9 57 6 73 6-78 9-64 11-71 10-55 8-40 7 22 10 34 11 51 9 52 6 57 6-62 9-60 11-60 10-42 8-30 8 35 9 46 11 63 9 58 6 57 6-62 9-64 11-72 10-55 8-42 8 24 9 36 12 55 8 56 7 57 6-59 8-62 12-64 9-44 8-33 8 38 10 52 11 71 9 66 6 103 6-107 9-71 11-80 9-60 8-46 8 28 10 40 11 59 9 60 6 61 6-67 9-70 11-71 10-49 8-34 7 36 10 47 11 62 9 57 6 109 6-119 9-68 11-76 10-56 8-42 8 21 9 31 11 47 9 48 6 47 6-55 9-58 11-60 10-40 8-28 8 30 9 42 12 55 8 50 7 52 6-59 8-60 12-68 9-51 8-38 8 18 10 28 11 42 9 43 6 44 6-52 9-53 11-54 9-36 8-26 8 29 3 12M2366 2492V3045M2367 2492V3045"/>
<path stroke="#EDB120" d="M2203 2478l4-1 10-3 7-4 8 13 10 21 11 33 9 32 6 31 6-22 9-30 11-39 10-35 8-28 8 15 9 26 11 43 9 43 6 39 6-42 9-48 11-47 10-32 8-21 8 29 9 39 12 54 8 50 6 70 7-69 8-52 12-59 9-45 8-35 8 22 10 34 11 54 9 55 6 96 6-99 9-60 11-60 9-39 8-27 8 31 10 40 11 53 9 49 6 46 6-52 9-55 11-62 10-45 7-35 8 19 10 29 11 45 9 48 6 45 6-47 9-51 11-52 10-35 8-24 8 32 9 44 11 62 9 60 6 66 6-65 9-59 11-67 10-51 8-40 8 28 9 43 12 68 8 72 6 84 7-78 8-70 12-72 9-51 8-37 8 44 10 60 11 79 9 74 6 91 6-100 9-84 11-89 9-65 8-48 8 25 10 36 11 54 9 56 6 62 6-72 9-67 11-66 10-44 7-31 8 34 10 47 11 63 9 59 6 66 6-73 9-68 11-74 10-55 8-41 8 22 9 33 11 51 9 54 6 54 6-60 9-63 11-62 10-43 8-29 8 33 9 45 12 62 8 58 6 56 7-62 8-67 12-73 9-54 8-41 8 21 10 33 11 50 9 53 6 52 6-59 9-61 11-62 9-42 8-29 8 33 10 44 11 61 9 56 6 60 6-66 9-66 11-72 10-54 7-40 8 21 10 32 11 49 9 51 6 57 6-63 9-60 11-61 10-41 8-29 8 32 9 44 11 60 9 56 6 68 6-74 9-64 11-71 10-53 8-40 8 21 9 32 12 49 8 52 6 70 7-76 8-60 12-60 9-41 8-28 8 33 10 45 11 61 9 57 6 71 6-76 9-65 11-71 9-53 8-40 8 22 10 32 11 51 9 53 6 80 6-85 9-61 11-60 10-41 7-29 8 34 10 45 11 63 9 58 6 78 6-82 9-66 11-72 10-54 8-40 8 23 9 35 11 54 9 57 6 130 6-132 9-63 11-63 10-44 8-31 8 37 9 51 12 71 8 68 6 70 7-73 8-73 12-79 9-60 8-45 8 27 10 40 11 61 9 63 6 99 6-106 9-71 11-72 9-49 8-34 8 35 10 48 11 64 9 59 6 76 6-87 9-71 11-77 10-57 7-41 8 21 10 30 11 48 9 49 6 53 6-62 9-60 11-60 10-40 8-27 8 30 9 41 11 55 9 51 6 68 6-75 9-62 11-67 10-51 8-37 8 17 9 27 12 42 8 44 6 46 7-54 8-53 12-54 9-36 8-25 8 28 10 38 4 21M2386 2459V3037M2387 2459V3037"/>
<path stroke="#D95319" d="M2223 2484l4-1 8-2 7 12 10 18 11 30 9 30 6 26 6-18 9-27 11-37 10-32 8-26 8 13 9 24 12 43 8 46 6 44 6-47 9-49 12-47 9-31 8-20 8 27 9 39 12 53 8 50 7 48 6-48 8-53 12-58 9-44 8-33 8 21 10 34 11 54 9 59 6 83 6-84 9-61 11-60 10-41 7-26 8 30 10 41 11 54 9 49 6 77 6-84 9-58 11-62 10-46 8-33 7 17 10 28 11 45 9 48 6 45 6-47 9-52 11-51 10-34 8-23 8 30 9 44 12 61 8 58 6 80 6-78 9-60 12-66 9-49 8-38 8 26 9 41 12 67 8 74 7 131 6-124 8-70 12-70 9-50 8-36 8 45 10 60 11 82 9 79 6 103 6-112 9-88 11-91 10-66 7-48 8 26 10 36 11 54 9 57 6 117 6-128 9-70 11-67 10-43 8-30 7 33 10 45 11 63 9 60 6 86 6-92 9-69 11-74 10-55 8-40 8 21 9 32 12 51 8 55 6 56 6-62 9-64 12-62 9-42 8-29 8 32 9 45 12 61 8 59 7 56 6-62 8-68 12-73 9-53 8-40 8 20 10 32 11 50 9 53 6 69 6-75 9-63 11-61 10-41 7-28 8 31 10 43 11 60 9 58 6 72 6-79 9-66 11-72 10-53 8-39 7 19 10 31 11 48 9 53 6 56 6-63 9-61 11-61 10-40 8-28 8 31 9 43 12 59 8 56 6 70 6-75 9-65 12-71 9-52 8-39 8 20 9 31 12 49 8 52 7 61 6-67 8-61 12-59 9-40 8-27 8 31 10 44 11 61 9 58 6 56 6-61 9-66 11-71 10-52 7-39 8 21 10 31 11 51 9 53 6 68 6-73 9-61 11-60 10-40 8-28 7 32 10 45 11 62 9 59 6 73 6-78 9-66 11-71 10-53 8-40 8 22 9 34 12 54 8 58 6 83 6-86 9-63 12-63 9-43 8-29 8 35 9 51 12 71 8 69 7 100 6-102 8-74 12-79 9-60 8-44 8 27 10 40 11 62 9 65 6 76 6-82 9-74 11-72 10-49 7-34 8 36 10 47 11 65 9 62 6 124 6-135 9-75 11-78 10-56 8-42 7 21 10 30 11 47 9 51 6 93 6-102 9-62 11-60 10-40 8-27 8 30 9 40 12 55 8 53 6 97 6-105 9-63 12-67 9-50 8-37 8 17 9 26 12 42 8 45 7 69 6-77 8-55 12-54 9-35 8-24 8 27 10 37 11 51 4 19M2406 2439V3030M2407 2439V3030"/>
<path stroke="#0072BD" d="M2243 2495l5-1 10-4 7-3 8 12 10 21 11 33 9 33 6 37 6-29 9-31 11-40 10-34 8-27 7 13 10 26 11 42 9 44 6 50 6-53 9-49 11-47 10-31 8-19 8 26 9 39 12 54 8 53 6 58 6-57 9-54 12-59 9-44 8-33 8 21 9 35 12 56 8 60 7 75 6-78 8-65 12-62 9-41 8-25 8 29 10 39 11 53 9 50 6 50 6-56 9-58 11-62 10-45 7-32 8 17 10 27 11 45 9 49 6 57 6-59 9-53 11-51 10-33 8-23 7 31 10 43 11 62 9 62 6 70 6-68 9-61 11-67 10-50 8-37 8 26 9 44 12 71 8 79 6 137 6-130 9-76 12-74 9-52 8-36 8 44 9 60 12 81 8 79 7 105 6-116 8-91 12-91 9-66 8-46 8 23 10 35 11 53 9 58 6 109 6-120 9-69 11-66 10-42 7-29 8 32 10 45 11 62 9 61 6 67 6-74 9-70 11-73 10-54 8-39 7 20 10 31 11 51 9 55 6 60 6-67 9-64 11-62 10-41 8-27 8 31 9 43 12 61 8 59 6 57 6-63 9-68 12-73 9-53 8-38 8 19 9 31 12 49 8 54 7 57 6-64 8-63 12-61 9-41 8-27 8 30 10 43 11 59 9 58 6 75 6-82 9-67 11-72 10-52 7-38 8 18 10 30 11 48 9 53 6 53 6-60 9-62 11-60 10-40 8-26 7 29 10 42 11 59 9 57 6 83 6-89 9-65 11-71 10-51 8-38 8 19 9 30 12 48 8 54 6 76 6-82 9-62 12-59 9-39 8-26 8 30 9 43 12 61 8 59 7 66 6-72 8-66 12-71 9-51 8-38 8 20 10 30 11 50 9 55 6 62 6-67 9-62 11-60 10-40 7-26 8 31 10 44 11 62 9 60 6 89 6-93 9-68 11-71 10-52 8-39 7 21 10 34 11 54 9 61 6 89 6-92 9-65 11-63 10-42 8-30 8 36 9 50 12 73 8 72 6 74 6-76 9-77 12-81 9-60 8-44 8 27 9 40 12 62 8 67 7 111 6-118 8-76 12-73 9-49 8-33 8 33 10 47 11 64 9 62 6 71 6-83 9-74 11-78 10-55 7-40 8 19 10 29 11 47 9 51 6 54 6-63 9-62 11-60 10-39 8-25 7 28 10 39 11 55 9 52 6 108 6-115 9-63 11-67 10-49 8-35 8 15 9 25 12 41 8 45 6 76 6-83 9-55 12-53 9-34 8-23 8 26 9 36 5 18M2427 2474V3022M2428 2474V3022"/>
<path stroke="#A2142F" d="M2264 2501l7-2 7-2 8 11 10 19 11 31 9 31 6 72 6-64 9-29 11-38 10-33 8-25 7 12 10 23 11 45 9 44 6 45 6-48 9-50 11-47 10-30 8-19 8 26 9 38 12 53 8 53 6 49 6-48 9-54 12-59 9-43 8-32 8 20 9 35 12 57 8 63 7 73 6-74 8-66 12-63 9-41 8-26 8 29 10 39 11 54 9 51 6 50 6-58 9-60 11-63 10-44 7-31 8 15 10 26 11 45 9 49 6 56 6-57 9-54 11-51 10-32 8-22 7 29 10 42 11 62 9 61 6 103 6-100 9-62 11-66 10-49 8-36 8 26 9 42 12 70 8 80 6 127 6-118 9-76 12-73 9-50 8-36 8 44 9 61 12 83 8 84 7 157 6-168 8-95 12-93 9-66 8-47 8 24 10 34 11 53 9 60 6 92 6-104 9-72 11-66 10-42 7-27 8 30 10 44 11 62 9 62 6 80 6-87 9-71 11-73 10-53 8-38 7 19 10 30 11 50 9 56 6 78 6-85 9-65 11-61 10-40 8-27 8 30 9 42 12 61 8 60 6 68 6-75 9-69 12-72 9-52 8-37 8 18 9 29 12 49 8 55 7 74 6-81 8-64 12-61 9-40 8-26 8 29 10 41 11 59 9 59 6 116 6-123 9-68 11-72 10-51 7-37 8 17 10 28 11 48 9 53 6 63 6-69 9-63 11-60 10-39 8-26 7 29 10 40 11 58 9 58 6 88 6-93 9-67 11-70 10-50 8-37 8 18 9 29 12 48 8 54 6 63 6-69 9-62 12-60 9-38 8-25 8 29 9 42 12 61 8 59 7 58 6-63 8-67 12-71 9-50 8-37 8 18 10 30 11 50 9 55 6 82 6-87 9-63 11-60 10-38 7-26 8 30 10 43 11 62 9 61 6 67 6-72 9-68 11-71 10-51 8-38 7 20 10 33 11 54 9 61 6 89 6-91 9-66 11-63 10-41 8-29 8 35 9 50 12 72 8 74 6 148 6-149 9-79 12-81 9-59 8-43 8 26 9 40 12 63 8 70 7 84 6-91 8-79 12-73 9-49 8-33 8 34 10 46 11 65 9 64 6 100 6-112 9-77 11-79 10-55 7-39 8 18 10 28 11 47 9 53 6 100 6-110 9-63 11-60 10-38 8-25 7 27 10 39 11 55 9 53 6 71 6-79 9-64 11-67 10-48 8-35 8 15 9 24 12 42 8 45 6 50 6-57 9-56 12-53 9-34 8-21 8 25 9 35 12 51 0 0M2447 2462V3014M2448 2462V3014"/>
<path stroke="#4DBEEE" d="M2284 2509l1 0 8 9 9 16 12 27 9 27 6 46 6-38 8-25 12-34 9-30 8-23 8 9 10 21 11 40 9 49 6 52 6-51 9-50 11-48 10-29 7-18 8 25 10 36 11 53 9 52 6 60 6-61 9-54 11-58 10-42 8-31 7 19 10 33 11 57 9 65 6 75 6-71 9-66 11-62 10-40 8-26 8 29 9 41 12 56 8 52 6 65 7-76 8-64 12-64 9-45 8-31 8 15 9 25 12 44 9 49 6 95 6-97 8-54 12-50 9-32 8-20 8 28 10 40 11 60 9 60 6 61 6-59 9-62 11-65 10-46 7-35 8 23 10 39 11 68 9 79 6 99 6-88 9-74 11-70 10-47 8-34 7 44 10 61 11 88 9 89 6 132 6-140 9-99 11-97 10-66 8-46 8 23 9 35 12 56 8 61 6 80 7-94 8-76 12-68 9-42 8-27 8 30 9 43 12 62 9 62 6 86 6-93 8-71 12-74 9-52 8-37 8 18 10 29 11 50 9 57 6 62 6-69 9-66 11-61 10-39 7-26 8 29 10 41 11 60 9 61 6 81 6-87 9-70 11-73 10-51 8-36 7 17 10 28 11 49 9 56 6 67 6-74 9-65 11-61 10-39 8-25 8 27 9 41 12 59 8 59 6 173 7-180 8-69 12-72 9-51 8-36 8 16 9 28 12 47 9 54 6 61 6-68 8-64 12-60 9-38 8-24 8 27 10 39 11 58 9 58 6 71 6-77 9-67 11-70 10-50 7-35 8 16 10 28 11 48 9 55 6 69 6-75 9-63 11-59 10-37 8-25 7 28 10 42 11 59 9 60 6 123 6-128 9-68 11-70 10-50 8-35 8 17 9 29 12 49 8 56 6 92 7-97 8-64 12-59 9-38 8-24 8 28 9 42 12 61 9 62 6 69 6-74 8-69 12-71 9-50 8-36 8 19 10 31 11 53 9 61 6 260 6-262 9-66 11-63 10-40 7-26 8 33 10 48 11 72 9 75 6 106 6-107 9-79 11-80 10-58 8-41 7 25 10 39 11 64 9 73 6 118 6-124 9-81 11-74 10-48 8-32 8 34 9 47 12 66 8 67 6 117 7-129 8-81 12-80 9-56 8-39 8 17 9 29 12 47 9 54 6 79 6-89 8-65 12-61 9-38 8-24 8 26 10 38 11 55 9 55 6 52 6-61 9-64 11-68 10-48 7-33 8 13 10 24 11 42 9 46 6 57 6-64 9-57 11-54 10-33 8-21 7 24 10 36 11 50 9 50 5 33M2467 2482V3007M2468 2482V3007"/>
<path stroke="#77AC30" d="M2304 2517l4 0 8 9 10 17 11 27 9 29 6 44 6-36 9-27 11-36 10-30 8-23 7 9 10 21 11 41 9 50 6 57 6-59 9-51 11-47 10-29 8-17 8 24 9 36 12 53 8 53 6 51 6-51 9-56 12-58 9-41 8-30 8 19 9 33 12 59 8 68 7 116 6-113 8-69 12-64 9-41 8-25 8 28 10 40 11 55 9 53 6 69 6-80 9-64 11-65 10-43 7-30 8 13 10 25 11 44 9 50 6 79 6-81 9-55 11-50 10-31 8-19 7 26 10 40 11 60 9 62 6 82 6-80 9-63 11-64 10-47 8-33 8 22 9 40 12 69 8 84 6 200 6-189 9-77 12-72 9-48 8-33 8 43 9 61 12 88 8 92 7 151 6-161 8-102 12-97 9-66 8-46 8 22 10 34 11 54 9 63 6 113 6-127 9-77 11-68 10-41 7-25 8 29 10 42 11 61 9 64 6 76 6-83 9-73 11-73 10-51 8-36 7 17 10 28 11 49 9 58 6 66 6-73 9-67 11-61 10-38 8-25 8 28 9 40 12 60 8 61 6 69 6-75 9-71 12-72 9-50 8-36 8 16 9 28 12 48 8 56 7 62 6-69 8-66 12-61 9-38 8-24 8 27 10 39 11 58 9 60 6 63 6-70 9-70 11-71 10-50 7-35 8 14 10 27 11 47 9 54 6 60 6-67 9-65 11-59 10-37 8-24 7 26 10 38 11 58 9 58 6 62 6-68 9-68 11-69 10-49 8-34 8 15 9 27 12 48 8 55 6 59 6-65 9-64 12-58 9-37 8-23 8 27 9 40 12 60 8 61 7 61 6-67 8-68 12-70 9-49 8-35 8 16 10 28 11 49 9 57 6 67 6-72 9-65 11-59 10-37 7-24 8 28 10 41 11 61 9 62 6 66 6-70 9-70 11-70 10-50 8-35 7 18 10 30 11 54 9 62 6 87 6-89 9-68 11-62 10-39 8-26 8 32 9 49 12 72 8 77 6 102 6-102 9-81 12-81 9-58 8-41 8 25 9 39 12 64 8 75 7 91 6-97 8-83 12-75 9-48 8-31 8 32 10 46 11 67 9 68 6 111 6-123 9-83 11-80 10-55 7-38 8 16 10 27 11 48 9 54 6 109 6-119 9-66 11-61 10-37 8-23 7 25 10 37 11 55 9 55 6 65 6-73 9-65 11-67 10-47 8-33 8 12 9 23 12 42 8 47 6 53 6-61 9-58 12-53 9-32 8-20 8 24 9 34 12 51 8 50 2 10M2487 2479V3002M2488 2479V3002"/>
<path stroke="#7E2F8E" d="M2324 2526l2 0 8 9 10 15 11 27 9 28 6 25 6-17 9-26 11-36 10-29 7-22 8 8 10 19 11 41 9 50 6 65 6-65 9-52 11-47 10-28 8-17 7 24 10 35 11 53 9 53 6 61 6-61 9-56 11-58 10-41 8-28 8 17 9 33 12 59 8 71 6 85 7-82 8-70 12-64 9-40 8-26 8 29 9 39 12 56 9 55 6 128 6-141 8-67 12-65 9-43 8-29 8 12 10 24 11 44 9 51 6 76 6-79 9-55 11-50 10-30 7-18 8 25 10 39 11 60 9 62 6 118 6-116 9-63 11-65 10-45 8-32 7 21 10 39 11 70 9 85 6 117 6-105 9-79 11-71 10-47 8-33 8 43 9 61 12 89 8 96 6 174 7-184 8-106 12-98 9-66 8-45 8 21 9 33 12 55 9 64 6 186 6-200 8-79 12-68 9-41 8-24 8 27 10 41 11 62 9 64 6 81 6-88 9-73 11-73 10-50 7-35 8 15 10 27 11 49 9 58 6 95 6-101 9-68 11-61 10-37 8-24 7 26 10 40 11 59 9 62 6 89 6-95 9-72 11-71 10-50 8-34 8 14 9 27 12 48 8 57 6 71 7-78 8-67 12-61 9-37 8-23 8 25 9 38 12 58 9 61 6 63 6-71 8-70 12-71 9-50 8-34 8 14 10 25 11 47 9 55 6 68 6-76 9-65 11-60 10-36 7-23 8 25 10 37 11 57 9 59 6 109 6-115 9-68 11-70 10-47 8-34 7 15 10 26 11 47 9 56 6 64 6-70 9-64 11-59 10-36 8-22 8 26 9 39 12 60 8 61 6 76 7-81 8-70 12-70 9-48 8-33 8 15 9 27 12 49 9 57 6 81 6-86 8-66 12-59 9-36 8-22 8 26 10 40 11 61 9 63 6 103 6-107 9-71 11-70 10-49 7-34 8 17 10 29 11 54 9 63 6 75 6-77 9-68 11-62 10-39 8-25 7 32 10 47 11 73 9 79 6 93 6-94 9-82 11-81 10-57 8-40 8 23 9 39 12 65 8 78 6 100 7-106 8-86 12-76 9-47 8-30 8 32 9 45 12 67 9 70 6 78 6-91 8-84 12-81 9-55 8-37 8 15 10 27 11 47 9 56 6 66 6-76 9-68 11-61 10-36 7-22 8 24 10 36 11 55 9 56 6 70 6-79 9-66 11-67 10-46 8-32 7 12 10 22 11 41 9 48 6 52 6-60 9-58 11-54 10-31 8-19 8 23 9 34 12 50 8 51 4 27M2507 2494V2997M2508 2494V2997"/>
<path stroke="#EDB120" d="M2344 2544l0 1 10 13 11 24 9 25 6 25 6-17 9-24 11-32 10-27 8-21 8 6 9 18 12 37 8 48 6 74 6-67 9-51 12-48 9-27 8-16 8 22 9 35 12 52 8 54 7 58 6-60 8-56 12-58 9-40 8-27 8 15 10 31 11 58 9 71 6 267 6-260 9-69 11-62 10-39 7-25 8 29 10 41 11 58 9 59 6 118 6-134 9-71 11-68 10-43 8-29 7 11 10 23 11 43 9 51 6 78 6-81 9-55 11-50 10-29 8-17 8 24 9 38 12 58 8 62 6 103 6-102 9-63 12-64 9-44 8-31 8 20 9 36 12 67 8 84 7 121 6-109 8-77 12-68 9-44 8-30 8 41 10 62 11 91 9 101 6 273 6-280 9-109 11-100 10-67 7-45 8 23 10 34 11 56 9 68 6 82 6-99 9-84 11-70 10-41 8-24 7 27 10 40 11 62 9 65 6 71 6-78 9-74 11-73 10-49 8-34 8 14 9 26 12 49 8 58 6 69 6-75 9-69 12-61 9-36 8-22 8 25 9 38 12 59 8 63 7 73 6-80 8-72 12-72 9-48 8-34 8 14 10 25 11 48 9 58 6 84 6-91 9-68 11-60 10-37 7-22 8 24 10 37 11 58 9 61 6 86 6-94 9-71 11-71 10-49 8-33 7 13 10 24 11 46 9 56 6 69 6-77 9-66 11-60 10-35 8-22 8 24 9 36 12 57 8 59 6 82 6-89 9-69 12-69 9-47 8-32 8 13 9 25 12 47 8 56 7 77 6-83 8-65 12-58 9-35 8-21 8 25 10 38 11 59 9 62 6 94 6-100 9-70 11-69 10-47 7-33 8 14 10 26 11 48 9 59 6 78 6-84 9-66 11-59 10-35 8-21 7 25 10 39 11 60 9 64 6 66 6-71 9-71 11-70 10-48 8-33 8 15 9 29 12 53 8 64 6 85 6-88 9-69 12-61 9-38 8-23 8 30 9 46 12 72 8 80 7 99 6-99 8-83 12-80 9-56 8-38 8 22 10 38 11 66 9 80 6 131 6-136 9-88 11-76 10-46 7-30 8 32 10 46 11 68 9 74 6 111 6-124 9-88 11-83 10-55 8-37 7 15 10 26 11 48 9 57 6 94 6-104 9-70 11-62 10-36 8-21 8 23 9 36 12 54 8 57 6 127 6-135 9-68 12-67 9-46 8-31 8 11 9 22 12 41 8 49 7 53 6-61 8-59 12-54 9-31 8-19 8 22 10 34 11 50 9 52 6 64 6-71 1-11M2527 2537V2992M2528 2537V2992"/>
<path stroke="#D95319" d="M2364 2553l0 0 10 13 11 24 9 25 6 24 6-16 9-24 11-33 10-27 8-20 8 6 9 17 12 37 8 49 6 68 7-62 8-52 12-47 9-27 8-15 8 22 9 33 12 52 9 55 6 53 6-54 8-58 12-58 9-39 8-26 8 14 10 31 11 59 9 73 6 104 6-96 9-71 11-64 10-38 7-24 8 28 10 40 11 59 9 60 6 71 6-87 9-73 11-68 10-44 8-28 7 11 10 22 11 43 9 51 6 79 6-81 9-57 11-50 10-28 8-16 8 23 9 37 12 59 8 63 6 66 7-65 8-65 12-63 9-43 8-30 8 18 9 36 12 68 9 86 6 138 6-125 8-79 12-69 9-43 8-29 8 41 10 61 11 92 9 103 6 172 6-179 9-112 11-101 10-66 7-44 8 21 10 33 11 57 9 69 6 116 6-134 9-85 11-70 10-40 8-23 7 25 10 40 11 61 9 66 6 80 6-86 9-76 11-72 10-49 8-32 8 12 9 25 12 49 8 59 6 71 7-78 8-69 12-61 9-35 8-21 8 23 9 38 12 59 9 63 6 135 6-142 8-73 12-71 9-48 8-32 8 12 10 25 11 47 9 58 6 83 6-90 9-68 11-61 10-35 7-21 8 23 10 36 11 57 9 61 6 68 6-75 9-73 11-71 10-47 8-32 7 11 10 23 11 46 9 56 6 104 6-112 9-67 11-59 10-35 8-21 8 23 9 35 12 56 8 61 6 84 7-92 8-70 12-69 9-46 8-31 8 12 9 24 12 47 9 57 6 97 6-103 8-66 12-58 9-34 8-20 8 24 10 37 11 59 9 62 6 83 6-88 9-71 11-69 10-47 7-31 8 13 10 25 11 48 9 59 6 121 6-127 9-67 11-58 10-35 8-20 7 24 10 38 11 60 9 65 6 77 6-82 9-72 11-70 10-47 8-31 8 14 9 27 12 53 8 65 6 92 7-94 8-70 12-62 9-36 8-22 8 28 9 46 12 72 9 82 6 103 6-103 8-85 12-80 9-55 8-37 8 21 10 37 11 67 9 82 6 124 6-129 9-90 11-77 10-46 7-28 8 31 10 45 11 68 9 76 6 104 6-118 9-90 11-83 10-54 8-36 7 14 10 25 11 48 9 58 6 99 6-110 9-71 11-61 10-36 8-20 8 22 9 35 12 55 8 57 6 136 7-144 8-69 12-67 9-44 8-30 8 9 9 21 12 41 9 49 6 73 6-81 8-60 12-53 9-30 8-18 8 21 10 33 11 51 9 51 6 68 6-74 1-12M2547 2544V2987M2548 2544V2987"/>
<path stroke="#0072BD" d="M2384 2557l4 3 9 14 12 24 8 25 7 32 6-25 8-24 12-34 9-26 8-19 8 4 10 16 11 37 9 49 6 55 6-51 9-52 11-46 10-25 7-14 8 20 10 33 11 51 9 55 6 60 6-60 9-58 11-57 10-38 8-26 7 15 10 31 11 61 9 77 6 118 6-110 9-75 11-66 10-39 8-23 8 26 9 40 12 60 8 63 6 79 6-95 9-76 12-69 9-44 8-28 8 11 9 23 12 44 8 55 7 119 6-121 8-60 12-52 9-29 8-16 8 24 10 37 11 61 9 66 6 105 6-104 9-68 11-65 10-43 7-29 8 18 10 37 11 70 9 92 6 144 6-131 9-84 11-71 10-44 8-29 7 40 10 61 11 94 9 106 6 159 6-168 9-116 11-102 10-66 8-44 8 20 9 32 12 57 8 72 6 118 6-135 9-88 12-71 9-39 8-22 8 25 9 39 12 63 8 68 7 136 6-142 8-78 12-74 9-49 8-32 8 12 10 25 11 49 9 62 6 121 6-128 9-72 11-61 10-36 7-20 8 23 10 37 11 59 9 65 6 170 6-177 9-75 11-72 10-47 8-32 7 12 10 24 11 47 9 60 6 122 6-129 9-70 11-61 10-35 8-21 8 22 9 35 12 58 8 62 6 85 6-93 9-73 12-72 9-47 8-31 8 10 9 23 12 45 8 57 7 65 6-73 8-68 12-59 9-35 8-20 8 22 10 34 11 56 9 61 6 73 6-81 9-71 11-68 10-45 7-30 8 11 10 23 11 46 9 58 6 106 6-111 9-67 11-58 10-33 8-19 7 22 10 37 11 58 9 64 6 78 6-83 9-72 11-70 10-45 8-31 8 12 9 24 12 48 8 60 6 74 6-79 9-68 12-59 9-34 8-19 8 23 9 38 12 60 8 66 7 92 6-97 8-73 12-71 9-46 8-31 8 14 10 27 11 53 9 67 6 102 6-104 9-72 11-62 10-36 7-21 8 28 10 45 11 73 9 85 6 166 6-166 9-87 11-82 10-54 8-36 7 20 10 37 11 67 9 85 6 121 6-127 9-93 11-77 10-45 8-28 8 30 9 43 12 69 8 77 6 113 6-126 9-92 12-83 9-54 8-35 8 12 9 25 12 49 8 60 7 76 6-87 8-73 12-62 9-35 8-20 8 22 10 34 11 54 9 59 6 81 6-90 9-69 11-67 10-44 7-29 8 8 10 20 11 40 9 50 6 60 6-69 9-59 11-53 10-29 8-16 7 20 10 31 11 50 9 52 6 90 5-82M2567 2538V2982M2568 2538V2982"/>
<path stroke="#A2142F" d="M2404 2570l9 11 12 22 8 23 6 27 7-20 8-23 12-31 9-25 8-18 8 3 9 14 12 35 8 46 7 54 6-48 8-50 12-45 9-24 8-12 8 19 10 31 11 50 9 55 6 66 6-66 9-57 11-57 10-37 7-24 8 13 10 30 11 60 9 80 6 208 6-199 9-75 11-66 10-38 8-23 7 27 10 41 11 63 9 68 6 80 6-96 9-82 11-73 10-44 8-28 8 10 9 23 12 46 8 58 6 74 7-77 8-63 12-53 9-30 8-15 8 23 9 37 12 62 8 69 7 75 6-74 8-71 12-67 9-43 8-29 8 18 10 36 11 71 9 93 6 130 6-116 9-87 11-71 10-42 7-27 8 39 10 61 11 95 9 112 6 183 6-190 9-121 11-104 10-66 8-43 7 19 10 33 11 59 9 76 6 150 6-168 9-92 11-74 10-39 8-22 8 24 9 39 12 64 8 72 6 92 7-99 8-80 12-76 9-48 8-32 8 12 9 24 12 50 8 64 7 109 6-116 8-74 12-63 9-35 8-20 8 22 10 37 11 60 9 67 6 78 6-85 9-78 11-72 10-47 7-31 8 11 10 23 11 48 9 61 6 88 6-95 9-72 11-61 10-35 8-20 7 21 10 35 11 57 9 64 6 86 6-94 9-75 11-72 10-47 8-30 8 9 9 22 12 45 8 58 6 78 7-86 8-70 12-59 9-34 8-19 8 20 9 34 12 55 8 62 7 163 6-171 8-72 12-68 9-45 8-29 8 10 10 22 11 47 9 58 6 92 6-97 9-68 11-58 10-32 7-18 8 21 10 36 11 58 9 65 6 86 6-92 9-73 11-69 10-45 8-29 7 11 10 23 11 48 9 61 6 71 6-76 9-70 11-58 10-33 8-19 8 23 9 36 12 60 8 67 6 82 7-86 8-75 12-70 9-46 8-30 8 13 9 26 12 53 8 68 7 177 6-179 8-73 12-62 9-35 8-20 8 27 10 44 11 73 9 86 6 155 6-154 9-89 11-81 10-53 7-36 8 19 10 37 11 67 9 88 6 204 6-209 9-95 11-78 10-45 8-26 7 28 10 44 11 70 9 80 6 141 6-154 9-95 11-85 10-54 8-34 8 11 9 25 12 49 8 64 6 100 7-112 8-76 12-63 9-35 8-19 8 21 9 33 12 55 8 60 7 67 6-77 8-70 12-67 9-44 8-28 8 8 10 19 11 39 9 50 6 62 6-70 9-60 11-52 10-29 7-16 8 19 10 31 11 50 9 52 6 66 6-73 3-19M2588 2559V2975M2589 2559V2975"/>
<path stroke="#4DBEEE" d="M2425 2589l0 0 11 19 9 20 6 27 6-21 9-19 11-29 10-23 8-16 8 1 9 12 12 31 8 42 6 55 7-49 8-43 12-43 9-22 8-11 8 17 9 30 12 48 9 53 6 57 6-57 8-56 12-55 9-36 8-23 8 11 10 27 11 59 9 79 6 135 6-123 9-74 11-63 10-37 7-21 8 27 10 43 11 67 9 75 6 119 6-136 9-88 11-77 10-47 8-29 7 10 10 23 11 48 9 60 6 136 6-139 9-66 11-55 10-29 8-16 8 23 9 37 12 62 8 71 6 212 7-212 8-73 12-68 9-43 8-27 8 16 9 34 12 69 9 94 6 131 6-118 8-87 12-69 9-41 8-24 8 38 10 61 11 97 9 118 6 199 6-204 9-123 11-105 10-67 7-43 8 20 10 34 11 62 9 82 6 122 6-142 9-99 11-76 10-41 8-22 7 24 10 39 11 64 9 75 6 91 6-98 9-83 11-76 10-48 8-31 8 10 9 25 12 50 8 67 6 172 7-179 8-77 12-64 9-35 8-19 8 21 9 36 12 61 9 69 6 107 6-114 8-80 12-73 9-47 8-30 8 10 10 23 11 48 9 63 6 91 6-99 9-73 11-62 10-34 7-19 8 20 10 34 11 57 9 66 6 94 6-103 9-77 11-72 10-46 8-29 7 8 10 21 11 45 9 59 6 81 6-89 9-71 11-60 10-33 8-18 8 19 9 33 12 55 8 62 6 129 7-137 8-74 12-69 9-43 8-28 8 9 9 21 12 46 9 59 6 91 6-96 8-69 12-57 9-32 8-16 8 20 10 34 11 58 9 66 6 99 6-105 9-74 11-69 10-44 7-28 8 9 10 23 11 48 9 62 6 75 6-81 9-70 11-59 10-32 8-17 7 21 10 36 11 59 9 69 6 103 6-108 9-76 11-71 10-44 8-29 8 11 9 25 12 53 8 69 6 98 7-100 8-75 12-61 9-34 8-19 8 26 9 42 12 73 9 87 6 120 6-119 8-90 12-80 9-52 8-34 8 18 10 35 11 69 9 91 6 143 6-148 9-98 11-78 10-44 7-25 8 28 10 45 11 71 9 85 6 113 6-127 9-99 11-87 10-54 8-34 7 12 10 24 11 51 9 66 6 146 6-158 9-79 11-65 10-35 8-19 8 20 9 34 12 55 8 61 6 130 7-140 8-72 12-68 9-43 8-27 8 7 9 18 12 39 9 50 6 94 6-102 8-61 12-52 9-28 8-14 8 17 10 30 11 49 9 52 6 105 6-111 9-60 2-12M2608 2602V2968M2609 2602V2968"/>
<path stroke="#77AC30" d="M2445 2593l3 4 11 18 9 20 6 19 6-13 9-20 11-28 10-23 8-16 8 1 9 11 12 30 8 42 6 45 6-40 9-43 11-42 10-21 8-10 8 16 9 28 12 48 8 53 7 56 6-55 8-56 12-54 9-36 8-22 8 11 10 27 11 61 9 83 6 113 6-100 9-79 11-64 9-37 8-21 8 26 10 42 11 67 9 78 6 214 6-230 9-92 11-78 10-46 8-28 7 9 10 23 11 49 9 64 6 115 6-118 9-70 11-56 10-29 8-15 8 22 9 37 12 64 8 74 6 113 6-112 9-77 11-69 10-43 8-27 8 16 9 34 12 72 8 99 7 180 6-167 8-91 12-72 9-40 8-24 8 38 10 60 11 98 9 120 6 215 6-221 9-127 11-106 9-66 8-42 8 18 10 33 11 62 9 84 6 186 6-205 9-101 11-77 10-40 8-21 7 23 10 39 11 65 9 78 6 138 6-145 9-85 11-78 10-48 8-30 8 10 9 23 12 52 8 69 6 88 6-96 9-79 11-65 10-34 8-19 8 21 9 35 12 61 8 72 7 101 6-109 8-82 12-74 9-46 8-29 8 9 10 22 11 48 9 65 6 109 6-117 9-75 11-62 9-34 8-18 8 19 10 33 11 57 9 67 6 123 6-132 9-78 11-72 10-46 8-29 7 7 10 20 11 45 9 61 6 110 6-119 9-72 11-60 10-33 8-17 8 18 9 32 12 55 8 63 6 69 6-78 9-75 11-68 10-42 8-27 8 7 9 21 12 46 8 60 7 82 6-88 8-69 12-57 9-31 8-16 8 19 10 34 11 58 9 66 6 79 6-84 9-75 11-69 9-43 8-28 8 9 10 22 11 47 9 63 6 82 6-87 9-72 11-58 10-32 8-16 7 20 10 35 11 60 9 69 6 95 6-100 9-77 11-70 10-44 8-28 8 10 9 25 12 53 8 71 6 108 6-110 9-77 11-61 10-34 8-17 8 24 9 43 12 73 8 90 7 124 6-123 8-93 12-81 9-51 8-33 8 17 10 35 11 68 9 94 6 167 6-172 9-101 11-78 9-44 8-24 8 27 10 43 11 71 9 87 6 122 6-136 9-101 11-86 10-54 8-33 7 10 10 24 11 51 9 68 6 98 6-109 9-81 11-66 10-34 8-18 8 19 9 33 12 55 8 62 6 85 6-95 9-74 11-67 10-43 8-26 8 6 9 17 12 39 8 50 7 60 6-68 8-61 12-51 9-28 8-13 8 16 10 30 11 48 9 52 6 147 6-153 8-55M2628 2594V2961M2629 2594V2961"/>
<path stroke="#7E2F8E" d="M2465 2619l0 1 9 15 6 22 6-16 9-16 11-24 10-20 8-14 7-1 10 8 11 25 9 36 6 46 6-41 9-37 11-35 10-20 8-9 8 15 9 27 12 46 8 49 6 51 7-51 8-53 12-53 9-34 8-21 8 8 9 24 12 55 9 78 6 142 6-127 8-73 12-59 9-33 8-18 8 27 10 44 11 72 9 87 6 161 6-176 9-100 11-83 10-49 7-29 8 9 10 22 11 50 9 67 6 131 6-135 9-74 11-57 10-30 8-14 7 21 10 37 11 64 9 76 6 172 6-173 9-79 11-70 10-42 8-26 8 13 9 32 12 68 8 95 6 219 7-206 8-90 12-68 9-37 8-21 8 36 9 60 12 99 9 126 6 246 6-247 8-128 12-105 9-65 8-41 8 18 10 35 11 67 9 92 6 210 6-231 9-110 11-82 10-42 7-21 8 22 10 38 11 67 9 81 6 106 6-114 9-89 11-77 10-47 8-30 7 9 10 23 11 52 9 72 6 309 6-317 9-82 11-65 10-35 8-17 8 19 9 35 12 62 8 74 6 183 7-191 8-84 12-75 9-46 8-28 8 7 9 22 12 49 9 67 6 195 6-203 8-78 12-61 9-34 8-17 8 18 10 32 11 58 9 68 6 185 6-194 9-80 11-73 10-45 7-28 8 6 10 19 11 45 9 62 6 76 6-85 9-73 11-61 10-32 8-16 7 17 10 31 11 55 9 64 6 84 6-93 9-76 11-70 10-43 8-25 8 6 9 20 12 45 8 61 6 83 7-89 8-70 12-57 9-29 8-15 8 18 9 32 12 58 9 67 6 88 6-94 8-75 12-69 9-43 8-26 8 8 10 20 11 48 9 64 6 87 6-93 9-72 11-59 10-30 7-16 8 19 10 34 11 60 9 70 6 147 6-152 9-79 11-70 10-43 8-27 7 9 10 23 11 53 9 71 6 89 6-92 9-77 11-61 10-32 8-16 8 23 9 40 12 72 8 89 6 212 7-211 8-92 12-80 9-49 8-31 8 16 9 33 12 69 9 96 6 167 6-170 8-102 12-78 9-42 8-23 8 25 10 44 11 75 9 92 6 162 6-175 9-106 11-89 10-54 7-32 8 9 10 24 11 52 9 72 6 98 6-110 9-85 11-67 10-35 8-18 7 19 10 32 11 56 9 65 6 134 6-144 9-77 11-69 10-42 8-26 8 5 9 17 12 38 8 52 6 100 7-109 8-62 12-51 9-26 8-13 8 15 9 27 12 48 9 53 6 107 6-113 8-60 12-57 2-9M2648 2674V2954M2649 2674V2954"/>
<path stroke="#EDB120" d="M2485 2601l1 0 9 11 12 18 8 21 6 20 6-15 9-21 12-29 9-23 8-15 8 0 9 9 12 30 8 41 7 43 6-38 8-47 12-39 9-19 8-8 8 14 10 27 11 47 9 54 6 56 6-53 9-56 11-54 10-34 7-20 8 10 10 28 11 65 9 91 6 199 6-187 9-88 11-69 10-37 8-19 7 23 10 39 11 68 9 83 6 187 6-202 9-97 11-79 10-46 8-26 8 8 9 23 12 52 8 71 6 251 6-254 9-77 12-59 9-29 8-13 8 20 9 38 12 66 8 82 7 101 6-100 8-84 12-71 9-43 8-25 8 15 10 35 11 76 9 109 6 182 6-168 9-102 11-74 10-40 7-22 8 35 10 57 11 97 9 125 6 326 6-334 9-134 11-107 10-64 8-39 7 14 10 30 11 61 9 89 6 337 6-356 9-104 11-76 10-38 8-18 8 21 9 38 12 67 8 83 6 144 6-150 9-92 12-79 9-48 8-28 8 8 9 22 12 53 8 73 7 267 6-275 8-84 12-66 9-33 8-17 8 19 10 34 11 61 9 76 6 118 6-126 9-86 11-75 10-45 7-27 8 6 10 21 11 48 9 68 6 102 6-110 9-79 11-63 10-32 8-17 7 17 10 31 11 57 9 69 6 83 6-92 9-81 11-73 10-44 8-27 8 5 9 18 12 45 8 62 6 80 6-89 9-75 12-60 9-31 8-15 8 15 9 30 12 54 8 65 7 102 6-111 8-76 12-67 9-41 8-25 8 5 10 19 11 45 9 62 6 74 6-79 9-71 11-57 10-29 7-14 8 17 10 32 11 58 9 68 6 169 6-174 9-78 11-68 10-42 8-25 7 6 10 20 11 47 9 66 6 138 6-144 9-74 11-58 10-30 8-15 8 18 9 34 12 59 8 73 6 112 6-117 9-80 12-70 9-43 8-25 8 8 9 23 12 54 8 75 7 101 6-102 8-81 12-62 9-32 8-16 8 23 10 41 11 75 9 95 6 151 6-149 9-99 11-82 10-50 7-30 8 14 10 33 11 69 9 98 6 161 6-167 9-106 11-79 10-41 8-22 7 23 10 40 11 71 9 90 6 213 6-227 9-104 11-87 10-51 8-31 8 8 9 22 12 51 8 72 6 111 6-122 9-85 12-66 9-33 8-15 8 16 9 31 12 55 8 63 7 108 6-119 8-74 12-67 9-41 8-24 8 4 10 15 11 37 9 51 6 210 6-219 9-61 11-50 10-25 7-11 8 15 10 28 11 47 9 52 6 58 6-64 1-8M2668 2577V2947M2669 2577V2947"/>
<path stroke="#D95319" d="M2505 2633l1 2 9 14 6 30 6-26 9-15 11-23 10-19 7-13 8-2 10 6 11 23 9 33 6 39 6-34 9-36 11-33 10-18 8-6 7 13 10 24 11 44 9 47 6 54 6-52 9-52 11-52 10-32 8-18 8 6 9 22 12 57 8 82 6 129 6-113 9-77 12-60 9-32 8-15 8 24 9 42 12 75 8 94 7 268 6-283 8-107 12-86 9-48 8-28 8 7 10 23 11 52 9 74 6 95 6-100 9-80 11-61 10-29 7-12 8 19 10 37 11 66 9 82 6 183 6-184 9-86 11-72 10-41 8-24 7 12 10 30 11 70 9 102 6 180 6-167 9-97 11-69 10-35 8-18 8 34 9 57 12 99 8 131 6 325 6-325 9-135 12-105 9-62 8-39 8 15 9 32 12 68 8 98 7 253 6-274 8-116 12-83 9-40 8-19 8 20 10 37 11 68 9 86 6 184 6-191 9-95 11-77 10-47 7-28 8 7 10 22 11 53 9 77 6 104 6-112 9-88 11-66 10-34 8-15 7 17 10 34 11 62 9 78 6 103 6-111 9-89 11-76 10-44 8-27 8 6 9 20 12 49 8 70 6 106 6-114 9-81 12-62 9-32 8-15 8 15 9 31 12 57 8 71 7 167 6-176 8-84 12-73 9-44 8-26 8 4 10 17 11 45 9 64 6 141 6-151 9-76 11-60 10-31 7-14 8 14 10 29 11 54 9 66 6 91 6-100 9-79 11-69 10-41 8-24 7 4 10 18 11 45 9 62 6 89 6-95 9-71 11-56 10-28 8-13 8 16 9 31 12 56 8 69 6 95 6-100 9-78 12-68 9-41 8-24 8 5 9 19 12 47 8 66 7 90 6-95 8-75 12-59 9-29 8-13 8 17 10 32 11 59 9 73 6 97 6-102 9-81 11-71 10-41 7-24 8 6 10 22 11 52 9 74 6 181 6-183 9-80 11-62 10-30 8-14 7 21 10 39 11 72 9 93 6 136 6-134 9-97 11-80 10-47 8-28 8 13 9 31 12 69 8 101 6 179 6-182 9-108 12-78 9-40 8-20 8 23 9 42 12 74 8 97 7 214 6-227 8-111 12-89 9-52 8-31 8 7 10 23 11 53 9 76 6 116 6-128 9-90 11-68 10-34 7-15 8 16 10 31 11 57 9 67 6 143 6-154 9-80 11-68 10-41 8-24 7 3 10 15 11 37 9 52 6 68 6-76 9-63 11-50 10-25 8-11 8 13 9 25 12 48 8 53 6 101 6-107 9-60 12-55 1-7M2688 2678V2940M2689 2678V2940"/>
<path stroke="#0072BD" d="M2525 2637l4 5 9 14 6 17 6-12 9-16 11-23 10-19 7-13 8-2 10 5 11 22 9 33 6 40 6-35 9-36 11-33 10-17 8-5 8 12 9 23 11 42 9 48 6 54 6-51 9-52 11-51 10-31 8-18 8 6 9 22 12 58 8 87 6 128 7-112 8-81 12-62 9-31 8-15 8 23 10 41 11 73 9 97 6 231 6-246 8-110 12-85 9-48 8-27 8 7 10 21 11 54 9 77 6 139 6-144 9-83 11-61 10-29 7-12 8 19 10 36 11 67 9 86 6 119 6-120 9-89 11-73 10-41 8-23 8 11 9 31 11 71 9 107 6 257 6-245 9-101 11-70 10-34 8-16 8 32 9 55 12 99 8 133 6 300 7-302 8-138 12-104 9-61 8-37 8 13 10 30 11 66 9 100 6 277 6-297 8-118 12-82 9-38 8-18 8 19 10 36 11 68 9 89 6 158 6-165 9-96 11-79 10-46 7-27 8 6 10 21 11 54 9 79 6 166 6-175 9-90 11-67 10-32 8-15 8 16 9 33 11 63 9 80 6 156 6-165 9-91 11-76 10-44 8-25 8 4 9 20 12 49 8 72 6 141 7-150 8-82 12-63 9-32 8-14 8 14 10 30 11 57 9 72 6 169 6-178 8-85 12-73 9-43 8-25 8 2 10 16 11 45 9 65 6 86 6-96 9-77 11-61 10-30 7-13 8 13 10 28 11 54 9 67 6 126 6-136 9-79 11-70 10-39 8-23 8 3 9 17 11 44 9 64 6 78 6-84 9-72 11-57 10-27 8-11 8 14 9 30 12 57 8 70 6 209 7-215 8-78 12-69 9-40 8-23 8 4 10 18 11 47 9 68 6 83 6-89 8-76 12-59 9-28 8-12 8 16 10 31 11 59 9 75 6 90 6-96 9-82 11-71 10-40 7-24 8 6 10 21 11 52 9 77 6 102 6-104 9-83 11-61 10-30 8-12 8 19 9 38 11 73 9 96 6 186 6-184 9-100 11-80 10-46 8-27 8 11 9 31 12 68 8 104 6 259 7-263 8-110 12-78 9-39 8-18 8 21 10 40 11 74 9 98 6 190 6-203 8-113 12-89 9-50 8-30 8 6 10 21 11 53 9 79 6 127 6-139 9-92 11-68 10-33 7-15 8 15 10 31 11 56 9 69 6 97 6-109 9-81 11-68 10-40 8-22 8 1 9 14 11 37 9 52 6 66 6-75 9-62 11-50 10-24 8-10 8 12 9 25 12 47 8 53 6 80 7-86 8-59 10-50M2708 2666V2939M2709 2666V2939"/>
<path stroke="#A2142F" d="M2545 2653l6 8 6 10 6-6 9-14 11-21 10-17 8-12 7-4 10 4 11 19 9 30 6 40 6-36 9-32 11-30 10-15 8-5 8 11 9 23 12 40 8 45 6 45 7-43 8-50 12-49 9-30 8-17 8 4 9 20 12 55 8 84 7 151 6-134 8-78 12-60 9-28 8-13 8 22 10 42 11 76 9 103 6 214 6-228 9-115 11-88 10-48 7-27 8 5 10 22 11 54 9 80 6 145 6-151 9-86 11-63 10-28 8-12 7 18 10 36 11 68 9 88 6 116 6-118 9-92 11-73 10-41 8-22 8 10 9 29 12 70 8 106 6 235 7-223 8-102 12-69 9-32 8-14 8 30 9 55 12 99 8 136 7 415 6-414 8-139 12-103 9-59 8-36 8 12 10 30 11 68 9 106 6 205 6-225 9-124 11-84 10-40 7-17 8 18 10 36 11 69 9 91 6 144 6-151 9-100 11-79 10-45 8-26 7 5 10 21 11 54 9 82 6 217 6-226 9-93 11-67 10-33 8-14 8 16 9 32 12 63 8 82 6 123 7-131 8-93 12-77 9-44 8-24 8 3 9 19 12 50 8 73 7 129 6-137 8-85 12-63 9-30 8-14 8 13 10 29 11 58 9 73 6 101 6-110 9-87 11-74 10-42 7-25 8 2 10 16 11 44 9 66 6 100 6-110 9-79 11-60 10-30 8-12 7 12 10 27 11 54 9 67 6 105 6-114 9-81 11-70 10-40 8-22 8 3 9 16 12 44 8 63 6 80 7-86 8-72 12-56 9-27 8-10 8 13 9 30 12 56 8 70 7 134 6-139 8-79 12-69 9-39 8-22 8 3 10 17 11 47 9 68 6 100 6-106 9-77 11-58 10-28 7-11 8 15 10 30 11 60 9 75 6 99 6-105 9-83 11-71 10-40 8-22 7 4 10 20 11 52 9 77 6 110 6-112 9-83 11-61 10-29 8-12 8 19 9 37 12 71 8 97 6 169 7-167 8-101 12-79 9-45 8-25 8 10 9 29 12 69 8 105 7 260 6-262 8-112 12-78 9-37 8-18 8 21 10 39 11 75 9 103 6 166 6-180 9-115 11-90 10-51 7-28 8 5 10 20 11 54 9 82 6 160 6-173 9-95 11-69 10-33 8-14 7 15 10 30 11 57 9 71 6 102 6-114 9-83 11-70 10-39 8-22 8 1 9 13 12 37 8 53 6 73 7-82 8-63 12-50 9-24 8-9 8 11 9 24 12 46 8 53 7 127 6-133 8-59 12-54 5-21M2728 2714V2939M2729 2714V2939"/>
<path stroke="#4DBEEE" d="M2565 2655l2 2 9 12 6 23 6-20 9-13 11-22 10-17 8-13 8-3 9 3 12 20 8 29 6 35 6-31 9-32 12-30 9-15 8-5 8 11 9 22 12 40 8 45 7 47 6-44 8-49 12-49 9-30 8-17 8 5 10 22 11 58 9 89 6 133 6-115 9-84 11-62 10-30 7-14 8 22 10 42 11 76 9 103 6 228 6-243 9-116 11-89 10-49 8-26 7 6 10 22 11 55 9 83 6 271 6-276 9-89 11-64 10-29 8-12 8 19 9 36 12 69 8 91 6 272 6-273 9-94 12-75 9-41 8-23 8 11 9 30 12 73 8 111 7 313 6-300 8-106 12-71 9-33 8-15 8 32 10 55 11 100 9 138 6 374 6-375 9-142 11-105 10-61 7-36 8 11 10 30 11 67 9 106 6 646 6-666 9-124 11-84 10-39 8-17 7 18 10 36 11 70 9 94 6 179 6-187 9-101 11-79 10-47 8-26 8 5 9 21 12 55 8 83 6 187 6-196 9-94 12-69 9-32 8-15 8 16 9 33 12 63 8 83 7 145 6-153 8-95 12-77 9-44 8-25 8 4 10 19 11 50 9 74 6 138 6-147 9-85 11-64 10-31 7-14 8 13 10 29 11 58 9 74 6 156 6-166 9-87 11-74 10-43 8-25 7 2 10 15 11 45 9 66 6 103 6-113 9-79 11-61 10-30 8-13 8 13 9 27 12 53 8 68 6 87 6-97 9-81 12-70 9-39 8-22 8 2 9 16 12 44 8 64 7 79 6-85 8-72 12-56 9-27 8-11 8 14 10 29 11 57 9 71 6 92 6-98 9-80 11-68 10-40 7-22 8 3 10 18 11 46 9 69 6 147 6-153 9-77 11-59 10-28 8-11 7 15 10 31 11 59 9 76 6 110 6-115 9-85 11-70 10-41 8-22 8 4 9 21 12 53 8 78 6 174 6-176 9-84 12-62 9-29 8-12 8 19 9 37 12 74 8 99 7 258 6-256 8-103 12-80 9-46 8-26 8 11 10 30 11 69 9 107 6 199 6-202 9-113 11-79 10-39 7-18 8 21 10 39 11 76 9 102 6 182 6-196 9-116 11-91 10-50 8-29 7 5 10 21 11 54 9 82 6 138 6-150 9-96 11-69 10-34 8-14 8 15 9 30 12 57 8 71 6 82 6-95 9-82 12-70 9-39 8-22 8 1 9 13 12 36 8 52 7 69 6-78 8-62 12-50 9-23 8-9 8 11 10 24 11 46 9 52 6 97 6-103 9-58 11-53 1-3M2749 2686V2939M2750 2686V2939"/>
<path stroke="#77AC30" d="M2586 2667l6 8 6 18 6-15 9-13 11-19 10-17 8-12 8-4 9 3 11 17 9 26 6 33 6-29 9-29 11-28 10-14 8-4 8 10 9 22 12 38 8 42 6 44 7-41 8-47 12-47 9-30 8-17 8 5 10 21 11 56 9 88 6 242 6-223 8-82 12-60 9-30 8-13 8 23 10 43 11 78 9 107 6 184 6-199 9-119 11-91 10-50 7-28 8 6 10 23 11 56 9 85 6 125 6-131 9-91 11-65 10-30 8-12 8 19 9 36 11 71 9 92 6 217 6-218 9-97 11-75 10-42 8-23 8 11 9 30 12 73 8 112 6 228 7-216 8-106 12-71 9-33 8-15 8 32 10 56 11 102 9 140 6 393 6-392 8-143 12-106 9-61 8-37 8 13 10 30 11 70 9 109 6 326 6-347 9-128 11-86 10-41 7-18 8 19 10 36 11 71 9 96 6 164 6-172 9-103 11-81 10-46 8-27 8 6 9 21 11 56 9 85 6 214 6-223 9-96 11-70 10-33 8-15 8 16 9 33 12 64 8 85 6 143 7-152 8-96 12-78 9-45 8-25 8 4 10 19 11 51 9 75 6 153 6-162 8-86 12-65 9-31 8-14 8 13 10 30 11 57 9 75 6 128 6-138 9-88 11-75 10-43 7-25 8 1 10 16 11 45 9 67 6 93 6-104 9-80 11-61 10-30 8-13 8 12 9 27 11 54 9 68 6 90 6-101 9-81 11-70 10-40 8-22 8 2 9 16 12 44 8 64 6 141 7-147 8-73 12-56 9-27 8-10 8 13 10 30 11 56 9 71 6 113 6-119 8-79 12-69 9-40 8-22 8 3 10 18 11 47 9 68 6 97 6-102 9-78 11-59 10-28 7-11 8 14 10 31 11 60 9 76 6 122 6-127 9-85 11-71 10-41 8-22 8 5 9 20 11 53 9 79 6 151 6-154 9-84 11-62 10-29 8-12 8 18 9 38 12 74 8 99 6 244 7-242 8-103 12-80 9-46 8-26 8 11 10 30 11 71 9 108 6 212 6-215 8-114 12-80 9-38 8-18 8 21 10 40 11 76 9 105 6 222 6-235 9-119 11-92 10-51 7-29 8 5 10 21 11 55 9 84 6 153 6-166 9-97 11-71 10-34 8-14 8 14 9 31 11 58 9 72 6 89 6-102 9-84 11-71 10-39 8-23 8 2 9 13 12 36 8 51 6 59 7-68 8-62 12-49 9-24 8-9 8 11 10 24 11 45 9 52 6 72 6-78 8-58 12-53 5-17M2769 2716V2939M2770 2716V2939"/>
<path stroke="#7E2F8E" d="M2606 2676l5 5 6 17 6-14 9-12 11-19 10-16 8-11 7-5 10 2 11 16 9 24 6 38 6-34 9-28 11-26 10-13 8-4 8 10 9 21 12 37 8 40 6 44 7-41 8-44 12-47 9-29 8-17 8 5 9 21 12 56 9 88 6 124 6-104 8-81 12-61 9-30 8-13 8 23 10 44 11 80 9 109 6 333 6-347 9-122 11-93 10-51 7-29 8 7 10 23 11 58 9 87 6 128 6-134 9-94 11-67 10-30 8-13 7 20 10 37 11 71 9 95 6 154 6-156 9-98 11-77 10-42 8-24 8 11 9 32 12 73 8 114 6 218 7-206 8-107 12-72 9-33 8-15 8 32 9 58 12 103 9 142 6 395 6-395 8-143 12-107 9-63 8-37 8 13 10 32 11 70 9 111 6 243 6-264 9-130 11-88 10-42 7-18 8 18 10 38 11 71 9 98 6 201 6-209 9-105 11-82 10-46 8-27 7 5 10 22 11 57 9 86 6 128 6-137 9-98 11-70 10-34 8-15 8 16 9 33 12 65 8 86 6 191 7-200 8-97 12-79 9-45 8-25 8 4 9 19 12 51 9 76 6 135 6-144 8-88 12-65 9-31 8-14 8 13 10 29 11 58 9 76 6 239 6-250 9-89 11-75 10-44 7-25 8 2 10 16 11 45 9 67 6 177 6-188 9-81 11-62 10-30 8-13 7 12 10 28 11 53 9 68 6 97 6-108 9-81 11-71 10-40 8-22 8 2 9 16 12 44 8 64 6 166 7-172 8-73 12-56 9-27 8-11 8 14 9 30 12 56 9 71 6 102 6-107 8-80 12-69 9-40 8-22 8 3 10 17 11 47 9 69 6 92 6-97 9-78 11-60 10-28 7-11 8 15 10 30 11 60 9 77 6 108 6-113 9-86 11-71 10-41 8-23 7 5 10 21 11 53 9 80 6 177 6-180 9-85 11-62 10-30 8-11 8 18 9 38 12 74 8 100 6 152 7-149 8-104 12-81 9-46 8-26 8 12 9 30 12 72 9 109 6 311 6-313 8-116 12-80 9-39 8-19 8 21 10 41 11 77 9 107 6 180 6-194 9-120 11-93 10-52 7-29 8 5 10 21 11 56 9 86 6 129 6-142 9-99 11-72 10-34 8-15 7 15 10 30 11 59 9 73 6 90 6-104 9-85 11-71 10-40 8-22 8 1 9 13 12 37 8 50 6 108 7-117 8-62 12-49 9-23 8-9 8 11 9 23 12 44 9 52 6 86 6-92 8-57 12-53 6-20M2789 2729V2939M2790 2729V2939"/>
<path stroke="#EDB120" d="M2626 2650l3-1 8-4 12-5 9-2 8 1 8 6 9 12 12 22 9 24 6 25 6-21 8-27 12-33 9-23 8-15 8-1 10 7 11 24 9 33 6 36 6-38 9-38 11-31 10-15 7-5 8 14 10 29 11 61 9 81 6 105 6-86 9-75 11-66 10-38 8-22 7 13 10 34 11 74 9 111 6 258 6-267 9-121 11-85 10-42 8-19 8 18 9 36 12 70 8 94 6 289 7-297 8-103 12-80 9-44 8-24 8 8 9 26 12 61 9 90 6 167 6-169 8-95 12-67 9-31 8-12 8 21 10 43 11 81 9 114 6 326 6-316 9-110 11-81 10-44 7-26 8 21 10 45 11 94 9 140 6 384 6-379 9-136 11-93 10-49 8-26 7 27 10 48 11 86 9 123 6 316 6-337 9-143 11-104 10-58 8-32 8 8 9 25 12 62 8 95 6 206 7-216 8-105 12-72 9-34 8-14 8 18 9 36 12 68 9 93 6 136 6-145 8-105 12-83 9-47 8-26 8 5 10 21 11 55 9 84 6 125 6-135 9-95 11-69 10-33 7-14 8 15 10 33 11 63 9 82 6 172 6-181 9-94 11-78 10-44 8-24 7 2 10 17 11 48 9 72 6 191 6-202 9-86 11-65 10-31 8-14 8 13 9 28 12 56 8 73 6 97 7-108 8-86 12-74 9-43 8-25 8 1 9 15 12 43 9 64 6 126 6-137 8-78 12-60 9-29 8-13 8 13 10 28 11 54 9 68 6 124 6-129 9-77 11-67 10-39 7-22 8 2 10 17 11 45 9 66 6 116 6-122 9-75 11-57 10-28 8-11 7 14 10 30 11 59 9 73 6 293 6-299 9-82 11-70 10-41 8-23 8 4 9 18 12 49 8 71 6 104 7-109 8-81 12-61 9-28 8-12 8 16 9 33 12 64 9 83 6 149 6-152 8-89 12-74 9-41 8-23 8 7 10 24 11 62 9 93 6 182 6-180 9-96 11-69 10-33 7-14 8 22 10 43 11 83 9 115 6 285 6-286 9-120 11-90 10-52 8-29 7 11 10 29 11 69 9 106 6 245 6-256 9-120 11-83 10-41 8-19 8 17 9 35 12 69 8 93 6 139 7-153 8-108 12-85 9-48 8-27 8 5 9 19 12 50 9 72 6 104 6-118 8-85 12-63 9-28 8-12 8 13 10 26 11 49 9 57 6 155 6-167 9-68 11-60 10-36 7-21 8 0 10 11 11 32 9 45 6 90 6-96 9-53 11-42 10-18 8-5 3 4M2809 2644V2939M2810 2644V2939"/>
<path stroke="#D95319" d="M2646 2655l8-3 11-3 10-1 8 0 7 6 10 11 11 21 9 21 6 21 6-18 9-24 11-31 10-23 8-14 8-2 9 7 12 22 8 31 6 32 7-34 8-36 12-29 9-14 8-5 8 13 9 29 12 59 9 78 6 104 6-84 8-74 12-64 9-37 8-22 8 14 10 35 11 76 9 114 6 269 6-277 9-123 11-86 10-43 7-20 8 18 10 37 11 71 9 96 6 267 6-276 9-106 11-81 10-45 8-24 7 8 10 26 11 62 9 93 6 339 6-342 9-97 11-68 10-32 8-12 8 21 9 43 12 82 8 114 6 267 7-258 8-110 12-81 9-45 8-25 8 21 9 45 12 95 9 141 6 437 6-429 8-137 12-93 9-49 8-27 8 29 10 49 11 88 9 125 6 303 6-324 9-145 11-107 10-59 7-33 8 8 10 25 11 63 9 97 6 169 6-179 9-107 11-74 10-34 8-15 7 20 10 36 11 69 9 95 6 172 6-182 9-106 11-84 10-48 8-27 8 6 9 21 12 56 8 85 6 183 7-193 8-96 12-70 9-34 8-14 8 15 9 33 12 64 9 84 6 170 6-180 8-96 12-78 9-44 8-25 8 3 10 17 11 49 9 72 6 224 6-235 9-87 11-65 10-32 7-15 8 13 10 29 11 56 9 74 6 96 6-107 9-88 11-74 10-43 8-25 7 1 10 15 11 43 9 64 6 193 6-204 9-79 11-60 10-30 8-13 8 12 9 29 12 54 8 67 6 140 7-145 8-77 12-67 9-39 8-22 8 2 9 17 12 45 9 66 6 116 6-121 8-76 12-57 9-28 8-11 8 14 10 30 11 58 9 74 6 114 6-120 9-82 11-71 10-40 7-23 8 3 10 18 11 49 9 72 6 101 6-106 9-81 11-61 10-29 8-12 7 16 10 33 11 64 9 83 6 150 6-153 9-89 11-74 10-42 8-23 8 7 9 25 12 62 8 93 6 156 7-154 8-97 12-69 9-32 8-14 8 22 9 44 12 83 9 116 6 235 6-236 8-120 12-91 9-52 8-30 8 12 10 30 11 69 9 108 6 215 6-225 9-121 11-85 10-41 7-20 8 18 10 35 11 70 9 95 6 165 6-179 9-110 11-87 10-48 8-27 7 4 10 20 11 51 9 74 6 99 6-114 9-87 11-64 10-29 8-12 8 13 9 27 12 49 8 58 6 96 7-110 8-68 12-61 9-35 8-21 8 0 9 11 12 32 9 44 6 57 6-64 8-52 12-42 9-18 8-5 7 10M2829 2636V2938M2830 2636V2938"/>
<path stroke="#0072BD" d="M2666 2665l6-2 9-4 11-4 10-1 7 0 8 6 10 11 11 21 9 21 6 26 6-23 9-25 11-30 10-23 8-14 7-2 10 6 11 21 9 30 6 36 6-38 9-32 11-29 10-15 8-5 8 14 9 30 12 63 8 86 6 251 6-229 9-79 12-68 9-39 8-24 8 15 9 35 12 75 8 114 7 348 6-359 8-125 12-87 9-43 8-20 8 19 10 37 11 71 9 99 6 184 6-193 9-106 11-82 10-45 7-25 8 9 10 26 11 63 9 96 6 165 6-168 9-99 11-69 10-32 8-13 7 23 10 43 11 85 9 119 6 396 6-385 9-113 11-83 10-46 8-26 8 22 9 47 12 97 8 143 6 502 6-497 9-140 12-96 9-51 8-28 8 28 9 48 12 86 8 124 7 354 6-376 8-144 12-107 9-58 8-33 8 9 10 26 11 63 9 98 6 202 6-211 9-107 11-74 10-34 7-15 8 18 10 36 11 70 9 95 6 158 6-167 9-108 11-85 10-48 8-27 7 6 10 22 11 56 9 85 6 130 6-139 9-98 11-70 10-34 8-15 8 16 9 32 12 64 8 85 6 125 6-135 9-96 12-79 9-44 8-25 8 2 9 17 12 48 8 73 7 150 6-161 8-87 12-66 9-33 8-14 8 13 10 28 11 57 9 73 6 124 6-135 9-88 11-74 10-44 7-25 8 1 10 15 11 43 9 63 6 114 6-125 9-78 11-61 10-30 8-13 7 14 10 28 11 55 9 68 6 79 6-85 9-77 11-67 10-39 8-23 8 3 9 17 12 45 8 67 6 132 6-138 9-76 12-58 9-27 8-11 8 14 9 30 12 58 8 74 7 240 6-245 8-84 12-70 9-41 8-23 8 3 10 19 11 49 9 73 6 132 6-138 9-81 11-62 10-29 7-12 8 16 10 34 11 65 9 84 6 112 6-114 9-91 11-74 10-42 8-24 7 8 10 25 11 63 9 97 6 155 6-153 9-99 11-70 10-34 8-14 8 23 9 44 12 84 8 118 6 234 6-235 9-123 12-92 9-52 8-31 8 11 9 31 12 69 8 108 7 233 6-245 8-121 12-85 9-42 8-20 8 17 10 36 11 69 9 96 6 393 6-407 9-110 11-87 10-48 7-28 8 5 10 19 11 51 9 73 6 124 6-139 9-86 11-63 10-29 8-11 7 12 10 26 11 49 9 55 6 72 6-84 9-67 11-60 10-35 8-21 8 0 9 10 12 31 8 44 6 162 6-167 9-52 12-40 9-17 8-6 0 1M2849 2667V2937M2850 2667V2937"/>
</g>
<path d="M65.4 281.9L65.4 79.9M65.4 281.9L266.6 374.0M266.6 374.0L528.2 303.2M65.4 79.9L59.0 77.2M65.4 120.3L59.0 117.6M65.4 160.7L59.0 158.0M65.4 201.1L59.0 198.4M65.4 241.5L59.0 238.8M65.4 281.9L59.0 279.2M65.4 281.9L58.6 283.8M166.0 327.9L159.2 329.8M266.6 374.0L259.8 375.9M266.6 374.0L273.0 376.9M318.9 359.8L325.3 362.7M371.2 345.7L377.6 348.6M423.6 331.5L430.0 334.4M475.9 317.4L482.3 320.3M528.2 303.2L534.6 306.1" stroke="#383838" stroke-width="1" fill="none"/>
<g font-family="Liberation Serif, Times New Roman, serif" font-size="14.8" fill="#222" stroke="#222" stroke-width="0.2"><text x="53.9" y="80.4" text-anchor="end">0</text><text x="53.9" y="120.8" text-anchor="end">-20</text><text x="53.9" y="161.2" text-anchor="end">-40</text><text x="53.9" y="201.6" text-anchor="end">-60</text><text x="53.9" y="242.0" text-anchor="end">-80</text><text x="53.9" y="282.4" text-anchor="end">-100</text><text x="52.4" y="299.1" text-anchor="end">0.5</text><text x="154.0" y="345.1" text-anchor="end">0</text><text x="253.6" y="391.2" text-anchor="end">-0.5</text><text x="277.6" y="393.4">0</text><text x="329.9" y="379.2">0.2</text><text x="382.2" y="365.1">0.4</text><text x="434.6" y="350.9">0.6</text><text x="486.9" y="336.8">0.8</text><text x="539.2" y="322.6">1</text></g><text font-family="Liberation Serif, Times New Roman, serif" font-size="15" fill="#222" stroke="#222" stroke-width="0.2" x="67" y="389.6" textLength="101" lengthAdjust="spacing">Fractional delay</text><text font-family="Liberation Serif, Times New Roman, serif" font-size="15" fill="#222" stroke="#222" stroke-width="0.2" x="347" y="410.6" textLength="100.5" lengthAdjust="spacing">Frequency(<tspan font-style="italic">&#969;</tspan>/<tspan font-style="italic">&#960;</tspan>)</text><text font-family="Liberation Serif, Times New Roman, serif" font-size="15" fill="#222" stroke="#222" stroke-width="0.2" transform="translate(19.2 228.6) rotate(-90)" textLength="94.5" lengthAdjust="spacing">20lg|e(<tspan font-style="italic">&#969;</tspan>,p)|/dB</text>
<rect x="313" y="56.5" width="83.6" height="70.5" rx="2.5" fill="#fafafb" stroke="#9b9b9b" stroke-width="0.9"/><text font-family="Liberation Sans, Arial, sans-serif" font-size="14" x="319.6" y="77.9" fill="#262626">X</text><text font-family="Liberation Sans, Arial, sans-serif" font-size="14" x="333.0" y="77.9" fill="#0098e6" font-weight="bold">0.93</text><text font-family="Liberation Sans, Arial, sans-serif" font-size="14" x="319.6" y="97.5" fill="#262626">Y</text><text font-family="Liberation Sans, Arial, sans-serif" font-size="14" x="333.0" y="97.5" fill="#0098e6" font-weight="bold">0.49</text><text font-family="Liberation Sans, Arial, sans-serif" font-size="14" x="319.6" y="117.1" fill="#262626">Z</text><text font-family="Liberation Sans, Arial, sans-serif" font-size="14" x="333.0" y="117.1" fill="#0098e6" font-weight="bold">-19.8142</text><circle cx="310.8" cy="55.1" r="2.6" fill="#111"/>
<text font-family="Liberation Serif, Times New Roman, serif" font-size="31" y="463.8" fill="#111"><tspan x="261.8">(</tspan><tspan x="271.0" font-weight="bold">c</tspan><tspan x="284.2">)</tspan></text>
</svg>
</body></html>
